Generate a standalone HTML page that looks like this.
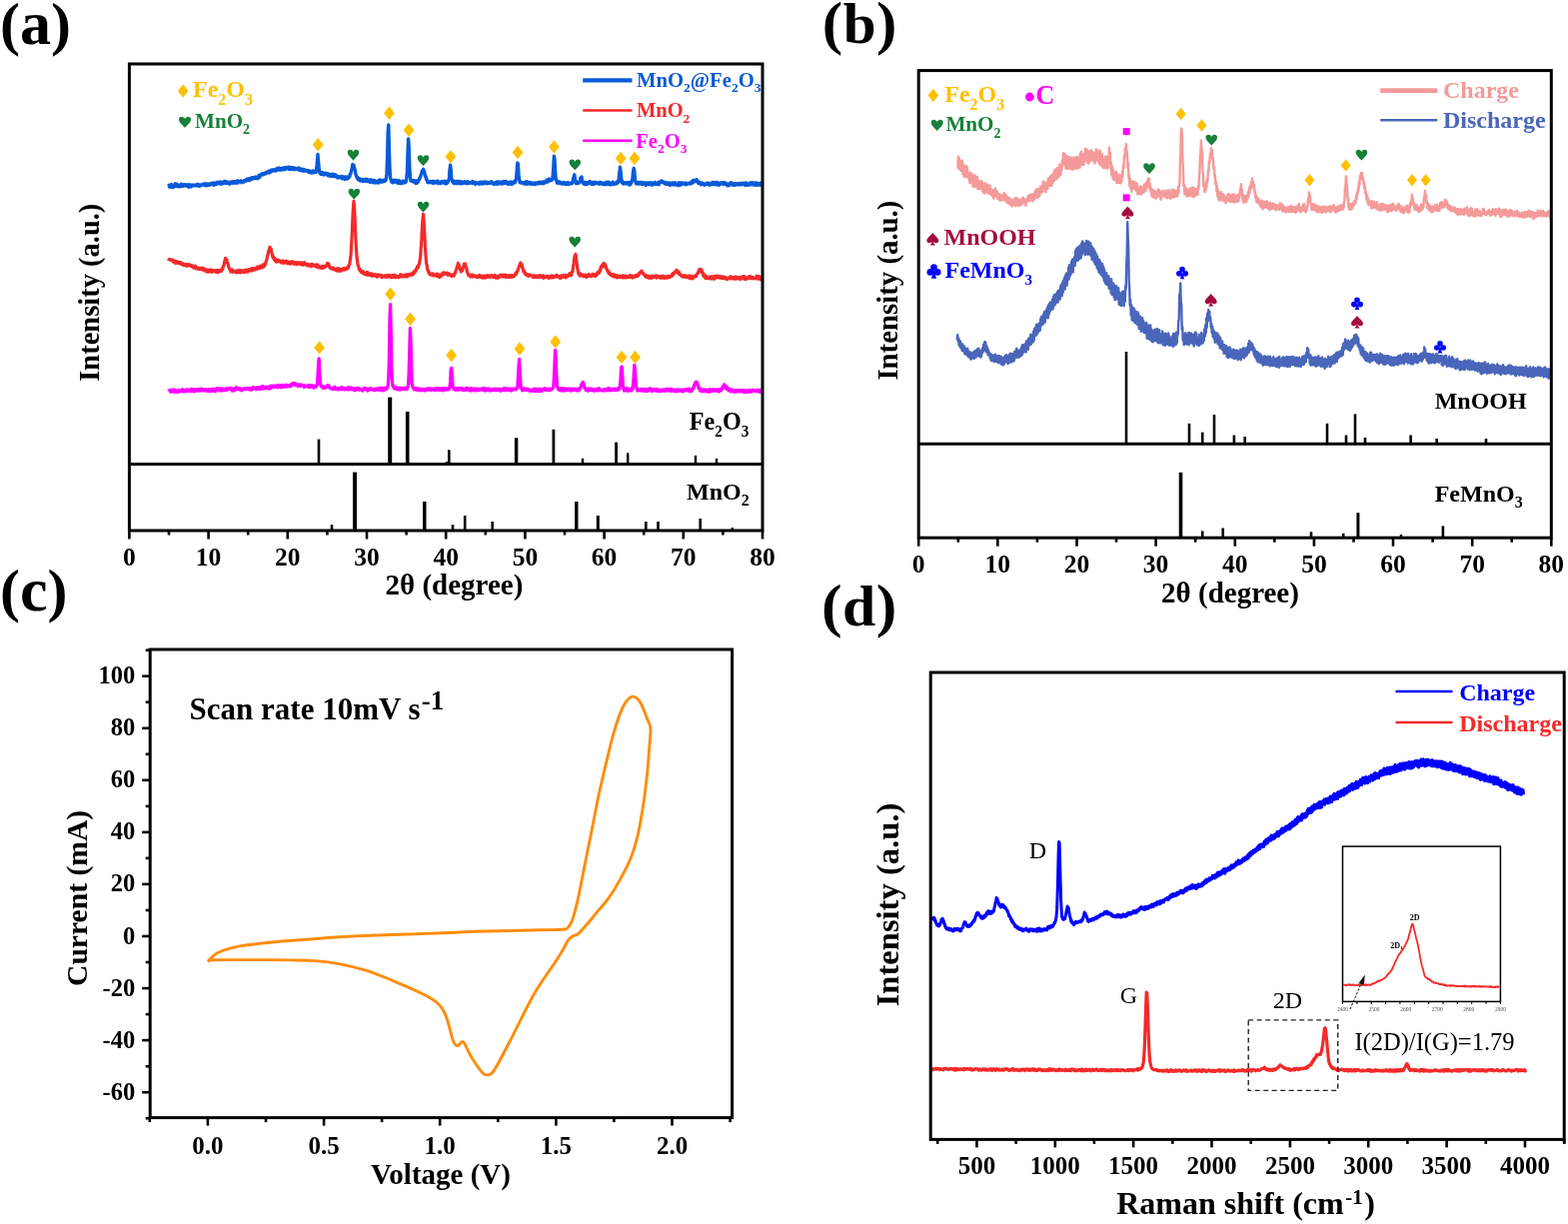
<!DOCTYPE html><html><head><meta charset="utf-8"><title>Figure</title><style>html,body{margin:0;padding:0;background:#fff;}body{width:1569px;height:1225px;overflow:hidden;}svg{display:block;}</style></head><body><svg width="1569" height="1225" viewBox="0 0 1569 1225" font-family='"Liberation Serif", "Times New Roman", serif'><text x="0" y="44" font-size="60" font-weight="bold" text-anchor="start" fill="#000">(<tspan font-size="62">a</tspan>)</text>
<polyline points="168.6,186.7 169.2,185.3 169.8,187.1 170.4,185.4 171,186.3 171.6,184.6 172.2,187.3 172.8,185.8 173.4,187.5 174,185.7 174.6,186.2 175.2,183.9 175.8,186.3 176.4,184.1 177,186.2 177.6,184.7 178.2,186.7 178.8,186.2 179.4,186.6 180,185.4 180.6,186.8 181.2,184.2 181.8,185.5 182.4,184.5 183,186.3 183.6,184.9 184.2,185.8 184.8,184.7 185.4,186 186,184.9 186.6,185.7 187.2,185 187.8,186.5 188.4,184.8 189,187.3 189.6,185.1 190.2,186.7 190.8,185 191.4,186.8 192,185.2 192.6,185.9 193.2,185.1 193.8,185.5 194.4,185.3 195,185.7 195.6,185.1 196.2,185.7 196.8,184.9 197.4,185.9 198,184.4 198.6,186 199.2,185.4 199.8,186.3 200.4,185.1 201,185.5 201.6,184.9 202.2,185 202.8,184.4 203.4,185 204,184.8 204.6,185.4 205.2,183.8 205.8,185.4 206.4,184.4 207,185.8 207.6,184.1 208.2,185.4 208.8,184.2 209.4,185.2 210,184.1 210.6,184.6 211.2,183.6 211.8,184.4 212.4,183.4 213,184.5 213.6,183.2 214.2,185.3 214.8,183.1 215.4,183.8 216,183.2 216.6,184.3 217.2,182.5 217.8,183.7 218.4,182.3 219,183.4 219.6,182.2 220.2,184 220.8,182.2 221.4,184 222,182.3 222.6,183.9 223.2,182.9 223.8,182.8 224.4,181.5 225,183.2 225.6,181.6 226.2,183.2 226.8,182.1 227.4,183.3 228,182.6 228.6,183.3 229.2,182.4 229.8,184.2 230.4,182.4 231,183.4 231.6,181.9 232.2,182.8 232.8,182.1 233.4,183.4 234,181.7 234.6,183.1 235.2,181.8 235.8,182.9 236.4,182.1 237,183 237.6,180.9 238.2,183 238.8,181.2 239.4,182 240,181.5 240.6,182 241.2,180.9 241.8,182.8 242.4,181.6 243,182.1 243.6,181.3 244.2,182 244.8,180.6 245.4,181 246,180 246.6,180.9 247.2,179.2 247.8,180.5 248.4,179.4 249,180.4 249.6,178.8 250.2,180.3 250.8,178.6 251.4,179.4 252,177.7 252.6,179 253.2,177.8 253.8,178.7 254.4,177.9 255,178.4 255.6,177.1 256.2,178.6 256.8,177.7 257.4,178.7 258,177.1 258.6,178.2 259.2,175.3 259.8,177.4 260.4,175.5 261,175.7 261.6,174.3 262.2,174.7 262.8,173.7 263.4,174.8 264,173.6 264.6,174.4 265.2,173.2 265.8,173.8 266.4,172.4 267,173.2 267.6,171.9 268.2,172.5 268.8,171.3 269.4,173 270,171.5 270.6,172.4 271.2,170.2 271.8,171.5 272.4,170.2 273,171 273.6,169.7 274.2,170.7 274.8,170.1 275.4,171 276,169.4 276.6,170.6 277.2,168.5 277.8,170.2 278.4,168.5 279,169.1 279.6,168.1 280.2,170.1 280.8,168.8 281.4,170.1 282,168.5 282.6,169.7 283.2,168.2 283.8,169.6 284.4,167.8 285,169.7 285.6,167.9 286.2,168.8 286.8,167.5 287.4,168.3 288,167.6 288.6,169.2 289.2,167.2 289.8,169.3 290.4,168.1 291,169.3 291.6,167.5 292.2,169.4 292.8,168.1 293.4,168.9 294,168 294.6,169.8 295.2,168.3 295.8,169 296.4,168.6 297,169 297.6,168.9 298.2,170.1 298.8,167.9 299.4,169.7 300,168.8 300.6,170.5 301.2,169 301.8,170.7 302.4,169.6 303,171.1 303.6,169.4 304.2,170.9 304.8,169.8 305.4,171.1 306,170.8 306.6,171 307.2,170.6 307.8,171.5 308.4,170.9 309,172.2 309.6,170.9 310.2,172.6 310.8,171.7 311.4,173 312,171.4 312.6,173 313.2,170.9 313.8,172.5 314.4,172.1 315,172.5 315.6,171.5 316.2,172.2 316.8,168.1 317.4,162.3 318,154.5 318.6,162.1 319.2,168 319.8,172.8 320.4,172.1 321,174.2 321.6,172.8 322.2,174.3 322.8,172.6 323.4,174.8 324,173.4 324.6,175 325.2,173.5 325.8,174.3 326.4,173.2 327,174.6 327.6,173.9 328.2,175.7 328.8,173.9 329.4,175.7 330,174.6 330.6,176.5 331.2,174.8 331.8,176.3 332.4,174.3 333,176.6 333.6,174.4 334.2,176.3 334.8,174.8 335.4,176.6 336,175 336.6,177 337.2,176.2 337.8,177.9 338.4,176.5 339,177.7 339.6,176.7 340.2,177.4 340.8,177.4 341.4,178.2 342,176.6 342.6,178.8 343.2,176.9 343.8,178.4 344.4,177.6 345,179.4 345.6,177 346.2,178.4 346.8,177.7 347.4,178.9 348,177 348.6,178.4 349.2,177.1 349.8,176.9 350.4,174.1 351,173.7 351.6,170.5 352.2,168.7 352.8,164.7 353.4,165.6 354,165.3 354.6,168.4 355.2,170.1 355.8,174.2 356.4,175.2 357,177.5 357.6,177.2 358.2,179.5 358.8,178.3 359.4,180.2 360,178.9 360.6,180.9 361.2,179.5 361.8,180.8 362.4,179.5 363,181.4 363.6,179.8 364.2,180.5 364.8,180 365.4,181.4 366,179.3 366.6,181.3 367.2,179.4 367.8,181.5 368.4,180.4 369,181.4 369.6,180.3 370.2,182.4 370.8,180 371.4,182.1 372,180.3 372.6,182.4 373.2,180.6 373.8,182.8 374.4,180.5 375,182.4 375.6,181 376.2,182.9 376.8,181.7 377.4,182.2 378,181.5 378.6,183.1 379.2,180.1 379.8,181.7 380.4,180.2 381,181.9 381.6,180.5 382.2,182.2 382.8,180.9 383.4,181.5 384,180.4 384.6,181.6 385.2,180.7 385.8,180.7 386.4,178.5 387,174.3 387.6,157 388.2,132.1 388.8,125 389.4,149.4 390,169.2 390.6,178.3 391.2,179.5 391.8,182 392.4,181.1 393,182.8 393.6,181 394.2,182.4 394.8,180.3 395.4,182.1 396,180.4 396.6,182.1 397.2,181.7 397.8,183.2 398.4,180.7 399,183.3 399.6,180.9 400.2,183.4 400.8,181.9 401.4,183.6 402,181.9 402.6,183.3 403.2,181.2 403.8,182.6 404.4,181.9 405,182.9 405.6,181.3 406.2,182.1 406.8,178.4 407.4,172.2 408,153.2 408.6,139 409.2,147.1 409.8,166.7 410.4,176.7 411,181.1 411.6,180.6 412.2,181.3 412.8,181.2 413.4,181.8 414,180.6 414.6,182.3 415.2,181.2 415.8,183.4 416.4,180.9 417,183.4 417.6,181.2 418.2,182.2 418.8,180.1 419.4,179.9 420,178 420.6,177.6 421.2,174.8 421.8,173.7 422.4,170.9 423,170.3 423.6,169.4 424.2,171.1 424.8,172.3 425.4,176.2 426,176.3 426.6,179.4 427.2,179.9 427.8,182.4 428.4,182 429,182.7 429.6,182 430.2,182.2 430.8,181.5 431.4,182.7 432,181.5 432.6,183.1 433.2,181.4 433.8,183.4 434.4,182.1 435,183 435.6,181.6 436.2,182.4 436.8,181.7 437.4,182.9 438,181.2 438.6,183.7 439.2,182.4 439.8,183.3 440.4,182.7 441,183.4 441.6,181.8 442.2,182.9 442.8,181.5 443.4,182.8 444,181.7 444.6,183.1 445.2,181.3 445.8,183.9 446.4,181.6 447,183.7 447.6,182 448.2,182.4 448.8,180.3 449.4,179.4 450,169.8 450.6,165.2 451.2,169.7 451.8,178.5 452.4,181.2 453,182.2 453.6,181.1 454.2,183.5 454.8,182.1 455.4,183 456,181.6 456.6,183.7 457.2,181.5 457.8,183.1 458.4,181.5 459,183.5 459.6,181.6 460.2,183.8 460.8,181.7 461.4,183.7 462,182.3 462.6,183.7 463.2,182 463.8,183.3 464.4,181.9 465,183.1 465.6,181.9 466.2,183.4 466.8,182.5 467.4,183.6 468,181.7 468.6,183.6 469.2,182.8 469.8,183.3 470.4,182.5 471,182.9 471.6,182.5 472.2,183.3 472.8,181.6 473.4,183.3 474,182.1 474.6,183.5 475.2,182.5 475.8,184.6 476.4,182.6 477,183.4 477.6,183.1 478.2,183.1 478.8,183 479.4,184.1 480,182.4 480.6,184 481.2,182.2 481.8,183.7 482.4,182.6 483,184 483.6,182.2 484.2,183.5 484.8,182 485.4,183.6 486,182.1 486.6,182.8 487.2,182.5 487.8,183.8 488.4,182.5 489,183.2 489.6,182.6 490.2,183.3 490.8,182.4 491.4,182.9 492,181.9 492.6,183.4 493.2,183.6 493.8,184.4 494.4,182.9 495,183.9 495.6,182.8 496.2,184.1 496.8,182.3 497.4,184.2 498,181.9 498.6,184 499.2,182 499.8,183.6 500.4,182.4 501,183.7 501.6,182.3 502.2,184 502.8,182 503.4,183.8 504,181.6 504.6,183.5 505.2,182.1 505.8,183.2 506.4,181.6 507,183.6 507.6,182.6 508.2,184.3 508.8,182.5 509.4,184.1 510,182.5 510.6,183.4 511.2,182 511.8,184.6 512.4,182.9 513,183.6 513.6,182.3 514.2,183.1 514.8,181.3 515.4,182.6 516,180.5 516.6,178.7 517.2,170.5 517.8,163 518.4,163.8 519,175.2 519.6,178.9 520.2,182.7 520.8,181.8 521.4,183 522,182.8 522.6,183.1 523.2,182.7 523.8,183.8 524.4,182.8 525,184.1 525.6,182.6 526.2,183.6 526.8,181.8 527.4,184.4 528,182.3 528.6,183.8 529.2,182.3 529.8,183.9 530.4,182.8 531,184.1 531.6,182.9 532.2,184.4 532.8,183 533.4,183.7 534,183.7 534.6,184.4 535.2,182.9 535.8,184.4 536.4,183.4 537,183.6 537.6,182.8 538.2,183.7 538.8,182.7 539.4,183.6 540,182.2 540.6,183.6 541.2,182.3 541.8,183.4 542.4,182.2 543,183.6 543.6,182 544.2,183.7 544.8,182.1 545.4,182.7 546,181.6 546.6,182.3 547.2,180 547.8,182 548.4,180.1 549,181.6 549.6,179.1 550.2,180.5 550.8,180.1 551.4,180.5 552,179.6 552.6,179.9 553.2,175.4 553.8,167.9 554.4,156.1 555,160.1 555.6,170.8 556.2,179.9 556.8,180.5 557.4,183 558,181.4 558.6,183.2 559.2,181.9 559.8,183.5 560.4,182.3 561,183.6 561.6,182.7 562.2,183.9 562.8,183.4 563.4,183.9 564,182.6 564.6,183.6 565.2,183.2 565.8,184.4 566.4,183.2 567,184.3 567.6,182.8 568.2,184.3 568.8,182.9 569.4,184.3 570,183.3 570.6,183.5 571.2,183.1 571.8,183.7 572.4,182.7 573,182.9 573.6,178.3 574.2,177.2 574.8,174.8 575.4,179.3 576,180.7 576.6,183.7 577.2,182.1 577.8,183.4 578.4,182.6 579,183.3 579.6,182.3 580.2,182.3 580.8,178.2 581.4,177.4 582,177.1 582.6,182 583.2,182.3 583.8,183.8 584.4,182.7 585,184.6 585.6,182.4 586.2,184.2 586.8,182.7 587.4,184.4 588,183 588.6,183.7 589.2,182.3 589.8,183.3 590.4,181.6 591,183.5 591.6,182.4 592.2,184.4 592.8,183 593.4,184.3 594,182.3 594.6,184.2 595.2,183.2 595.8,183.5 596.4,182.4 597,183.6 597.6,182.8 598.2,183.3 598.8,183 599.4,184.3 600,182.4 600.6,183.7 601.2,182.5 601.8,183.9 602.4,183.2 603,184.3 603.6,183.2 604.2,184.5 604.8,183.2 605.4,184.4 606,183.1 606.6,184.5 607.2,182.3 607.8,184 608.4,182.2 609,184.2 609.6,182.6 610.2,184.7 610.8,183.5 611.4,184.8 612,183.3 612.6,184.3 613.2,182.2 613.8,184.4 614.4,183.2 615,183.6 615.6,183.2 616.2,184.1 616.8,182.5 617.4,183.6 618,181.7 618.6,182.4 619.2,178.7 619.8,173.8 620.4,167.2 621,170.9 621.6,177.4 622.2,182.5 622.8,181.6 623.4,183.9 624,183 624.6,183.7 625.2,182.7 625.8,183.6 626.4,182.9 627,183.8 627.6,182.9 628.2,184 628.8,182.5 629.4,184.8 630,183.6 630.6,184.9 631.2,182.3 631.8,183 632.4,180.9 633,178.8 633.6,171.3 634.2,168.4 634.8,171.4 635.4,179.5 636,181.7 636.6,183.9 637.2,182.5 637.8,183.7 638.4,182.6 639,184.2 639.6,183 640.2,183.5 640.8,182.4 641.4,183.9 642,183 642.6,184.6 643.2,182.7 643.8,183.8 644.4,183.3 645,183.5 645.6,182.8 646.2,185.4 646.8,184.1 647.4,184.6 648,182.9 648.6,184.6 649.2,182.9 649.8,184.6 650.4,183 651,184.1 651.6,182.8 652.2,185.1 652.8,184 653.4,184.8 654,183.3 654.6,184.5 655.2,182.5 655.8,183.9 656.4,183.2 657,184.6 657.6,183.3 658.2,184.1 658.8,182.4 659.4,184.7 660,182.2 660.6,182.7 661.2,181.2 661.8,182.3 662.4,181.1 663,182.7 663.6,181.8 664.2,183 664.8,182.4 665.4,184 666,183.3 666.6,183.9 667.2,182.9 667.8,184.6 668.4,183.2 669,184.1 669.6,183.1 670.2,185.3 670.8,183.3 671.4,184.8 672,183.6 672.6,184.8 673.2,183.1 673.8,184.6 674.4,183.2 675,184.9 675.6,182.8 676.2,184.8 676.8,183.8 677.4,184.9 678,184.1 678.6,185.7 679.2,182.8 679.8,185.4 680.4,183.2 681,185.1 681.6,182.8 682.2,184.7 682.8,183.2 683.4,183.9 684,183.4 684.6,183.8 685.2,183.2 685.8,184.8 686.4,183 687,184.6 687.6,183.9 688.2,183.8 688.8,183.4 689.4,183.7 690,183.2 690.6,183.9 691.2,182.5 691.8,183.5 692.4,181.8 693,183 693.6,180.4 694.2,182.2 694.8,180.6 695.4,180.8 696,180.2 696.6,181.4 697.2,179.8 697.8,182.1 698.4,181.5 699,183.4 699.6,182 700.2,183.8 700.8,183.1 701.4,184.8 702,182.9 702.6,184.2 703.2,183.3 703.8,184.6 704.4,184.3 705,185.2 705.6,184.4 706.2,184.1 706.8,183.3 707.4,184.5 708,183.4 708.6,184.3 709.2,183.3 709.8,185.2 710.4,183.8 711,184.7 711.6,183.7 712.2,184.8 712.8,182.6 713.4,184.4 714,183.1 714.6,184.4 715.2,182.5 715.8,184.6 716.4,183.3 717,184.8 717.6,182.5 718.2,184.9 718.8,183.7 719.4,185.2 720,183.2 720.6,184.5 721.2,182.9 721.8,184 722.4,182.7 723,183.8 723.6,183.3 724.2,184.6 724.8,182.6 725.4,184.1 726,183.3 726.6,184.2 727.2,183.7 727.8,185.8 728.4,184.4 729,185.7 729.6,184.4 730.2,184.8 730.8,183.1 731.4,184.7 732,182.8 732.6,184.7 733.2,184.5 733.8,185.3 734.4,183.7 735,185.3 735.6,183.9 736.2,184.6 736.8,183.8 737.4,184.6 738,183.7 738.6,185 739.2,184 739.8,184.6 740.4,183.4 741,184.8 741.6,183.9 742.2,184.7 742.8,183.3 743.4,184.3 744,183.4 744.6,184.7 745.2,183.4 745.8,185.4 746.4,183 747,184.3 747.6,183.8 748.2,185.4 748.8,184.4 749.4,184.8 750,183.2 750.6,185 751.2,183 751.8,184.1 752.4,182.7 753,184.8 753.6,183 754.2,184.8 754.8,182.9 755.4,185.3 756,184 756.6,184.9 757.2,182.9 757.8,185.2 758.4,183.8 759,185.2 759.6,183.8 760.2,184.9 760.8,183.3 761.4,185.2 762,183.3 762.6,185.1" fill="none" stroke="#0A5AD8" stroke-width="3.4" stroke-linejoin="round"/>
<polyline points="168.6,261.1 169.2,259.6 169.8,260.1 170.4,259.4 171,260.3 171.6,260.2 172.2,260.6 172.8,260 173.4,262.1 174,261.2 174.6,262.4 175.2,261.1 175.8,263.6 176.4,261.5 177,263.2 177.6,262 178.2,263.1 178.8,262.2 179.4,263.5 180,262.8 180.6,263.8 181.2,262.7 181.8,264.7 182.4,263.8 183,264.9 183.6,264.3 184.2,265.5 184.8,264.8 185.4,265.3 186,264.6 186.6,266.1 187.2,264.4 187.8,266.1 188.4,265.7 189,265.6 189.6,264.8 190.2,266.1 190.8,265.4 191.4,266.5 192,265.9 192.6,267.1 193.2,265.9 193.8,268 194.4,266.9 195,267.4 195.6,266.3 196.2,268.9 196.8,267.7 197.4,268.3 198,268.4 198.6,269.4 199.2,268.1 199.8,269.3 200.4,268.6 201,269.2 201.6,268.2 202.2,269.7 202.8,268.3 203.4,270.3 204,268.7 204.6,269.8 205.2,269.5 205.8,271.5 206.4,270.2 207,270.4 207.6,269.9 208.2,272.3 208.8,270.6 209.4,271.8 210,270.2 210.6,271.2 211.2,269.9 211.8,272.3 212.4,270.7 213,271.7 213.6,270.6 214.2,271.3 214.8,270.5 215.4,272 216,271.1 216.6,272 217.2,270.4 217.8,272.8 218.4,270.5 219,272.3 219.6,271.4 220.2,271.3 220.8,270.1 221.4,271.3 222,269.9 222.6,269.6 223.2,266.8 223.8,266.6 224.4,262.9 225,261.1 225.6,258.4 226.2,259.3 226.8,259.9 227.4,263 228,263.5 228.6,266.6 229.2,268 229.8,269.8 230.4,269.6 231,272 231.6,270.3 232.2,271.9 232.8,270 233.4,272.3 234,271.5 234.6,271.9 235.2,271.5 235.8,272.6 236.4,271.5 237,272.8 237.6,270.7 238.2,272.6 238.8,270.9 239.4,272.2 240,270.5 240.6,272.9 241.2,270.6 241.8,272.2 242.4,270.9 243,272 243.6,270.9 244.2,272.5 244.8,270.3 245.4,272.3 246,270.6 246.6,271.7 247.2,269.9 247.8,272.2 248.4,270.4 249,271.2 249.6,269.3 250.2,270.5 250.8,269.6 251.4,271.1 252,268.6 252.6,270.8 253.2,269 253.8,270 254.4,268.4 255,270 255.6,268.6 256.2,268.7 256.8,267.7 257.4,269.3 258,267 258.6,268.1 259.2,267.4 259.8,268.3 260.4,266.1 261,267.8 261.6,266.5 262.2,267.8 262.8,265.1 263.4,266.9 264,264.6 264.6,266.4 265.2,263.8 265.8,264.2 266.4,260.7 267,259.7 267.6,255.9 268.2,254.7 268.8,250.8 269.4,250.3 270,247.3 270.6,249.2 271.2,248.9 271.8,252.9 272.4,254.3 273,257.7 273.6,256.7 274.2,259.6 274.8,258.6 275.4,261 276,259.5 276.6,262.1 277.2,260.4 277.8,261 278.4,260.3 279,261.8 279.6,260.8 280.2,261.5 280.8,261.2 281.4,262.9 282,261.7 282.6,261.9 283.2,261 283.8,263.4 284.4,261.7 285,262.5 285.6,261.4 286.2,262.2 286.8,261.1 287.4,263.5 288,261.9 288.6,263.5 289.2,262.2 289.8,264 290.4,262.3 291,264 291.6,261.9 292.2,263.7 292.8,261.9 293.4,263.6 294,262.2 294.6,264.3 295.2,262.6 295.8,263.5 296.4,262.6 297,264.7 297.6,263.1 298.2,263.6 298.8,262.8 299.4,264.2 300,263.2 300.6,264.2 301.2,263 301.8,264.8 302.4,262.9 303,265.2 303.6,264.3 304.2,264.7 304.8,262.7 305.4,264.5 306,264.2 306.6,265 307.2,264.4 307.8,265.9 308.4,264.4 309,266 309.6,265 310.2,265.7 310.8,264.7 311.4,266.7 312,264.4 312.6,265.8 313.2,264.8 313.8,266 314.4,265.8 315,265.9 315.6,265.1 316.2,267 316.8,265 317.4,266.6 318,265.1 318.6,268 319.2,266.9 319.8,267.4 320.4,267.1 321,268.4 321.6,266.8 322.2,267.8 322.8,266.3 323.4,268.3 324,266.3 324.6,267.6 325.2,266.5 325.8,266.9 326.4,265.7 327,265.5 327.6,263.4 328.2,264.3 328.8,263.9 329.4,266.9 330,266.7 330.6,268.4 331.2,268.3 331.8,269.1 332.4,268.2 333,269.1 333.6,267.9 334.2,269.9 334.8,269.8 335.4,270.2 336,269.2 336.6,270.9 337.2,269 337.8,271.2 338.4,268.7 339,270.4 339.6,269 340.2,271.3 340.8,269.9 341.4,271 342,269.4 342.6,270 343.2,269 343.8,269.8 344.4,268.4 345,270.1 345.6,269 346.2,269.5 346.8,268.1 347.4,269 348,267.4 348.6,267.9 349.2,265.2 349.8,264.5 350.4,260.1 351,255.7 351.6,245.8 352.2,236.2 352.8,220.2 353.4,208.3 354,201.4 354.6,207.7 355.2,221.4 355.8,236.6 356.4,248 357,256.6 357.6,261.5 358.2,265.7 358.8,266.6 359.4,270 360,269.1 360.6,271.4 361.2,270.7 361.8,272.7 362.4,272 363,273.1 363.6,271.7 364.2,274.1 364.8,273.5 365.4,274.5 366,273.5 366.6,275 367.2,272.5 367.8,275.2 368.4,272.8 369,275 369.6,273.7 370.2,275.3 370.8,274.6 371.4,275.8 372,273.9 372.6,276.2 373.2,274.4 373.8,276 374.4,275.1 375,275.7 375.6,274.7 376.2,276.5 376.8,275.8 377.4,277.2 378,275 378.6,275.9 379.2,275 379.8,275.9 380.4,275.8 381,276.5 381.6,275.3 382.2,277.5 382.8,276.3 383.4,276.7 384,276.4 384.6,277.1 385.2,275.7 385.8,276.3 386.4,275.7 387,277.5 387.6,276 388.2,276.8 388.8,275.4 389.4,276.6 390,275.6 390.6,277.4 391.2,276.2 391.8,277.5 392.4,275.5 393,277.4 393.6,275.6 394.2,277.1 394.8,275.2 395.4,277.6 396,275.8 396.6,277.5 397.2,276.4 397.8,277.1 398.4,276.6 399,277.7 399.6,276.2 400.2,277 400.8,274.7 401.4,276.8 402,275.2 402.6,276.5 403.2,275.9 403.8,276.9 404.4,275.8 405,276.7 405.6,274.9 406.2,276.6 406.8,275 407.4,276.9 408,274.6 408.6,275.8 409.2,275.1 409.8,275.6 410.4,274.2 411,274.8 411.6,274.2 412.2,275.2 412.8,273.5 413.4,274.6 414,272 414.6,272.9 415.2,271.2 415.8,272 416.4,269.3 417,269.4 417.6,266.7 418.2,268.2 418.8,265.2 419.4,264.7 420,261.2 420.6,258.4 421.2,248.7 421.8,241 422.4,227.9 423,219.3 423.6,214.4 424.2,222.8 424.8,233.8 425.4,246.9 426,254.6 426.6,263.6 427.2,265.2 427.8,270.3 428.4,270.4 429,273.2 429.6,272.7 430.2,274.7 430.8,273.9 431.4,275.2 432,274.7 432.6,275.6 433.2,273.8 433.8,275.6 434.4,275.2 435,275.9 435.6,275 436.2,275.7 436.8,274.2 437.4,276.6 438,274.4 438.6,275.6 439.2,275.5 439.8,277.4 440.4,275 441,276.5 441.6,275.1 442.2,275.8 442.8,273.4 443.4,275 444,272.8 444.6,274.1 445.2,273.2 445.8,273.6 446.4,273.3 447,274.3 447.6,273.2 448.2,275.2 448.8,273.7 449.4,275.1 450,274.3 450.6,275.5 451.2,275.7 451.8,276.5 452.4,274.9 453,275.6 453.6,274.9 454.2,276.2 454.8,273.9 455.4,273.5 456,271.1 456.6,269.9 457.2,267.1 457.8,266.4 458.4,263.3 459,265 459.6,266.3 460.2,269.4 460.8,268.9 461.4,271.9 462,269.4 462.6,270.9 463.2,268 463.8,267.3 464.4,264.1 465,264.3 465.6,263.9 466.2,267.4 466.8,268.2 467.4,272.2 468,273 468.6,275.3 469.2,274.9 469.8,276.1 470.4,275.7 471,277 471.6,275.1 472.2,276.3 472.8,275 473.4,277.2 474,275.8 474.6,276.3 475.2,275.9 475.8,276.7 476.4,276.6 477,277.5 477.6,276.4 478.2,277.3 478.8,275.8 479.4,276.7 480,275.4 480.6,277.4 481.2,276.2 481.8,277.8 482.4,276.2 483,278.1 483.6,277 484.2,277.9 484.8,276 485.4,278.1 486,276.8 486.6,277.5 487.2,275.7 487.8,277.2 488.4,275.9 489,277.2 489.6,275.8 490.2,277.4 490.8,275.9 491.4,276.7 492,275.6 492.6,276.8 493.2,276 493.8,277.5 494.4,275.9 495,277.2 495.6,275.5 496.2,278.2 496.8,276.7 497.4,278.1 498,277 498.6,278.1 499.2,276.1 499.8,276.2 500.4,275.5 501,276.8 501.6,275.2 502.2,276.4 502.8,276 503.4,277.1 504,275.1 504.6,276.1 505.2,275.9 505.8,277.5 506.4,275.2 507,276.8 507.6,275.6 508.2,277.4 508.8,276.1 509.4,277.6 510,275.6 510.6,276.7 511.2,276.3 511.8,277.3 512.4,275.5 513,277 513.6,275.9 514.2,276.6 514.8,275.4 515.4,275.6 516,273.2 516.6,274.2 517.2,272.2 517.8,271.4 518.4,269.5 519,268.4 519.6,266.4 520.2,264.7 520.8,262.9 521.4,264.7 522,264.2 522.6,267.2 523.2,268.7 523.8,271.7 524.4,271 525,273.5 525.6,273 526.2,275.1 526.8,274.7 527.4,275.6 528,274.7 528.6,276.3 529.2,275.5 529.8,275.9 530.4,275 531,275.8 531.6,275.7 532.2,276.1 532.8,275.8 533.4,277.6 534,275.9 534.6,277.3 535.2,276.2 535.8,277.4 536.4,275.9 537,277.6 537.6,276.3 538.2,277 538.8,276.2 539.4,277.6 540,275.7 540.6,277 541.2,275.9 541.8,277.1 542.4,276.5 543,277.8 543.6,275.9 544.2,278.3 544.8,276.7 545.4,277.4 546,277.3 546.6,276.9 547.2,276.1 547.8,277.2 548.4,276.8 549,278.4 549.6,276.9 550.2,277.8 550.8,276.7 551.4,277.8 552,276 552.6,277.8 553.2,276.1 553.8,277.8 554.4,276.8 555,277.1 555.6,276.2 556.2,276.9 556.8,275.3 557.4,276.9 558,275.9 558.6,276.8 559.2,276.6 559.8,278 560.4,277.4 561,278.3 561.6,275.8 562.2,276.7 562.8,276.6 563.4,277.2 564,275.4 564.6,277.2 565.2,276.8 565.8,277.8 566.4,275.4 567,277.4 567.6,276.6 568.2,276.2 568.8,275.3 569.4,276 570,273.7 570.6,275.3 571.2,274.6 571.8,275.5 572.4,272 573,271.8 573.6,266.4 574.2,263.2 574.8,257.3 575.4,255.8 576,254.5 576.6,260.1 577.2,263.3 577.8,268.8 578.4,271.1 579,274.5 579.6,273.9 580.2,276 580.8,273.7 581.4,275.8 582,274.7 582.6,276.1 583.2,275.2 583.8,276.5 584.4,275.1 585,276.7 585.6,275.4 586.2,277.1 586.8,275.2 587.4,277.3 588,275.7 588.6,276.3 589.2,274.5 589.8,276.1 590.4,275.9 591,276.5 591.6,275.6 592.2,276.1 592.8,274.4 593.4,276.1 594,274.4 594.6,276 595.2,274.9 595.8,276.4 596.4,274.7 597,275.3 597.6,273 598.2,273.9 598.8,272.5 599.4,273.1 600,270.6 600.6,271.3 601.2,267.1 601.8,267.9 602.4,265.5 603,266.4 603.6,263.9 604.2,264.8 604.8,263.6 605.4,267 606,265.5 606.6,268 607.2,269.3 607.8,271.2 608.4,271 609,273.3 609.6,272.5 610.2,274.5 610.8,274 611.4,275.3 612,275.3 612.6,276.3 613.2,274.3 613.8,276.2 614.4,275.1 615,277.1 615.6,275.5 616.2,277 616.8,275.7 617.4,277.9 618,276.1 618.6,277.7 619.2,276.8 619.8,277.2 620.4,276.2 621,277.4 621.6,276.7 622.2,277 622.8,275.9 623.4,278 624,275.9 624.6,277.1 625.2,276.8 625.8,277.9 626.4,276.2 627,277.7 627.6,276.6 628.2,277.3 628.8,276.6 629.4,277.5 630,275.7 630.6,276.7 631.2,275.8 631.8,277.7 632.4,276.2 633,278 633.6,276.1 634.2,276.4 634.8,276.3 635.4,277.2 636,275.8 636.6,276.4 637.2,275.1 637.8,276.4 638.4,275.9 639,275.7 639.6,273.3 640.2,273.4 640.8,272.3 641.4,272.9 642,271.1 642.6,273.1 643.2,272.8 643.8,274.2 644.4,274.3 645,275.6 645.6,275.3 646.2,277.2 646.8,275.7 647.4,277.2 648,276.2 648.6,278.1 649.2,276.3 649.8,278 650.4,277 651,278.3 651.6,276.9 652.2,278 652.8,276.1 653.4,277.8 654,276.5 654.6,277.1 655.2,276.3 655.8,277.1 656.4,275.9 657,278.1 657.6,276 658.2,277.2 658.8,276.8 659.4,277.7 660,276.6 660.6,278 661.2,276.4 661.8,278.1 662.4,276.5 663,278.2 663.6,276.2 664.2,278.1 664.8,277.2 665.4,278.4 666,277 666.6,277.7 667.2,276.7 667.8,278.1 668.4,276.5 669,277.7 669.6,276.8 670.2,277.5 670.8,276.3 671.4,276.3 672,275.3 672.6,276.2 673.2,273.7 673.8,274.8 674.4,273 675,273.4 675.6,271.8 676.2,272.5 676.8,270.4 677.4,272 678,271 678.6,273.5 679.2,271.9 679.8,274.5 680.4,274.2 681,275.4 681.6,275.2 682.2,276.6 682.8,275.8 683.4,277.2 684,276.5 684.6,276.7 685.2,275.7 685.8,277.4 686.4,276.3 687,277.3 687.6,276.3 688.2,277.3 688.8,277 689.4,278.2 690,275.9 690.6,278.4 691.2,277.1 691.8,278.4 692.4,276.5 693,279 693.6,276.8 694.2,277.6 694.8,276.3 695.4,276.9 696,275.6 696.6,276.4 697.2,274.6 697.8,274.3 698.4,272.5 699,272.6 699.6,269.9 700.2,271.3 700.8,269.3 701.4,270.6 702,270 702.6,272.9 703.2,272.7 703.8,276.1 704.4,274.5 705,277.1 705.6,275.5 706.2,278.6 706.8,276.9 707.4,278.3 708,277.1 708.6,278.5 709.2,277.6 709.8,278.6 710.4,277 711,278.3 711.6,276.8 712.2,279 712.8,276.8 713.4,278.7 714,277 714.6,279.3 715.2,276.4 715.8,277.7 716.4,276.4 717,278 717.6,276.2 718.2,277.4 718.8,276.5 719.4,278 720,276.9 720.6,277.8 721.2,276.7 721.8,278.6 722.4,276.9 723,278.5 723.6,276.9 724.2,278.3 724.8,277.3 725.4,278.9 726,277.7 726.6,279.1 727.2,278.1 727.8,279.7 728.4,278.2 729,278.9 729.6,278 730.2,278.3 730.8,276.8 731.4,279 732,277.1 732.6,278.4 733.2,277.6 733.8,278.8 734.4,277.8 735,279.1 735.6,277.2 736.2,279.2 736.8,277.1 737.4,278.9 738,277.7 738.6,278.3 739.2,278.5 739.8,279 740.4,277.5 741,279.5 741.6,277.8 742.2,278.3 742.8,276.9 743.4,278.2 744,276.6 744.6,279 745.2,276.8 745.8,279.3 746.4,277.8 747,279.3 747.6,278.1 748.2,278 748.8,277.5 749.4,278.2 750,276.4 750.6,278.7 751.2,276.8 751.8,278.4 752.4,277.2 753,278.7 753.6,277.6 754.2,278.9 754.8,278.3 755.4,278.6 756,278.4 756.6,278.9 757.2,276.2 757.8,278.9 758.4,277.1 759,278.2 759.6,276.5 760.2,279.5 760.8,278.4 761.4,279.8 762,277.7 762.6,279" fill="none" stroke="#F42A2A" stroke-width="3.2" stroke-linejoin="round"/>
<polyline points="168.6,391.7 169.2,390.8 169.8,390.9 170.4,390.2 171,392.2 171.6,390.6 172.2,391.8 172.8,390.5 173.4,392 174,390 174.6,391.1 175.2,390.3 175.8,392.6 176.4,391.1 177,391.5 177.6,391.4 178.2,392.4 178.8,390.4 179.4,391.7 180,390.8 180.6,391.4 181.2,390.8 181.8,390.9 182.4,389.6 183,391.6 183.6,390.3 184.2,392 184.8,390.5 185.4,391 186,390.2 186.6,391.8 187.2,389.9 187.8,391 188.4,390.6 189,390.8 189.6,390.1 190.2,391.8 190.8,390 191.4,390.4 192,389.3 192.6,391.2 193.2,390.7 193.8,391.8 194.4,389.9 195,391.6 195.6,390.3 196.2,390.7 196.8,389.7 197.4,390.7 198,389.4 198.6,391.1 199.2,389.5 199.8,391.1 200.4,390.2 201,390.7 201.6,389 202.2,390.3 202.8,390.4 203.4,391 204,389.8 204.6,390.8 205.2,389.6 205.8,391.1 206.4,389.9 207,390.8 207.6,390.1 208.2,391.6 208.8,389.7 209.4,391.3 210,390 210.6,391.4 211.2,390 211.8,391.5 212.4,389.3 213,390.8 213.6,389.4 214.2,391.1 214.8,390 215.4,391.8 216,389.4 216.6,390.4 217.2,388.6 217.8,389.9 218.4,389.8 219,390.2 219.6,388.7 220.2,391 220.8,389.6 221.4,390.3 222,388.9 222.6,391 223.2,389.3 223.8,389.9 224.4,389.6 225,390.4 225.6,389.3 226.2,390.4 226.8,388.8 227.4,390 228,389 228.6,389.8 229.2,388.9 229.8,389.3 230.4,388.3 231,389.4 231.6,388.4 232.2,391.2 232.8,389.9 233.4,390.7 234,389.2 234.6,390.9 235.2,388.8 235.8,389.4 236.4,387.8 237,389.3 237.6,388.3 238.2,389.6 238.8,388.7 239.4,389.9 240,388.8 240.6,389.7 241.2,389.5 241.8,390.8 242.4,389.2 243,390 243.6,389.3 244.2,389.7 244.8,388.8 245.4,389.3 246,388.8 246.6,389.5 247.2,388.6 247.8,389.1 248.4,388.7 249,389.7 249.6,389 250.2,389.4 250.8,388.6 251.4,390.3 252,388.9 252.6,389.5 253.2,387.5 253.8,388.3 254.4,388.1 255,388.8 255.6,388.1 256.2,389.7 256.8,387.9 257.4,389 258,388.3 258.6,389.3 259.2,387.8 259.8,388.4 260.4,387.7 261,389.3 261.6,387.2 262.2,388 262.8,386.5 263.4,388.8 264,387.2 264.6,388.3 265.2,387.5 265.8,388.9 266.4,387.1 267,387.9 267.6,387.6 268.2,388.9 268.8,387.4 269.4,389 270,386.8 270.6,388.7 271.2,386.3 271.8,387.5 272.4,386.2 273,387.4 273.6,386.2 274.2,387.7 274.8,387.1 275.4,387.1 276,386.1 276.6,387 277.2,386.4 277.8,387.8 278.4,385.5 279,387.4 279.6,385.9 280.2,387.4 280.8,385.8 281.4,387.7 282,385.6 282.6,387.2 283.2,385.5 283.8,387.2 284.4,386.1 285,386.3 285.6,385.4 286.2,387 286.8,385.2 287.4,386.9 288,385.7 288.6,386.2 289.2,386.1 289.8,386.4 290.4,385.2 291,386.7 291.6,384.7 292.2,384.8 292.8,383.4 293.4,384.2 294,383.6 294.6,385.1 295.2,383.6 295.8,385.4 296.4,384.4 297,385.7 297.6,384.8 298.2,386.5 298.8,384.9 299.4,386.4 300,385.1 300.6,386.2 301.2,384.9 301.8,385.8 302.4,385.4 303,386.2 303.6,385.7 304.2,387.4 304.8,385.7 305.4,386.9 306,386.3 306.6,386.4 307.2,386.4 307.8,386.7 308.4,385.4 309,387.6 309.6,386.4 310.2,386.5 310.8,385.7 311.4,387.3 312,385.8 312.6,386.8 313.2,386 313.8,388.1 314.4,386.7 315,387.3 315.6,386.1 316.2,387.1 316.8,386.2 317.4,384.6 318,376.3 318.6,364.1 319.2,358.8 319.8,373.3 320.4,382 321,386.3 321.6,386.1 322.2,387.3 322.8,386.8 323.4,388.4 324,386.7 324.6,387.3 325.2,387.5 325.8,388.3 326.4,387.6 327,387.1 327.6,385.8 328.2,386.2 328.8,385.8 329.4,387.6 330,387.4 330.6,388.9 331.2,388.7 331.8,388.9 332.4,388.4 333,389.4 333.6,388.4 334.2,389.3 334.8,387.2 335.4,389.5 336,388.5 336.6,389.1 337.2,388.5 337.8,389.8 338.4,388.6 339,389.9 339.6,388.3 340.2,389 340.8,388.5 341.4,389.7 342,387.7 342.6,388.8 343.2,388.3 343.8,389.5 344.4,388.6 345,389.9 345.6,388.7 346.2,389.6 346.8,388.8 347.4,389 348,388.1 348.6,390 349.2,387.8 349.8,389.3 350.4,388.6 351,389.8 351.6,388 352.2,389.6 352.8,388.5 353.4,389.8 354,389.4 354.6,390.6 355.2,388.9 355.8,390.5 356.4,389 357,389.9 357.6,388.5 358.2,389.9 358.8,388.5 359.4,390.2 360,389 360.6,389.7 361.2,389.6 361.8,390.3 362.4,389.8 363,391 363.6,389.1 364.2,389.9 364.8,388.3 365.4,389.2 366,388.7 366.6,389.1 367.2,389.6 367.8,391.1 368.4,389.4 369,390.4 369.6,388.9 370.2,389.7 370.8,388.7 371.4,389.6 372,389.3 372.6,390.1 373.2,389.4 373.8,390.3 374.4,389.4 375,390.5 375.6,389.8 376.2,390.2 376.8,388.9 377.4,389.8 378,389.2 378.6,390.2 379.2,388.4 379.8,390.1 380.4,389.1 381,389.7 381.6,388.1 382.2,390.7 382.8,389 383.4,390.7 384,388.8 384.6,390.2 385.2,388.3 385.8,389.4 386.4,388.5 387,389.4 387.6,387.3 388.2,386.3 388.8,378.7 389.4,358.7 390,320 390.6,304.6 391.2,331.9 391.8,367.9 392.4,381.5 393,386.3 393.6,386.3 394.2,388.4 394.8,388.3 395.4,389 396,388.1 396.6,388.9 397.2,387.7 397.8,389.8 398.4,388.6 399,389.5 399.6,388.3 400.2,390.1 400.8,388.5 401.4,389.3 402,388.2 402.6,389.4 403.2,388.8 403.8,389.3 404.4,389 405,389.2 405.6,388.1 406.2,389.7 406.8,388.5 407.4,389 408,387.4 408.6,385.9 409.2,372.6 409.8,350.5 410.4,328.3 411,342 411.6,365.9 412.2,382.9 412.8,386.6 413.4,388.4 414,388.4 414.6,389.9 415.2,388.7 415.8,389.8 416.4,388.5 417,390.2 417.6,388.9 418.2,390.2 418.8,389 419.4,390.6 420,389.3 420.6,390.7 421.2,389.9 421.8,390.6 422.4,389.4 423,390.4 423.6,389.4 424.2,390.6 424.8,389.5 425.4,391 426,389.9 426.6,390.2 427.2,389 427.8,389.8 428.4,388.9 429,389.9 429.6,389.1 430.2,389.7 430.8,389 431.4,390.6 432,389 432.6,389.9 433.2,389.5 433.8,389.8 434.4,390.1 435,390.8 435.6,388.7 436.2,390.5 436.8,388.9 437.4,389.3 438,388.8 438.6,390 439.2,388.7 439.8,390.2 440.4,389.2 441,390.6 441.6,388.7 442.2,390 442.8,388.8 443.4,390.8 444,388.5 444.6,390.5 445.2,389 445.8,390.1 446.4,388.8 447,389.8 447.6,388.9 448.2,390.1 448.8,388.4 449.4,389.3 450,387.2 450.6,382.5 451.2,369.5 451.8,368.3 452.4,377.7 453,386.7 453.6,388.1 454.2,389.5 454.8,388.7 455.4,390.2 456,389.1 456.6,389.7 457.2,388.8 457.8,390.4 458.4,389.3 459,389.9 459.6,388.5 460.2,389.9 460.8,389.1 461.4,389.3 462,388.5 462.6,390.2 463.2,389 463.8,390.6 464.4,389.6 465,390.2 465.6,389.2 466.2,390.2 466.8,388.3 467.4,389.4 468,388.6 468.6,390.2 469.2,389.4 469.8,390.6 470.4,388.8 471,391 471.6,388.7 472.2,390.7 472.8,389.6 473.4,390.4 474,389.3 474.6,390.7 475.2,389 475.8,390.3 476.4,389.7 477,390.9 477.6,389.2 478.2,389.9 478.8,389.2 479.4,390.6 480,389.6 480.6,390.1 481.2,389.4 481.8,389.7 482.4,388.8 483,390 483.6,388.5 484.2,390.9 484.8,389.7 485.4,390.3 486,388.8 486.6,391 487.2,389.3 487.8,390.1 488.4,389.4 489,389.9 489.6,388.9 490.2,391.1 490.8,389.9 491.4,390.7 492,389.9 492.6,390.5 493.2,389.4 493.8,390.3 494.4,389.3 495,390.6 495.6,389.3 496.2,390.5 496.8,389.6 497.4,390.5 498,389.6 498.6,390.4 499.2,389.1 499.8,390.6 500.4,389.6 501,391.3 501.6,390 502.2,390.3 502.8,390 503.4,390.5 504,388.6 504.6,390.3 505.2,388.8 505.8,390.7 506.4,388.8 507,390 507.6,389 508.2,390.4 508.8,389.6 509.4,390.6 510,389 510.6,390.6 511.2,389.3 511.8,391 512.4,389.5 513,389.6 513.6,389.2 514.2,389.8 514.8,388.9 515.4,389.4 516,389.1 516.6,389.7 517.2,388.5 517.8,387.6 518.4,377.9 519,366.9 519.6,359.3 520.2,371.2 520.8,382.5 521.4,388.6 522,388.9 522.6,390.8 523.2,389.1 523.8,390.5 524.4,388.8 525,390.1 525.6,389.3 526.2,390.2 526.8,389.3 527.4,390.3 528,389.2 528.6,390.1 529.2,389.8 529.8,390.9 530.4,390.4 531,391.3 531.6,390.5 532.2,390.8 532.8,390 533.4,391.4 534,389.5 534.6,390.9 535.2,389.2 535.8,391.5 536.4,389.3 537,391.3 537.6,389.9 538.2,391.5 538.8,389.3 539.4,391.2 540,389.3 540.6,391.3 541.2,389.5 541.8,391.4 542.4,389.6 543,390.5 543.6,389.7 544.2,390 544.8,388.7 545.4,390.2 546,389 546.6,390.3 547.2,389.4 547.8,390.4 548.4,389.2 549,390.2 549.6,389.2 550.2,390.5 550.8,389.1 551.4,389.8 552,389.5 552.6,389.3 553.2,388.3 553.8,387.2 554.4,378.3 555,364.8 555.6,350.4 556.2,359.1 556.8,375.2 557.4,385.8 558,387.7 558.6,389.5 559.2,388.5 559.8,390.4 560.4,389.3 561,390.2 561.6,388.5 562.2,391.1 562.8,389.2 563.4,390.4 564,388.8 564.6,391 565.2,389.4 565.8,390.7 566.4,388.9 567,390.5 567.6,389.9 568.2,390.3 568.8,389.2 569.4,390.1 570,389.1 570.6,390.9 571.2,390 571.8,391.1 572.4,389.1 573,390.4 573.6,389.5 574.2,390.5 574.8,389.2 575.4,390 576,389.3 576.6,390.4 577.2,390 577.8,390.9 578.4,389.3 579,390.9 579.6,389.8 580.2,389.7 580.8,387.8 581.4,386.7 582,384.4 582.6,383.6 583.2,382.4 583.8,384 584.4,385 585,388.6 585.6,388.2 586.2,390.4 586.8,389.6 587.4,390.4 588,389.6 588.6,391.2 589.2,389 589.8,390.6 590.4,389.2 591,390.4 591.6,389.1 592.2,390.7 592.8,389.6 593.4,390.5 594,390 594.6,391.2 595.2,389.6 595.8,390.2 596.4,389.6 597,390.9 597.6,389.6 598.2,390.9 598.8,388.7 599.4,390.5 600,389 600.6,390.6 601.2,390.1 601.8,390.6 602.4,390.8 603,390.6 603.6,390.7 604.2,391 604.8,389.5 605.4,390.5 606,389.4 606.6,390.7 607.2,389.8 607.8,390.4 608.4,388.6 609,390.6 609.6,388.5 610.2,390.9 610.8,389.3 611.4,390.6 612,389.7 612.6,390.3 613.2,389.6 613.8,390.3 614.4,389.2 615,390.4 615.6,389.2 616.2,390.4 616.8,389.7 617.4,390.2 618,389 618.6,390 619.2,388.8 619.8,389.4 620.4,385.9 621,379.9 621.6,368.2 622.2,366.9 622.8,375.9 623.4,386.3 624,388.6 624.6,391.1 625.2,389 625.8,390.8 626.4,388.6 627,389.8 627.6,389 628.2,391.2 628.8,389.5 629.4,390.9 630,389.3 630.6,390.7 631.2,389.6 631.8,390.9 632.4,388.6 633,389.4 633.6,384.3 634.2,376.6 634.8,365.5 635.4,370.1 636,379.1 636.6,387.3 637.2,389.3 637.8,391 638.4,389.4 639,390.8 639.6,390.3 640.2,390.7 640.8,389.8 641.4,390.9 642,389.4 642.6,389.9 643.2,389.3 643.8,391.4 644.4,389.8 645,391 645.6,389.9 646.2,391.2 646.8,389.7 647.4,391.5 648,390.2 648.6,391 649.2,389.2 649.8,390.7 650.4,388.9 651,390.6 651.6,389.3 652.2,391.3 652.8,389.7 653.4,391.4 654,390 654.6,390.6 655.2,389.4 655.8,390.8 656.4,389.4 657,391.1 657.6,389.5 658.2,391.2 658.8,390.9 659.4,391.7 660,390.1 660.6,391.4 661.2,390.9 661.8,391.4 662.4,390.5 663,391.1 663.6,389.9 664.2,390.9 664.8,389.9 665.4,391.3 666,389.8 666.6,390.6 667.2,389.2 667.8,390.9 668.4,390.1 669,390.9 669.6,389.6 670.2,390.8 670.8,389.3 671.4,391.2 672,389.4 672.6,391.3 673.2,389.8 673.8,391.2 674.4,390.5 675,390.9 675.6,390.5 676.2,391.7 676.8,390.1 677.4,391.2 678,390 678.6,391.5 679.2,390 679.8,390.6 680.4,390.4 681,391.1 681.6,390.1 682.2,391.3 682.8,390.4 683.4,392 684,390.3 684.6,390.8 685.2,389.9 685.8,390.7 686.4,389.7 687,390.5 687.6,389.6 688.2,390.7 688.8,389.8 689.4,391.4 690,389.1 690.6,391.1 691.2,390.4 691.8,391.7 692.4,389.8 693,390.3 693.6,387.8 694.2,387.8 694.8,385 695.4,384.7 696,382.4 696.6,383 697.2,382.3 697.8,385.2 698.4,385 699,388.3 699.6,388 700.2,390.2 700.8,389.6 701.4,391.5 702,390.5 702.6,391.4 703.2,389.9 703.8,391.6 704.4,390.2 705,391.5 705.6,389.9 706.2,391.4 706.8,390.3 707.4,392 708,390.8 708.6,391.8 709.2,390.2 709.8,392.1 710.4,389.6 711,391.7 711.6,390.1 712.2,391.1 712.8,389.8 713.4,391.2 714,389.7 714.6,391 715.2,390.1 715.8,391.1 716.4,389.9 717,391.1 717.6,389.9 718.2,391.5 718.8,390 719.4,392 720,390 720.6,391 721.2,389.4 721.8,390.5 722.4,388.2 723,388.7 723.6,386.5 724.2,386.7 724.8,384.8 725.4,387.2 726,386.5 726.6,389 727.2,387.1 727.8,389 728.4,388.2 729,390.8 729.6,389.7 730.2,391 730.8,389.7 731.4,391.9 732,390.2 732.6,391.1 733.2,390.2 733.8,391.7 734.4,390.7 735,392.4 735.6,391.2 736.2,391.2 736.8,390.3 737.4,392 738,390.8 738.6,391.6 739.2,390.7 739.8,391.9 740.4,391 741,391.8 741.6,390.5 742.2,391.5 742.8,390.5 743.4,392.2 744,390.6 744.6,392.2 745.2,391 745.8,392.5 746.4,390.8 747,392.1 747.6,391.2 748.2,392.4 748.8,391.1 749.4,392.1 750,390.3 750.6,392 751.2,391.1 751.8,392 752.4,390.4 753,391.5 753.6,390.2 754.2,391.1 754.8,390.8 755.4,391 756,390.9 756.6,391.6 757.2,390.7 757.8,391.6 758.4,390.3 759,391.7 759.6,391.2 760.2,392.3 760.8,390.7 761.4,392.1 762,390.2 762.6,391.3" fill="none" stroke="#FF00FF" stroke-width="3.3" stroke-linejoin="round"/>
<path d="M318.2 138.1L323.6 144.8L318.2 151.5L312.8 144.8Z" fill="#FFC000"/>
<path d="M389.5 106.6L394.9 113.3L389.5 120L384.1 113.3Z" fill="#FFC000"/>
<path d="M409 123.6L414.4 130.3L409 137L403.6 130.3Z" fill="#FFC000"/>
<path d="M450.9 150.1L456.3 156.8L450.9 163.5L445.5 156.8Z" fill="#FFC000"/>
<path d="M518 145.8L523.4 152.5L518 159.2L512.6 152.5Z" fill="#FFC000"/>
<path d="M554.5 140.3L559.9 147L554.5 153.7L549.1 147Z" fill="#FFC000"/>
<path d="M621.1 151.8L626.5 158.5L621.1 165.2L615.7 158.5Z" fill="#FFC000"/>
<path d="M634.9 151.8L640.3 158.5L634.9 165.2L629.5 158.5Z" fill="#FFC000"/>
<path d="M 353.5 160.8 C 351.6 157.9 347.8 156 347.8 152.6 C 347.8 148.8 352.5 149.2 353.5 152.1 C 354.5 149.2 359.2 148.8 359.2 152.6 C 359.2 156 355.4 157.9 353.5 160.8 Z" fill="#17803A"/>
<path d="M 423.5 166.1 C 421.6 163.2 417.8 161.3 417.8 157.9 C 417.8 154.1 422.5 154.6 423.5 157.4 C 424.5 154.6 429.2 154.1 429.2 157.9 C 429.2 161.3 425.4 163.2 423.5 166.1 Z" fill="#17803A"/>
<path d="M 575.4 170.3 C 573.5 167.5 569.6 165.6 569.6 162.2 C 569.6 158.4 574.4 158.8 575.4 161.7 C 576.4 158.8 581.1 158.4 581.1 162.2 C 581.1 165.6 577.3 167.5 575.4 170.3 Z" fill="#17803A"/>
<path d="M 354.3 199.8 C 352.4 196.9 348.6 195 348.6 191.6 C 348.6 187.8 353.3 188.2 354.3 191.1 C 355.3 188.2 360.1 187.8 360.1 191.6 C 360.1 195 356.2 196.9 354.3 199.8 Z" fill="#17803A"/>
<path d="M 423.5 212.6 C 421.6 209.7 417.8 207.8 417.8 204.4 C 417.8 200.6 422.5 201.1 423.5 203.9 C 424.5 201.1 429.2 200.6 429.2 204.4 C 429.2 207.8 425.4 209.7 423.5 212.6 Z" fill="#17803A"/>
<path d="M 575.2 247.8 C 573.3 244.9 569.5 243 569.5 239.6 C 569.5 235.8 574.2 236.2 575.2 239.1 C 576.2 236.2 581 235.8 581 239.6 C 581 243 577.1 244.9 575.2 247.8 Z" fill="#17803A"/>
<path d="M319.6 341.2L325 347.9L319.6 354.6L314.2 347.9Z" fill="#FFC000"/>
<path d="M390.6 287.6L396 294.3L390.6 301L385.2 294.3Z" fill="#FFC000"/>
<path d="M410.5 312.5L415.9 319.2L410.5 325.9L405.1 319.2Z" fill="#FFC000"/>
<path d="M451.6 348.9L457 355.6L451.6 362.3L446.2 355.6Z" fill="#FFC000"/>
<path d="M519.9 342.3L525.3 349L519.9 355.7L514.5 349Z" fill="#FFC000"/>
<path d="M555.7 335.3L561.1 342L555.7 348.7L550.3 342Z" fill="#FFC000"/>
<path d="M622 350.7L627.4 357.4L622 364.1L616.6 357.4Z" fill="#FFC000"/>
<path d="M635.6 350.7L641 357.4L635.6 364.1L630.2 357.4Z" fill="#FFC000"/>
<path d="M183.2 84.2L188.4 90.9L183.2 97.7L177.9 90.9Z" fill="#FFC000"/>
<text x="193" y="97.4" font-size="24" font-weight="bold" text-anchor="start" fill="#FFC000">Fe<tspan dy="7.5" font-size="16">2</tspan><tspan dy="-7.5">O</tspan><tspan dy="7.5" font-size="16">3</tspan></text>
<path d="M 185 128 C 183 125 179 123 179 119.5 C 179 115.5 184 116 185 119 C 186 116 191 115.5 191 119.5 C 191 123 187 125 185 128 Z" fill="#17803A"/>
<text x="195" y="127.7" font-size="22" font-weight="bold" text-anchor="start" fill="#17803A" transform="translate(195 127.7) scale(0.96 1) translate(-195 -127.7)">MnO<tspan dy="6.5" font-size="14.5">2</tspan></text>
<line x1="583.2" y1="80.4" x2="632.5" y2="80.4" stroke="#0A5AD8" stroke-width="4.2"/>
<text x="636.9" y="87.3" font-size="20.5" font-weight="bold" text-anchor="start" fill="#0A5AD8" transform="translate(636.9 87.3) scale(1.01 1) translate(-636.9 -87.3)">MnO<tspan dy="5.2" font-size="13.5">2</tspan><tspan dy="-5.2">@Fe</tspan><tspan dy="5.2" font-size="13.5">2</tspan><tspan dy="-5.2">O</tspan><tspan dy="5.2" font-size="13.5">3</tspan></text>
<line x1="583.2" y1="110.5" x2="632.5" y2="110.5" stroke="#F42A2A" stroke-width="2.6"/>
<text x="636.9" y="117.3" font-size="20.5" font-weight="bold" text-anchor="start" fill="#F42A2A">MnO<tspan dy="5.2" font-size="13.5">2</tspan></text>
<line x1="583.2" y1="140.8" x2="632.5" y2="140.8" stroke="#FF00FF" stroke-width="2.6"/>
<text x="636.3" y="147.9" font-size="20.5" font-weight="bold" text-anchor="start" fill="#FF00FF">Fe<tspan dy="5.2" font-size="13.5">2</tspan><tspan dy="-5.2">O</tspan><tspan dy="5.2" font-size="13.5">3</tspan></text>
<line x1="319" y1="439.6" x2="319" y2="464" stroke="#000" stroke-width="2.6"/>
<line x1="390.2" y1="397.6" x2="390.2" y2="464" stroke="#000" stroke-width="4"/>
<line x1="407.7" y1="412" x2="407.7" y2="464" stroke="#000" stroke-width="3.6"/>
<line x1="449.3" y1="450.3" x2="449.3" y2="464" stroke="#000" stroke-width="2.6"/>
<line x1="516.6" y1="438.3" x2="516.6" y2="464" stroke="#000" stroke-width="3.4"/>
<line x1="553.9" y1="429.8" x2="553.9" y2="464" stroke="#000" stroke-width="2.8"/>
<line x1="583" y1="458.8" x2="583" y2="464" stroke="#000" stroke-width="2.4"/>
<line x1="616.6" y1="442.6" x2="616.6" y2="464" stroke="#000" stroke-width="2.8"/>
<line x1="628.2" y1="453.3" x2="628.2" y2="464" stroke="#000" stroke-width="2.4"/>
<line x1="696" y1="455.8" x2="696" y2="464" stroke="#000" stroke-width="2.4"/>
<line x1="717" y1="458.8" x2="717" y2="464" stroke="#000" stroke-width="2.4"/>
<line x1="447" y1="462" x2="447" y2="464" stroke="#000" stroke-width="2"/>
<line x1="332" y1="525.2" x2="332" y2="531" stroke="#000" stroke-width="2.6"/>
<line x1="355" y1="472.6" x2="355" y2="531" stroke="#000" stroke-width="4"/>
<line x1="424.8" y1="502" x2="424.8" y2="531" stroke="#000" stroke-width="3.4"/>
<line x1="453" y1="525.2" x2="453" y2="531" stroke="#000" stroke-width="2.6"/>
<line x1="465.2" y1="516" x2="465.2" y2="531" stroke="#000" stroke-width="2.6"/>
<line x1="492.7" y1="522" x2="492.7" y2="531" stroke="#000" stroke-width="2.6"/>
<line x1="576.8" y1="502" x2="576.8" y2="531" stroke="#000" stroke-width="3.4"/>
<line x1="598.3" y1="516" x2="598.3" y2="531" stroke="#000" stroke-width="3"/>
<line x1="646.3" y1="522" x2="646.3" y2="531" stroke="#000" stroke-width="2.6"/>
<line x1="658.5" y1="522" x2="658.5" y2="531" stroke="#000" stroke-width="2.6"/>
<line x1="700.7" y1="519" x2="700.7" y2="531" stroke="#000" stroke-width="2.6"/>
<line x1="732.8" y1="528" x2="732.8" y2="531" stroke="#000" stroke-width="2.4"/>
<text x="689.8" y="430.3" font-size="26" font-weight="bold" text-anchor="start" fill="#000" transform="translate(689.8 430.3) scale(0.93 1) translate(-689.8 -430.3)">Fe<tspan dy="6.5" font-size="16.5">2</tspan><tspan dy="-6.5">O</tspan><tspan dy="6.5" font-size="16.5">3</tspan></text>
<text x="687" y="500" font-size="24" font-weight="bold" text-anchor="start" fill="#000">MnO<tspan dy="6" font-size="16">2</tspan></text>
<line x1="129.4" y1="464.4" x2="763" y2="464.4" stroke="#000" stroke-width="3"/>
<rect x="129.4" y="64" width="633.6" height="467" fill="none" stroke="#000" stroke-width="3"/>
<line x1="129.4" y1="531" x2="129.4" y2="539.5" stroke="#000" stroke-width="2.6"/>
<text x="129.4" y="565.8" font-size="25.5" font-weight="bold" text-anchor="middle" fill="#000">0</text>
<line x1="169" y1="531" x2="169" y2="535.5" stroke="#000" stroke-width="2.6"/>
<line x1="208.6" y1="531" x2="208.6" y2="539.5" stroke="#000" stroke-width="2.6"/>
<text x="208.6" y="565.8" font-size="25.5" font-weight="bold" text-anchor="middle" fill="#000">10</text>
<line x1="248.2" y1="531" x2="248.2" y2="535.5" stroke="#000" stroke-width="2.6"/>
<line x1="287.8" y1="531" x2="287.8" y2="539.5" stroke="#000" stroke-width="2.6"/>
<text x="287.8" y="565.8" font-size="25.5" font-weight="bold" text-anchor="middle" fill="#000">20</text>
<line x1="327.4" y1="531" x2="327.4" y2="535.5" stroke="#000" stroke-width="2.6"/>
<line x1="367" y1="531" x2="367" y2="539.5" stroke="#000" stroke-width="2.6"/>
<text x="367" y="565.8" font-size="25.5" font-weight="bold" text-anchor="middle" fill="#000">30</text>
<line x1="406.6" y1="531" x2="406.6" y2="535.5" stroke="#000" stroke-width="2.6"/>
<line x1="446.2" y1="531" x2="446.2" y2="539.5" stroke="#000" stroke-width="2.6"/>
<text x="446.2" y="565.8" font-size="25.5" font-weight="bold" text-anchor="middle" fill="#000">40</text>
<line x1="485.8" y1="531" x2="485.8" y2="535.5" stroke="#000" stroke-width="2.6"/>
<line x1="525.4" y1="531" x2="525.4" y2="539.5" stroke="#000" stroke-width="2.6"/>
<text x="525.4" y="565.8" font-size="25.5" font-weight="bold" text-anchor="middle" fill="#000">50</text>
<line x1="565" y1="531" x2="565" y2="535.5" stroke="#000" stroke-width="2.6"/>
<line x1="604.6" y1="531" x2="604.6" y2="539.5" stroke="#000" stroke-width="2.6"/>
<text x="604.6" y="565.8" font-size="25.5" font-weight="bold" text-anchor="middle" fill="#000">60</text>
<line x1="644.2" y1="531" x2="644.2" y2="535.5" stroke="#000" stroke-width="2.6"/>
<line x1="683.8" y1="531" x2="683.8" y2="539.5" stroke="#000" stroke-width="2.6"/>
<text x="683.8" y="565.8" font-size="25.5" font-weight="bold" text-anchor="middle" fill="#000">70</text>
<line x1="723.4" y1="531" x2="723.4" y2="535.5" stroke="#000" stroke-width="2.6"/>
<line x1="763" y1="531" x2="763" y2="539.5" stroke="#000" stroke-width="2.6"/>
<text x="763" y="565.8" font-size="25.5" font-weight="bold" text-anchor="middle" fill="#000">80</text>
<text x="454.4" y="595" font-size="29" font-weight="bold" text-anchor="middle" fill="#000">2θ (degree)</text>
<text x="98.8" y="292.7" font-size="28.5" font-weight="bold" text-anchor="middle" fill="#000" transform="rotate(-90 98.8 292.7)">Intensity (a.u.)</text>
<text x="822.8" y="43" font-size="60" font-weight="bold" text-anchor="start" fill="#000" transform="translate(822.8 43) scale(1.02 1) translate(-822.8 -43)">(<tspan font-size="58" dx="0.5">b</tspan><tspan dx="0.5">)</tspan></text>
<polyline points="958.4,167.5 958.9,156.8 959.4,169.1 959.9,158.4 960.4,168.4 960.9,160.7 961.4,170.7 961.9,162 962.4,170.9 962.9,160.8 963.4,174.1 963.9,164.7 964.4,176.4 964.9,166.5 965.4,177.4 965.9,167.3 966.4,175.3 966.9,166 967.4,176.9 967.9,167.4 968.4,177.2 968.9,173 969.4,179.2 969.9,173.2 970.4,183.2 970.9,172.7 971.4,182.7 971.9,173.8 972.4,181.7 972.9,175.5 973.4,186.7 973.9,174.8 974.4,186.5 974.9,176.7 975.4,187.2 975.9,175.9 976.4,186 976.9,177.1 977.4,186.6 977.9,177.2 978.4,189 978.9,180.4 979.4,189.4 979.9,182.2 980.4,188.8 980.9,181.7 981.4,188.3 981.9,181 982.4,189.3 982.9,182.4 983.4,191.8 983.9,184.2 984.4,193.1 984.9,184.2 985.4,193.5 985.9,183.3 986.4,191.2 986.9,184.3 987.4,192.5 987.9,185.9 988.4,192 988.9,184.9 989.4,193.7 989.9,186.6 990.4,192.2 990.9,185.9 991.4,194.8 991.9,189.4 992.4,195 992.9,190.1 993.4,197.2 993.9,190.1 994.4,198.6 994.9,190.7 995.4,196.5 995.9,188.4 996.4,195.6 996.9,190.8 997.4,197.5 997.9,191.9 998.4,199.1 998.9,194.3 999.4,199.4 999.9,194.1 1000.4,200.5 1000.9,195.3 1001.4,200.6 1001.9,196.2 1002.4,200.3 1002.9,195 1003.4,199.5 1003.9,195.3 1004.4,200.3 1004.9,192.9 1005.4,200 1005.9,194.6 1006.4,200.5 1006.9,195.7 1007.4,202.7 1007.9,196.9 1008.4,201.8 1008.9,198.3 1009.4,203.6 1009.9,197.9 1010.4,204.4 1010.9,199.6 1011.4,204.9 1011.9,199.8 1012.4,206.6 1012.9,200.9 1013.4,204.9 1013.9,199.9 1014.4,204.7 1014.9,199.8 1015.4,205.8 1015.9,198.3 1016.4,203.6 1016.9,198.1 1017.4,205.7 1017.9,198.1 1018.4,205.1 1018.9,199.9 1019.4,206 1019.9,200.4 1020.4,205.5 1020.9,200.1 1021.4,205.3 1021.9,199.3 1022.4,203.5 1022.9,199.4 1023.4,203.5 1023.9,197.7 1024.4,202.6 1024.9,199.2 1025.4,203.6 1025.9,200.5 1026.4,206.1 1026.9,199.8 1027.4,202.7 1027.9,198.1 1028.4,201.5 1028.9,196.1 1029.4,200.7 1029.9,195.5 1030.4,201.2 1030.9,195 1031.4,199.8 1031.9,194.8 1032.4,198.9 1032.9,194.8 1033.4,201.4 1033.9,194 1034.4,198.7 1034.9,193.6 1035.4,199.2 1035.9,191.2 1036.4,197.9 1036.9,189.7 1037.4,196.9 1037.9,189.3 1038.4,197.9 1038.9,191.7 1039.4,196.9 1039.9,189 1040.4,195.6 1040.9,186.8 1041.4,192.9 1041.9,187.3 1042.4,192.1 1042.9,186.2 1043.4,192 1043.9,181.5 1044.4,188.9 1044.9,182.5 1045.4,188.4 1045.9,183.4 1046.4,192.2 1046.9,183.5 1047.4,189.5 1047.9,181.7 1048.4,188.7 1048.9,178.5 1049.4,184.3 1049.9,179.5 1050.4,185.7 1050.9,176.8 1051.4,185.9 1051.9,175.4 1052.4,186 1052.9,175.5 1053.4,183.3 1053.9,173.7 1054.4,181.3 1054.9,170.7 1055.4,180.7 1055.9,169.6 1056.4,177.7 1056.9,169.6 1057.4,179.2 1057.9,168.2 1058.4,176.6 1058.9,169.2 1059.4,177.1 1059.9,165.2 1060.4,175.3 1060.9,166.3 1061.4,175 1061.9,164.4 1062.4,170.1 1062.9,160.1 1063.4,165.6 1063.9,153.3 1064.4,164 1064.9,153.8 1065.4,164.7 1065.9,154.8 1066.4,168.7 1066.9,159.1 1067.4,168.9 1067.9,156.3 1068.4,168 1068.9,160.1 1069.4,168.9 1069.9,157.3 1070.4,167.4 1070.9,160.6 1071.4,168.6 1071.9,157.8 1072.4,169.8 1072.9,158.3 1073.4,169.8 1073.9,159.1 1074.4,169.3 1074.9,157.7 1075.4,166.6 1075.9,158 1076.4,167.8 1076.9,157.5 1077.4,169.1 1077.9,156.9 1078.4,168.5 1078.9,157.8 1079.4,166.8 1079.9,159.1 1080.4,167.7 1080.9,153.4 1081.4,163.7 1081.9,151.7 1082.4,165.3 1082.9,153.6 1083.4,164.1 1083.9,155.6 1084.4,165.1 1084.9,154.2 1085.4,161.8 1085.9,149.2 1086.4,159.1 1086.9,148.9 1087.4,160.3 1087.9,150.4 1088.4,163.2 1088.9,151.5 1089.4,163.6 1089.9,151.9 1090.4,161.7 1090.9,152.2 1091.4,159.6 1091.9,150.2 1092.4,160.1 1092.9,151.6 1093.4,160.8 1093.9,152.5 1094.4,159.8 1094.9,154.1 1095.4,163.6 1095.9,152.8 1096.4,161.1 1096.9,149.2 1097.4,159.4 1097.9,151.4 1098.4,160.2 1098.9,151.2 1099.4,162.3 1099.9,154.5 1100.4,164.6 1100.9,150.6 1101.4,164.4 1101.9,155.1 1102.4,166.3 1102.9,154.2 1103.4,167.4 1103.9,158.6 1104.4,168.1 1104.9,159.2 1105.4,167.3 1105.9,156.6 1106.4,168 1106.9,157.3 1107.4,168.7 1107.9,156.7 1108.4,168.4 1108.9,156.6 1109.4,163.1 1109.9,147.5 1110.4,159.2 1110.9,152.7 1111.4,168.4 1111.9,163 1112.4,175.1 1112.9,166.5 1113.4,177.9 1113.9,169.5 1114.4,179.8 1114.9,173 1115.4,180 1115.9,172.4 1116.4,179.7 1116.9,171.6 1117.4,183.2 1117.9,173.9 1118.4,182.4 1118.9,175 1119.4,182.9 1119.9,175.4 1120.4,182.9 1120.9,175.5 1121.4,183.5 1121.9,176.3 1122.4,181.7 1122.9,171.8 1123.4,176.6 1123.9,165.5 1124.4,168.4 1124.9,155.9 1125.4,158.1 1125.9,148.2 1126.4,150.5 1126.9,144.1 1127.4,153.9 1127.9,152.2 1128.4,168 1128.9,163.5 1129.4,178.2 1129.9,175.7 1130.4,186.5 1130.9,178.7 1131.4,188.4 1131.9,183 1132.4,192 1132.9,181.7 1133.4,188.2 1133.9,181.6 1134.4,188.6 1134.9,182.2 1135.4,189 1135.9,182.5 1136.4,190.5 1136.9,183.3 1137.4,190.7 1137.9,184.1 1138.4,194.6 1138.9,187.8 1139.4,193.3 1139.9,188.4 1140.4,194.1 1140.9,186.6 1141.4,194.6 1141.9,186.6 1142.4,193.8 1142.9,188.4 1143.4,191.7 1143.9,187.5 1144.4,192.9 1144.9,184.8 1145.4,190.9 1145.9,184.5 1146.4,191.1 1146.9,182.9 1147.4,187.8 1147.9,181.2 1148.4,183.9 1148.9,178.7 1149.4,186.6 1149.9,178.7 1150.4,189 1150.9,184.3 1151.4,191.4 1151.9,188.4 1152.4,195.7 1152.9,189.5 1153.4,197.3 1153.9,190.8 1154.4,197.1 1154.9,190.9 1155.4,197.6 1155.9,193 1156.4,198.6 1156.9,191.8 1157.4,198.4 1157.9,192.5 1158.4,195.9 1158.9,189.4 1159.4,195.8 1159.9,190.1 1160.4,196.6 1160.9,192.4 1161.4,199.8 1161.9,192.1 1162.4,198.3 1162.9,191.3 1163.4,196 1163.9,190.9 1164.4,195.9 1164.9,191.4 1165.4,196.6 1165.9,193 1166.4,196.8 1166.9,191 1167.4,198.5 1167.9,192.1 1168.4,196.9 1168.9,190.5 1169.4,197.5 1169.9,190.4 1170.4,197.3 1170.9,192.5 1171.4,198.9 1171.9,192.7 1172.4,197.4 1172.9,189.7 1173.4,197.3 1173.9,191.6 1174.4,197.3 1174.9,190.2 1175.4,196.8 1175.9,190.7 1176.4,196.8 1176.9,191 1177.4,196.3 1177.9,191.3 1178.4,196.2 1178.9,187.2 1179.4,193.2 1179.9,184.6 1180.4,182.6 1180.9,163 1181.4,152.1 1181.9,128.8 1182.4,129.2 1182.9,136 1183.4,159.4 1183.9,169 1184.4,186.2 1184.9,184.4 1185.4,194.4 1185.9,187.3 1186.4,194.5 1186.9,188.6 1187.4,196.5 1187.9,189.1 1188.4,195 1188.9,190.1 1189.4,196.4 1189.9,189.6 1190.4,195.9 1190.9,188.4 1191.4,195.4 1191.9,189 1192.4,194.3 1192.9,187.7 1193.4,197 1193.9,190.8 1194.4,195.7 1194.9,188.2 1195.4,196.7 1195.9,188.9 1196.4,195.3 1196.9,189.2 1197.4,194.9 1197.9,189.1 1198.4,194.7 1198.9,186.5 1199.4,189.6 1199.9,177.1 1200.4,172.7 1200.9,156.3 1201.4,152.9 1201.9,140.7 1202.4,148.7 1202.9,151.5 1203.4,169.9 1203.9,173.6 1204.4,186.6 1204.9,184.1 1205.4,192.3 1205.9,185.4 1206.4,190.6 1206.9,182.2 1207.4,187.6 1207.9,179.2 1208.4,181.2 1208.9,170.5 1209.4,172 1209.9,161.1 1210.4,163.3 1210.9,154.2 1211.4,157.1 1211.9,148.5 1212.4,155.2 1212.9,150 1213.4,159.4 1213.9,158.6 1214.4,168.8 1214.9,167.5 1215.4,177.6 1215.9,174.9 1216.4,184.8 1216.9,182 1217.4,191.1 1217.9,186.6 1218.4,196.7 1218.9,190.3 1219.4,199.4 1219.9,193.6 1220.4,200.8 1220.9,192.8 1221.4,199.2 1221.9,192.3 1222.4,199 1222.9,194.8 1223.4,201.1 1223.9,194.2 1224.4,199.9 1224.9,195.4 1225.4,200.2 1225.9,197.4 1226.4,203.2 1226.9,197.9 1227.4,201.5 1227.9,195.7 1228.4,199.3 1228.9,194.3 1229.4,200.9 1229.9,194.4 1230.4,201.5 1230.9,195.4 1231.4,202.1 1231.9,195.9 1232.4,201.4 1232.9,194.5 1233.4,202.1 1233.9,195.6 1234.4,201 1234.9,194.4 1235.4,202.6 1235.9,196.5 1236.4,202.1 1236.9,197.2 1237.4,201.4 1237.9,195.3 1238.4,201.9 1238.9,196 1239.4,201.4 1239.9,193.6 1240.4,197.5 1240.9,189.4 1241.4,190.2 1241.9,184.1 1242.4,192.1 1242.9,189.9 1243.4,199.9 1243.9,194.6 1244.4,202.6 1244.9,197.7 1245.4,203 1245.9,196.1 1246.4,201.6 1246.9,195.9 1247.4,201.7 1247.9,195.7 1248.4,198.3 1248.9,192.2 1249.4,197 1249.9,188.6 1250.4,193.1 1250.9,185.9 1251.4,189.5 1251.9,182.8 1252.4,186.9 1252.9,178.5 1253.4,185.6 1253.9,181.3 1254.4,188.4 1254.9,184.7 1255.4,192.4 1255.9,191.2 1256.4,198.2 1256.9,195.5 1257.4,202.1 1257.9,198.5 1258.4,202.7 1258.9,198.3 1259.4,203.7 1259.9,200.6 1260.4,204.9 1260.9,201 1261.4,206.7 1261.9,200.6 1262.4,207 1262.9,201.9 1263.4,209.3 1263.9,201.5 1264.4,208 1264.9,204.9 1265.4,207.9 1265.9,201.8 1266.4,206.9 1266.9,202 1267.4,205.8 1267.9,201.8 1268.4,208.5 1268.9,204.1 1269.4,208.9 1269.9,203.4 1270.4,209.9 1270.9,202.7 1271.4,208.4 1271.9,203.8 1272.4,208.9 1272.9,204.6 1273.4,207.6 1273.9,203.5 1274.4,208.9 1274.9,204.2 1275.4,208.1 1275.9,204.7 1276.4,210.2 1276.9,205.1 1277.4,209.6 1277.9,206 1278.4,209.2 1278.9,205.5 1279.4,208.6 1279.9,206.3 1280.4,210.1 1280.9,203.4 1281.4,208.7 1281.9,205.1 1282.4,208.9 1282.9,204.5 1283.4,211.6 1283.9,206.9 1284.4,211.4 1284.9,206.8 1285.4,210.9 1285.9,207.7 1286.4,212.5 1286.9,208.2 1287.4,211.3 1287.9,208.1 1288.4,211.1 1288.9,206.8 1289.4,212.1 1289.9,207.3 1290.4,211.8 1290.9,206.9 1291.4,209.4 1291.9,205.6 1292.4,211.8 1292.9,206.6 1293.4,212.1 1293.9,207.4 1294.4,211.5 1294.9,207.5 1295.4,211.5 1295.9,206.9 1296.4,213 1296.9,208 1297.4,211.9 1297.9,206.9 1298.4,210 1298.9,205.3 1299.4,209.5 1299.9,204 1300.4,211 1300.9,208.6 1301.4,212.4 1301.9,208 1302.4,211.4 1302.9,208 1303.4,211.1 1303.9,204.6 1304.4,210 1304.9,204 1305.4,209.4 1305.9,207.1 1306.4,212.5 1306.9,208.1 1307.4,211.1 1307.9,205.9 1308.4,206.3 1308.9,199.1 1309.4,202.1 1309.9,192.5 1310.4,195 1310.9,195.9 1311.4,203.1 1311.9,203.5 1312.4,210 1312.9,206.7 1313.4,209.1 1313.9,204.4 1314.4,210 1314.9,204.2 1315.4,210 1315.9,205.4 1316.4,210.4 1316.9,207.7 1317.4,211.8 1317.9,205.6 1318.4,211.3 1318.9,206.5 1319.4,212.4 1319.9,207.6 1320.4,210.8 1320.9,207.2 1321.4,211.9 1321.9,207.5 1322.4,213 1322.9,208.5 1323.4,212.1 1323.9,206.6 1324.4,211.9 1324.9,208.2 1325.4,211.4 1325.9,207 1326.4,212.3 1326.9,207.9 1327.4,210.5 1327.9,207.5 1328.4,211.4 1328.9,207.6 1329.4,210.1 1329.9,206.8 1330.4,211.5 1330.9,206.6 1331.4,212.3 1331.9,206.4 1332.4,210.6 1332.9,208.2 1333.4,209.7 1333.9,205.6 1334.4,210.4 1334.9,205.4 1335.4,210.3 1335.9,207.7 1336.4,212.6 1336.9,207.7 1337.4,212.1 1337.9,207.2 1338.4,211.5 1338.9,206.8 1339.4,210.2 1339.9,207.3 1340.4,210.7 1340.9,205.4 1341.4,209.6 1341.9,206 1342.4,209.6 1342.9,205 1343.4,209.8 1343.9,206.5 1344.4,208.7 1344.9,202.1 1345.4,200.9 1345.9,187.5 1346.4,185.2 1346.9,176.5 1347.4,183.5 1347.9,184.5 1348.4,198.8 1348.9,198.1 1349.4,207.8 1349.9,205.5 1350.4,210 1350.9,204.3 1351.4,207.9 1351.9,205.4 1352.4,209.3 1352.9,203.6 1353.4,207.5 1353.9,203.8 1354.4,205.9 1354.9,201.4 1355.4,204.5 1355.9,201.2 1356.4,203.4 1356.9,196.4 1357.4,199.5 1357.9,192.5 1358.4,194.7 1358.9,188.3 1359.4,190.4 1359.9,181.9 1360.4,185.7 1360.9,176 1361.4,179.3 1361.9,173.3 1362.4,177.3 1362.9,173 1363.4,179.9 1363.9,177.8 1364.4,184.4 1364.9,182.1 1365.4,189 1365.9,187 1366.4,194.2 1366.9,192 1367.4,199.4 1367.9,195.3 1368.4,202.5 1368.9,198.2 1369.4,204.8 1369.9,201.2 1370.4,205.2 1370.9,201.9 1371.4,205.5 1371.9,202.2 1372.4,208.6 1372.9,201.2 1373.4,207.8 1373.9,203.8 1374.4,207.5 1374.9,201.7 1375.4,207.8 1375.9,203.3 1376.4,207.6 1376.9,203.5 1377.4,207.9 1377.9,202.2 1378.4,209.6 1378.9,205.1 1379.4,209.8 1379.9,205.4 1380.4,209.7 1380.9,205.1 1381.4,210.8 1381.9,204 1382.4,210.3 1382.9,206.8 1383.4,210.2 1383.9,204 1384.4,209.5 1384.9,204.9 1385.4,209.3 1385.9,205.2 1386.4,209.4 1386.9,206.3 1387.4,210.6 1387.9,205.7 1388.4,212.2 1388.9,205.6 1389.4,211.7 1389.9,205.9 1390.4,210.7 1390.9,205.4 1391.4,210.7 1391.9,205 1392.4,211.2 1392.9,206.1 1393.4,209.2 1393.9,203.6 1394.4,209.9 1394.9,205.5 1395.4,209.4 1395.9,207 1396.4,209.9 1396.9,206.7 1397.4,210.8 1397.9,207.2 1398.4,208.2 1398.9,204.5 1399.4,208.8 1399.9,204.2 1400.4,207.9 1400.9,208 1401.4,211.7 1401.9,206.3 1402.4,210.6 1402.9,207.1 1403.4,212.6 1403.9,209.4 1404.4,213.3 1404.9,208.6 1405.4,212.4 1405.9,206.9 1406.4,210 1406.9,206.9 1407.4,209.8 1407.9,205.6 1408.4,212.2 1408.9,208.3 1409.4,212.7 1409.9,206.2 1410.4,212.5 1410.9,203.8 1411.4,207.3 1411.9,201.8 1412.4,201.8 1412.9,194.8 1413.4,200.6 1413.9,199.3 1414.4,205.3 1414.9,203.2 1415.4,209.3 1415.9,204.5 1416.4,209.8 1416.9,205.8 1417.4,209.7 1417.9,205.3 1418.4,210.7 1418.9,208.7 1419.4,212 1419.9,207.5 1420.4,212.1 1420.9,206.6 1421.4,210.6 1421.9,204.8 1422.4,209.9 1422.9,205 1423.4,209.6 1423.9,205 1424.4,206.9 1424.9,197.5 1425.4,198.2 1425.9,191 1426.4,197.8 1426.9,194.8 1427.4,203 1427.9,201.7 1428.4,208.5 1428.9,203.5 1429.4,209.3 1429.9,204.5 1430.4,210.6 1430.9,206.5 1431.4,211.4 1431.9,207.9 1432.4,212.3 1432.9,206.5 1433.4,210.7 1433.9,206.9 1434.4,211.7 1434.9,206.8 1435.4,210.6 1435.9,205.5 1436.4,209.9 1436.9,205.9 1437.4,209 1437.9,204.8 1438.4,211.4 1438.9,206.4 1439.4,210.3 1439.9,206.2 1440.4,210.9 1440.9,203.4 1441.4,208.1 1441.9,202.7 1442.4,207.3 1442.9,202.3 1443.4,207.9 1443.9,203.5 1444.4,207.2 1444.9,203.8 1445.4,207.1 1445.9,199.9 1446.4,204.7 1446.9,200.4 1447.4,204.8 1447.9,201.8 1448.4,208.1 1448.9,204.6 1449.4,209.2 1449.9,205.8 1450.4,208.5 1450.9,206 1451.4,211.1 1451.9,206.5 1452.4,211.1 1452.9,207.7 1453.4,210.7 1453.9,207.8 1454.4,211.2 1454.9,207.6 1455.4,211.8 1455.9,208 1456.4,212.6 1456.9,208.9 1457.4,213.3 1457.9,209.8 1458.4,214.8 1458.9,209 1459.4,214.6 1459.9,210 1460.4,213.5 1460.9,209.4 1461.4,214.5 1461.9,209.4 1462.4,214.4 1462.9,210.2 1463.4,213.6 1463.9,209.8 1464.4,214.6 1464.9,211 1465.4,214.5 1465.9,208.6 1466.4,212.9 1466.9,209.1 1467.4,213.1 1467.9,207.2 1468.4,214.5 1468.9,211.8 1469.4,216.1 1469.9,211 1470.4,215.8 1470.9,208.8 1471.4,212.9 1471.9,208.5 1472.4,215.1 1472.9,208.6 1473.4,215.9 1473.9,212 1474.4,215.7 1474.9,212.3 1475.4,216.9 1475.9,210 1476.4,215.2 1476.9,211 1477.4,215.8 1477.9,209.2 1478.4,214.9 1478.9,210.1 1479.4,214.8 1479.9,212 1480.4,216 1480.9,211.5 1481.4,214.4 1481.9,212.4 1482.4,216.1 1482.9,212.1 1483.4,212.8 1483.9,208.9 1484.4,213.8 1484.9,209.4 1485.4,213.7 1485.9,212.6 1486.4,215.3 1486.9,212.2 1487.4,215.1 1487.9,212 1488.4,213.7 1488.9,210.9 1489.4,213.8 1489.9,210.1 1490.4,212.7 1490.9,212.1 1491.4,215.8 1491.9,212.3 1492.4,214.9 1492.9,210.5 1493.4,214.6 1493.9,209.1 1494.4,213.9 1494.9,209.7 1495.4,214.2 1495.9,211.2 1496.4,215.9 1496.9,209.1 1497.4,213.9 1497.9,209.9 1498.4,213.3 1498.9,210.4 1499.4,214 1499.9,208.6 1500.4,213.2 1500.9,211.8 1501.4,217.1 1501.9,210.5 1502.4,216.6 1502.9,212.6 1503.4,214.7 1503.9,210.3 1504.4,215.1 1504.9,209.6 1505.4,214.3 1505.9,211.4 1506.4,215 1506.9,209.7 1507.4,215.9 1507.9,210.9 1508.4,216.2 1508.9,211.5 1509.4,216.9 1509.9,211.7 1510.4,216.3 1510.9,210.2 1511.4,214.7 1511.9,211.6 1512.4,215.2 1512.9,210.7 1513.4,215.8 1513.9,213.5 1514.4,216.3 1514.9,212.4 1515.4,216.2 1515.9,211.4 1516.4,215.5 1516.9,212.1 1517.4,215.6 1517.9,211 1518.4,216.2 1518.9,213.3 1519.4,216.3 1519.9,212.6 1520.4,217.1 1520.9,213.7 1521.4,216.3 1521.9,213.4 1522.4,217.2 1522.9,212.5 1523.4,216.7 1523.9,213.4 1524.4,216.5 1524.9,212.6 1525.4,217.8 1525.9,212.3 1526.4,216.5 1526.9,212.5 1527.4,216.6 1527.9,212.3 1528.4,216.7 1528.9,211.8 1529.4,214.4 1529.9,210.7 1530.4,216.2 1530.9,212.8 1531.4,217 1531.9,211.8 1532.4,215.5 1532.9,211.6 1533.4,217.7 1533.9,212.1 1534.4,219.1 1534.9,213.4 1535.4,218.4 1535.9,213.1 1536.4,216.3 1536.9,213 1537.4,217 1537.9,213.9 1538.4,215.1 1538.9,210.4 1539.4,215.8 1539.9,212.4 1540.4,216.1 1540.9,211.4 1541.4,214.4 1541.9,211.1 1542.4,216 1542.9,211.5 1543.4,216.5 1543.9,211 1544.4,215.1 1544.9,211.9 1545.4,216 1545.9,213.6 1546.4,216 1546.9,213.2 1547.4,216.6 1547.9,212.7 1548.4,216.1 1548.9,211.4 1549.4,215.3 1549.9,211.6 1550.4,216.3 1550.9,212.4 1551.4,218.5 1551.9,213.5" fill="none" stroke="#F59A9A" stroke-width="2.4" stroke-linejoin="round"/>
<polyline points="957.7,340 958.2,335.2 958.7,341.7 959.2,338.5 959.7,345.6 960.2,340.4 960.7,347.2 961.2,342 961.7,348.4 962.2,344.7 962.7,350.9 963.2,344.5 963.7,351 964.2,346.5 964.7,352.6 965.2,346.6 965.7,354.6 966.2,349.2 966.7,354.4 967.2,349.5 967.7,355.2 968.2,348.8 968.7,356.9 969.2,351.5 969.7,356.4 970.2,352.2 970.7,358.6 971.2,352.7 971.7,359.7 972.2,353.4 972.7,358.4 973.2,354.3 973.7,358.3 974.2,352.1 974.7,358.8 975.2,351.7 975.7,357.2 976.2,350.7 976.7,357.6 977.2,352.1 977.7,356 978.2,349.2 978.7,356 979.2,348.7 979.7,354.9 980.2,350.5 980.7,357.4 981.2,350.9 981.7,357.3 982.2,351 982.7,354 983.2,348.4 983.7,351.9 984.2,344.7 984.7,350.5 985.2,342.3 985.7,348.6 986.2,342.4 986.7,352.2 987.2,345.9 987.7,352.6 988.2,348.4 988.7,355.3 989.2,350.6 989.7,355.3 990.2,353.5 990.7,358.4 991.2,354.3 991.7,360.8 992.2,355 992.7,360.9 993.2,355.9 993.7,359.7 994.2,355.8 994.7,362.1 995.2,355.1 995.7,360.7 996.2,354.8 996.7,362 997.2,357 997.7,361.7 998.2,356.5 998.7,363 999.2,355.9 999.7,362.5 1000.2,356.3 1000.7,363.2 1001.2,357 1001.7,364.4 1002.2,357.1 1002.7,363.1 1003.2,358.1 1003.7,365.5 1004.2,358.2 1004.7,364.6 1005.2,356.8 1005.7,362.4 1006.2,355.6 1006.7,360.8 1007.2,355.2 1007.7,363 1008.2,356.6 1008.7,364 1009.2,356.2 1009.7,362.3 1010.2,354.5 1010.7,362.6 1011.2,353.6 1011.7,362.2 1012.2,354.1 1012.7,362.2 1013.2,354.5 1013.7,359.7 1014.2,354 1014.7,361.3 1015.2,351.9 1015.7,358.5 1016.2,351.7 1016.7,356.9 1017.2,348.6 1017.7,357.7 1018.2,351.1 1018.7,356.5 1019.2,350.6 1019.7,357.7 1020.2,352 1020.7,356.3 1021.2,349.7 1021.7,356.3 1022.2,347.3 1022.7,355.2 1023.2,345.2 1023.7,353.1 1024.2,346 1024.7,352.1 1025.2,344.7 1025.7,352.1 1026.2,343.7 1026.7,352.4 1027.2,341.1 1027.7,350 1028.2,342 1028.7,349.9 1029.2,338.6 1029.7,346 1030.2,338.4 1030.7,344.8 1031.2,334.7 1031.7,344.8 1032.2,336.3 1032.7,342.8 1033.2,334.8 1033.7,342.5 1034.2,331.5 1034.7,340.8 1035.2,328.8 1035.7,336.3 1036.2,327.5 1036.7,335.8 1037.2,324.7 1037.7,334.4 1038.2,326.3 1038.7,332.7 1039.2,324.1 1039.7,331.4 1040.2,323.3 1040.7,330.9 1041.2,319.1 1041.7,326.1 1042.2,316.8 1042.7,324.8 1043.2,317.1 1043.7,324.6 1044.2,314.5 1044.7,321.7 1045.2,311.9 1045.7,322.6 1046.2,311.6 1046.7,318.2 1047.2,309.7 1047.7,317.9 1048.2,307.2 1048.7,318.4 1049.2,305.3 1049.7,314.6 1050.2,303.4 1050.7,311.9 1051.2,302.4 1051.7,309.2 1052.2,302.7 1052.7,309.7 1053.2,299.4 1053.7,309.3 1054.2,296.6 1054.7,306 1055.2,294.9 1055.7,305 1056.2,297.7 1056.7,303.4 1057.2,293.8 1057.7,301.1 1058.2,292 1058.7,302.4 1059.2,290.8 1059.7,298.8 1060.2,290.4 1060.7,299.5 1061.2,286.1 1061.7,296 1062.2,284.5 1062.7,296.1 1063.2,282.6 1063.7,292.7 1064.2,280.4 1064.7,288.1 1065.2,277.6 1065.7,289.6 1066.2,275.2 1066.7,284.5 1067.2,273.5 1067.7,285.5 1068.2,273.4 1068.7,279.6 1069.2,267.4 1069.7,279.6 1070.2,265.1 1070.7,276.4 1071.2,265.8 1071.7,274.4 1072.2,261.5 1072.7,270 1073.2,259.5 1073.7,272.4 1074.2,259.6 1074.7,265.8 1075.2,257.1 1075.7,265.9 1076.2,250.7 1076.7,261.4 1077.2,248.9 1077.7,259.8 1078.2,247.7 1078.7,260.6 1079.2,247.7 1079.7,257.5 1080.2,246.2 1080.7,259 1081.2,245.9 1081.7,258 1082.2,243.8 1082.7,254.6 1083.2,241.4 1083.7,252.5 1084.2,243.4 1084.7,252.1 1085.2,243.4 1085.7,255.2 1086.2,243.4 1086.7,254.5 1087.2,240.9 1087.7,253.8 1088.2,243.2 1088.7,254.7 1089.2,241.6 1089.7,254.3 1090.2,244.5 1090.7,254.7 1091.2,243.1 1091.7,256.4 1092.2,246.3 1092.7,259.9 1093.2,247.7 1093.7,257.9 1094.2,248.7 1094.7,261.9 1095.2,250.8 1095.7,264.1 1096.2,252.6 1096.7,265.1 1097.2,254.6 1097.7,268.1 1098.2,256.7 1098.7,269.8 1099.2,260.2 1099.7,272.8 1100.2,259.9 1100.7,270.9 1101.2,262.2 1101.7,275 1102.2,264.3 1102.7,275.8 1103.2,264.1 1103.7,277.4 1104.2,267 1104.7,280.6 1105.2,269.8 1105.7,283.3 1106.2,273.9 1106.7,284.1 1107.2,273.3 1107.7,285.1 1108.2,277.7 1108.7,285.5 1109.2,276.2 1109.7,288.8 1110.2,278.7 1110.7,288.9 1111.2,279.5 1111.7,293.4 1112.2,279.5 1112.7,294.9 1113.2,284.9 1113.7,294.6 1114.2,283.5 1114.7,297.7 1115.2,285.5 1115.7,300.1 1116.2,287 1116.7,297.8 1117.2,286.3 1117.7,299.4 1118.2,288.8 1118.7,299.3 1119.2,288.3 1119.7,304.7 1120.2,292.8 1120.7,303.8 1121.2,294.6 1121.7,306.1 1122.2,293.2 1122.7,303.6 1123.2,292 1123.7,305.5 1124.2,291.4 1124.7,306.3 1125.2,294.8 1125.7,302 1126.2,286.1 1126.7,288.8 1127.2,263.7 1127.7,254.3 1128.2,222.2 1128.7,238.1 1129.2,248.8 1129.7,281.5 1130.2,289.2 1130.7,305.8 1131.2,300.3 1131.7,315.6 1132.2,305.5 1132.7,320.1 1133.2,307.6 1133.7,321.1 1134.2,308.2 1134.7,320.4 1135.2,309.4 1135.7,323.1 1136.2,311.8 1136.7,322.6 1137.2,314.2 1137.7,324.6 1138.2,312.1 1138.7,325.4 1139.2,313.7 1139.7,329 1140.2,317.1 1140.7,326.6 1141.2,316.6 1141.7,331.7 1142.2,320.1 1142.7,329.9 1143.2,318.3 1143.7,331.4 1144.2,321.2 1144.7,333 1145.2,323.8 1145.7,332.3 1146.2,323.5 1146.7,333.6 1147.2,323 1147.7,338.7 1148.2,325.8 1148.7,338.6 1149.2,325.6 1149.7,339.2 1150.2,325.8 1150.7,339.7 1151.2,325.5 1151.7,340.6 1152.2,329.5 1152.7,341.9 1153.2,330.8 1153.7,342.4 1154.2,331.5 1154.7,340.3 1155.2,330.1 1155.7,340.8 1156.2,329.5 1156.7,341.4 1157.2,331.1 1157.7,341.5 1158.2,329.3 1158.7,343.1 1159.2,331.1 1159.7,343.4 1160.2,330.3 1160.7,342.7 1161.2,334.7 1161.7,343.2 1162.2,334.4 1162.7,343 1163.2,331.4 1163.7,345.1 1164.2,334.3 1164.7,343 1165.2,334.4 1165.7,345.9 1166.2,333.7 1166.7,345 1167.2,335.3 1167.7,344.4 1168.2,334.1 1168.7,344.5 1169.2,333.5 1169.7,345.5 1170.2,336.3 1170.7,345.6 1171.2,337.8 1171.7,345.4 1172.2,337.7 1172.7,342.7 1173.2,336.3 1173.7,347 1174.2,333.9 1174.7,346 1175.2,334 1175.7,344.1 1176.2,335.1 1176.7,345 1177.2,332.6 1177.7,343.2 1178.2,332.4 1178.7,334.8 1179.2,321.1 1179.7,320.2 1180.2,294.8 1180.7,294.8 1181.2,283.5 1181.7,301.7 1182.2,305.3 1182.7,330.1 1183.2,327 1183.7,340.7 1184.2,334.1 1184.7,345.2 1185.2,335 1185.7,343.1 1186.2,333.1 1186.7,344.3 1187.2,334.8 1187.7,344.5 1188.2,336.5 1188.7,342.6 1189.2,333.3 1189.7,345.2 1190.2,332.9 1190.7,343.8 1191.2,334.8 1191.7,342 1192.2,333.8 1192.7,343.3 1193.2,336.3 1193.7,344.2 1194.2,335 1194.7,346.4 1195.2,334.1 1195.7,342.1 1196.2,332.4 1196.7,343.2 1197.2,333.7 1197.7,345.3 1198.2,337.7 1198.7,343.8 1199.2,338.4 1199.7,346 1200.2,335 1200.7,345 1201.2,335.5 1201.7,344.1 1202.2,333 1202.7,343.3 1203.2,335.2 1203.7,343.5 1204.2,334.9 1204.7,341 1205.2,329.7 1205.7,336.7 1206.2,325.3 1206.7,333.3 1207.2,318.1 1207.7,327.9 1208.2,313.6 1208.7,321.3 1209.2,309.9 1209.7,317.1 1210.2,311.6 1210.7,321 1211.2,317.4 1211.7,327.4 1212.2,323.8 1212.7,333.2 1213.2,326.6 1213.7,337.3 1214.2,330.2 1214.7,338.5 1215.2,331.9 1215.7,342.7 1216.2,335.1 1216.7,342.2 1217.2,333.4 1217.7,340.7 1218.2,333.4 1218.7,344.5 1219.2,335.3 1219.7,344.9 1220.2,336.8 1220.7,348.3 1221.2,338.2 1221.7,347.8 1222.2,341.2 1222.7,349.6 1223.2,341.8 1223.7,350.7 1224.2,345 1224.7,353.9 1225.2,345.1 1225.7,352.7 1226.2,346.1 1226.7,353.8 1227.2,346.1 1227.7,357.3 1228.2,348 1228.7,357.8 1229.2,350.4 1229.7,357.7 1230.2,347.4 1230.7,355.7 1231.2,348.5 1231.7,357.3 1232.2,350.6 1232.7,357.6 1233.2,350.8 1233.7,358.3 1234.2,349.7 1234.7,358.8 1235.2,350.5 1235.7,359 1236.2,351.4 1236.7,358 1237.2,350.6 1237.7,358.5 1238.2,350.6 1238.7,360.2 1239.2,351.5 1239.7,357.6 1240.2,351.6 1240.7,358.8 1241.2,349.8 1241.7,360.2 1242.2,351.2 1242.7,357.2 1243.2,349.4 1243.7,356 1244.2,348.2 1244.7,358.4 1245.2,348.9 1245.7,357.1 1246.2,350.7 1246.7,356.3 1247.2,348.2 1247.7,355.5 1248.2,347.5 1248.7,353 1249.2,343.7 1249.7,352.7 1250.2,341.1 1250.7,350.6 1251.2,343.4 1251.7,350 1252.2,343.1 1252.7,349.2 1253.2,344.5 1253.7,350.8 1254.2,347 1254.7,354.6 1255.2,348.8 1255.7,356.9 1256.2,351 1256.7,358.3 1257.2,352 1257.7,360.6 1258.2,352.2 1258.7,362.3 1259.2,353.2 1259.7,360.8 1260.2,355.3 1260.7,362.8 1261.2,354.5 1261.7,362 1262.2,355.7 1262.7,364 1263.2,358.7 1263.7,365.6 1264.2,357.2 1264.7,365.2 1265.2,356.5 1265.7,364 1266.2,356.6 1266.7,364.9 1267.2,357.3 1267.7,364.6 1268.2,358.1 1268.7,365.3 1269.2,356.7 1269.7,364.7 1270.2,358.8 1270.7,366.4 1271.2,357 1271.7,366 1272.2,358.9 1272.7,364.4 1273.2,359.1 1273.7,366.1 1274.2,357.3 1274.7,365 1275.2,359 1275.7,365.9 1276.2,360.9 1276.7,366.8 1277.2,358.7 1277.7,366.7 1278.2,358.3 1278.7,366.5 1279.2,359.8 1279.7,367.9 1280.2,357 1280.7,366.1 1281.2,359.5 1281.7,366.2 1282.2,359.9 1282.7,365.1 1283.2,358 1283.7,365.5 1284.2,357.5 1284.7,366.4 1285.2,358.6 1285.7,366.1 1286.2,358.3 1286.7,364.5 1287.2,357.3 1287.7,366.9 1288.2,357.4 1288.7,366.7 1289.2,357.5 1289.7,365.6 1290.2,357.5 1290.7,366.9 1291.2,358.3 1291.7,364.1 1292.2,356.9 1292.7,364.9 1293.2,358.5 1293.7,364.9 1294.2,357 1294.7,364.3 1295.2,358.5 1295.7,366 1296.2,358.2 1296.7,365.7 1297.2,357.6 1297.7,366.4 1298.2,358.3 1298.7,365.4 1299.2,358.7 1299.7,366.6 1300.2,357.8 1300.7,366 1301.2,359.5 1301.7,367 1302.2,359.7 1302.7,364.6 1303.2,357.2 1303.7,365 1304.2,356.4 1304.7,364.9 1305.2,358 1305.7,362.7 1306.2,355.7 1306.7,362.4 1307.2,353.1 1307.7,358.3 1308.2,348.2 1308.7,356.1 1309.2,349.5 1309.7,357.7 1310.2,355.6 1310.7,364.1 1311.2,355.1 1311.7,365.7 1312.2,356.6 1312.7,364.3 1313.2,358.7 1313.7,365.3 1314.2,358.3 1314.7,363.8 1315.2,358 1315.7,365.6 1316.2,357.4 1316.7,366.8 1317.2,360.3 1317.7,364.3 1318.2,357.7 1318.7,365.7 1319.2,356.3 1319.7,365.3 1320.2,358.5 1320.7,364.5 1321.2,358.5 1321.7,366.8 1322.2,360.2 1322.7,365 1323.2,357.4 1323.7,366.7 1324.2,359.8 1324.7,365 1325.2,360.6 1325.7,368.9 1326.2,359 1326.7,366.3 1327.2,360.9 1327.7,366.9 1328.2,359.9 1328.7,364.2 1329.2,356.8 1329.7,364.2 1330.2,359.9 1330.7,367.1 1331.2,358 1331.7,366.5 1332.2,357.2 1332.7,363.9 1333.2,356.7 1333.7,363.8 1334.2,356.1 1334.7,363.5 1335.2,354.9 1335.7,363.3 1336.2,356.2 1336.7,360.9 1337.2,352.9 1337.7,362 1338.2,352.8 1338.7,358.9 1339.2,353 1339.7,357.9 1340.2,352 1340.7,357 1341.2,351.7 1341.7,355.9 1342.2,351 1342.7,356.3 1343.2,347.5 1343.7,355.2 1344.2,343.9 1344.7,350.3 1345.2,342.8 1345.7,347 1346.2,339.4 1346.7,348.5 1347.2,341.1 1347.7,348.8 1348.2,343.3 1348.7,349.7 1349.2,341 1349.7,348.7 1350.2,342.5 1350.7,351 1351.2,342.3 1351.7,349.7 1352.2,340.5 1352.7,347.8 1353.2,340.2 1353.7,346.3 1354.2,338.9 1354.7,344 1355.2,335.6 1355.7,344.1 1356.2,334.9 1356.7,343 1357.2,335 1357.7,342.4 1358.2,336.8 1358.7,345.9 1359.2,338.5 1359.7,347.8 1360.2,344.6 1360.7,350.5 1361.2,345.5 1361.7,354.2 1362.2,347.8 1362.7,355.6 1363.2,347.4 1363.7,355 1364.2,348.8 1364.7,358 1365.2,352.1 1365.7,359.5 1366.2,352 1366.7,361 1367.2,353.5 1367.7,359.3 1368.2,353.8 1368.7,361.6 1369.2,355.1 1369.7,361 1370.2,355.1 1370.7,362.7 1371.2,352.8 1371.7,360 1372.2,353 1372.7,361.3 1373.2,356.1 1373.7,359.8 1374.2,354.9 1374.7,360.4 1375.2,355.3 1375.7,360.1 1376.2,355.5 1376.7,361.2 1377.2,354.6 1377.7,362.7 1378.2,354.4 1378.7,362.7 1379.2,357 1379.7,364.2 1380.2,355.8 1380.7,360.9 1381.2,353.7 1381.7,362.9 1382.2,354.8 1382.7,362.1 1383.2,355.1 1383.7,363.8 1384.2,356.8 1384.7,364.8 1385.2,356.3 1385.7,364.8 1386.2,356.9 1386.7,364.5 1387.2,356.2 1387.7,363.6 1388.2,356.1 1388.7,362.5 1389.2,356.1 1389.7,363.6 1390.2,357.3 1390.7,364.9 1391.2,358.9 1391.7,365.3 1392.2,357.2 1392.7,365.7 1393.2,359.1 1393.7,364 1394.2,358 1394.7,365.7 1395.2,357.7 1395.7,365.2 1396.2,359 1396.7,364.4 1397.2,357.6 1397.7,363 1398.2,358.2 1398.7,365.1 1399.2,356.3 1399.7,364.3 1400.2,357.2 1400.7,363.2 1401.2,355.5 1401.7,363.8 1402.2,356.6 1402.7,362.7 1403.2,356.6 1403.7,362.5 1404.2,355 1404.7,364.4 1405.2,356.2 1405.7,362.2 1406.2,353.6 1406.7,362 1407.2,354.1 1407.7,361 1408.2,354.7 1408.7,363.5 1409.2,353.9 1409.7,362.7 1410.2,356.3 1410.7,362.8 1411.2,356.2 1411.7,364.4 1412.2,354.1 1412.7,364.1 1413.2,357 1413.7,364.5 1414.2,356.7 1414.7,363.4 1415.2,353.9 1415.7,360.7 1416.2,354.1 1416.7,362.3 1417.2,354.4 1417.7,363.1 1418.2,357.8 1418.7,363.2 1419.2,356.1 1419.7,361.5 1420.2,356.2 1420.7,360.5 1421.2,354.4 1421.7,360.9 1422.2,353.7 1422.7,361.7 1423.2,354 1423.7,360 1424.2,352.6 1424.7,358.1 1425.2,347.5 1425.7,354 1426.2,349.5 1426.7,357.6 1427.2,353.4 1427.7,360.6 1428.2,354.1 1428.7,362 1429.2,354.1 1429.7,363.6 1430.2,354.2 1430.7,363.1 1431.2,354.7 1431.7,363.3 1432.2,356.8 1432.7,362.1 1433.2,354.4 1433.7,362.4 1434.2,354.5 1434.7,363 1435.2,356 1435.7,363.4 1436.2,356.3 1436.7,362.5 1437.2,354.2 1437.7,361.7 1438.2,354.8 1438.7,360.4 1439.2,355.9 1439.7,363 1440.2,356.3 1440.7,361.5 1441.2,356.2 1441.7,361 1442.2,356.2 1442.7,365 1443.2,356.4 1443.7,366 1444.2,357.5 1444.7,365.1 1445.2,356.9 1445.7,363.7 1446.2,355.8 1446.7,363.2 1447.2,356.3 1447.7,366.8 1448.2,359.1 1448.7,365.9 1449.2,360 1449.7,366.3 1450.2,356.8 1450.7,366.4 1451.2,358.9 1451.7,366 1452.2,359.7 1452.7,367.4 1453.2,357.3 1453.7,365.4 1454.2,358.7 1454.7,366.8 1455.2,360.4 1455.7,368.1 1456.2,360.9 1456.7,369 1457.2,359.7 1457.7,366.6 1458.2,359.2 1458.7,368.1 1459.2,361.2 1459.7,368 1460.2,363.4 1460.7,370.3 1461.2,361.9 1461.7,370.1 1462.2,364.1 1462.7,369.5 1463.2,362.2 1463.7,369.1 1464.2,362.6 1464.7,369.8 1465.2,361 1465.7,369.9 1466.2,360.6 1466.7,367.7 1467.2,361.6 1467.7,366.9 1468.2,361.7 1468.7,369.5 1469.2,360.4 1469.7,368.2 1470.2,360.9 1470.7,370.2 1471.2,360.8 1471.7,368.9 1472.2,361.8 1472.7,369.8 1473.2,363.7 1473.7,369.6 1474.2,361.5 1474.7,369.3 1475.2,363.1 1475.7,370.5 1476.2,363.5 1476.7,370.4 1477.2,363.7 1477.7,370.6 1478.2,364.8 1478.7,371.7 1479.2,363.2 1479.7,371.4 1480.2,363.5 1480.7,370.9 1481.2,365.8 1481.7,373.9 1482.2,363.7 1482.7,374.2 1483.2,363.7 1483.7,372.3 1484.2,364.5 1484.7,373.2 1485.2,363 1485.7,371.2 1486.2,362.5 1486.7,372.1 1487.2,365.2 1487.7,373.9 1488.2,364.8 1488.7,372.5 1489.2,364.1 1489.7,373.3 1490.2,366 1490.7,373.4 1491.2,365.7 1491.7,372.3 1492.2,366.6 1492.7,372.7 1493.2,364.8 1493.7,371.9 1494.2,364.9 1494.7,371.5 1495.2,365.4 1495.7,374.2 1496.2,366.3 1496.7,373.4 1497.2,366.5 1497.7,371.8 1498.2,364.5 1498.7,373.2 1499.2,365.4 1499.7,372.8 1500.2,366.7 1500.7,373.8 1501.2,366.4 1501.7,375.1 1502.2,366.7 1502.7,374 1503.2,366.7 1503.7,373.1 1504.2,365.2 1504.7,373.4 1505.2,367.8 1505.7,374.1 1506.2,367.5 1506.7,374.4 1507.2,368.3 1507.7,373.2 1508.2,367.4 1508.7,373.2 1509.2,366 1509.7,373.4 1510.2,365.4 1510.7,372 1511.2,366 1511.7,374.5 1512.2,366 1512.7,374.4 1513.2,368.4 1513.7,373.9 1514.2,367.3 1514.7,374 1515.2,369.4 1515.7,375.4 1516.2,367.6 1516.7,376.4 1517.2,367.1 1517.7,373.9 1518.2,368.6 1518.7,373.7 1519.2,368.2 1519.7,375.5 1520.2,367.8 1520.7,375.3 1521.2,367.6 1521.7,373.5 1522.2,367.6 1522.7,375 1523.2,368.7 1523.7,375.2 1524.2,367.7 1524.7,376.3 1525.2,368.1 1525.7,374.1 1526.2,368.9 1526.7,374.7 1527.2,366.3 1527.7,376.1 1528.2,368.9 1528.7,377 1529.2,369.3 1529.7,376.9 1530.2,368.3 1530.7,375.9 1531.2,367.3 1531.7,376.1 1532.2,369 1532.7,377.4 1533.2,369.2 1533.7,375.6 1534.2,367.4 1534.7,377 1535.2,369.3 1535.7,376.2 1536.2,368.4 1536.7,375.5 1537.2,369.3 1537.7,375.7 1538.2,368.5 1538.7,375.6 1539.2,367.4 1539.7,373.9 1540.2,368 1540.7,376 1541.2,367.6 1541.7,376.3 1542.2,368.9 1542.7,374.9 1543.2,369.9 1543.7,375.4 1544.2,368.5 1544.7,377.4 1545.2,369.6 1545.7,376.7 1546.2,367.4 1546.7,375.5 1547.2,369.1 1547.7,377 1548.2,370.8 1548.7,377.8 1549.2,369.3 1549.7,378.7 1550.2,369.8 1550.7,376.8 1551.2,369.5" fill="none" stroke="#4A66BA" stroke-width="2.4" stroke-linejoin="round"/>
<rect x="1123.7" y="128.1" width="7" height="7" fill="#FF00FF"/>
<path d="M 1150 174.1 C 1148.1 171.2 1144.2 169.3 1144.2 165.9 C 1144.2 162.1 1149 162.6 1150 165.4 C 1151 162.6 1155.8 162.1 1155.8 165.9 C 1155.8 169.3 1151.9 171.2 1150 174.1 Z" fill="#17803A"/>
<path d="M1181.7 107.7L1186.7 113.9L1181.7 120.2L1176.7 113.9Z" fill="#FFC000"/>
<path d="M1202.5 119.2L1207.5 125.5L1202.5 131.8L1197.5 125.5Z" fill="#FFC000"/>
<path d="M 1212.3 145.6 C 1210.4 142.7 1206.5 140.8 1206.5 137.4 C 1206.5 133.6 1211.3 134.1 1212.3 136.9 C 1213.3 134.1 1218 133.6 1218 137.4 C 1218 140.8 1214.2 142.7 1212.3 145.6 Z" fill="#17803A"/>
<path d="M1310.4 174.1L1315.4 180.3L1310.4 186.6L1305.4 180.3Z" fill="#FFC000"/>
<path d="M1346.7 159.2L1351.7 165.4L1346.7 171.7L1341.7 165.4Z" fill="#FFC000"/>
<path d="M 1362.4 160.6 C 1360.5 157.7 1356.7 155.8 1356.7 152.4 C 1356.7 148.6 1361.4 149.1 1362.4 151.9 C 1363.4 149.1 1368.2 148.6 1368.2 152.4 C 1368.2 155.8 1364.3 157.7 1362.4 160.6 Z" fill="#17803A"/>
<path d="M1413 174.1L1418 180.3L1413 186.6L1408 180.3Z" fill="#FFC000"/>
<path d="M1426.6 174.1L1431.6 180.3L1426.6 186.6L1421.6 180.3Z" fill="#FFC000"/>
<rect x="1123.7" y="194.4" width="7" height="7" fill="#FF00FF"/>
<path d="M 1128.4 206.6 C 1126.4 209.6 1122.4 211.6 1122.4 214.6 C 1122.4 217.1 1126.4 217.6 1128.4 215.1 L 1125.9 219.1 L 1130.9 219.1 L 1128.4 215.1 C 1130.4 217.6 1134.4 217.1 1134.4 214.6 C 1134.4 211.6 1130.4 209.6 1128.4 206.6 Z" fill="#A50D3D"/>
<g fill="#0000FF"><circle cx="1183" cy="269.6" r="2.8"/><circle cx="1179.8" cy="273.8" r="2.8"/><circle cx="1186.2" cy="273.8" r="2.8"/><path d="M1183 271.8L1180.8 279.3L1185.2 279.3Z"/></g>
<path d="M 1211.7 294 C 1209.7 297 1205.7 299 1205.7 302 C 1205.7 304.5 1209.7 305 1211.7 302.5 L 1209.2 306.5 L 1214.2 306.5 L 1211.7 302.5 C 1213.7 305 1217.7 304.5 1217.7 302 C 1217.7 299 1213.7 297 1211.7 294 Z" fill="#A50D3D"/>
<g fill="#0000FF"><circle cx="1358" cy="300.4" r="2.8"/><circle cx="1354.8" cy="304.6" r="2.8"/><circle cx="1361.2" cy="304.6" r="2.8"/><path d="M1358 302.6L1355.8 310.1L1360.2 310.1Z"/></g>
<path d="M 1358 316 C 1356 319 1352 321 1352 324 C 1352 326.5 1356 327 1358 324.5 L 1355.5 328.5 L 1360.5 328.5 L 1358 324.5 C 1360 327 1364 326.5 1364 324 C 1364 321 1360 319 1358 316 Z" fill="#A50D3D"/>
<g fill="#0000FF"><circle cx="1441" cy="343.8" r="2.8"/><circle cx="1437.8" cy="348" r="2.8"/><circle cx="1444.2" cy="348" r="2.8"/><path d="M1441 346L1438.8 353.5L1443.2 353.5Z"/></g>
<path d="M933.8 88.8L939 95.6L933.8 102.3L928.5 95.6Z" fill="#FFC000"/>
<text x="945.3" y="102" font-size="24" font-weight="bold" text-anchor="start" fill="#FFC000">Fe<tspan dy="7.5" font-size="16">2</tspan><tspan dy="-7.5">O</tspan><tspan dy="7.5" font-size="16">3</tspan></text>
<circle cx="1030.4" cy="97" r="4.4" fill="#FF00FF"/>
<text x="1036.3" y="104.3" font-size="26.5" font-weight="bold" text-anchor="start" fill="#FF00FF">C</text>
<path d="M 937.7 131 C 935.7 128 931.7 126 931.7 122.5 C 931.7 118.5 936.7 119 937.7 122 C 938.7 119 943.7 118.5 943.7 122.5 C 943.7 126 939.7 128 937.7 131 Z" fill="#17803A"/>
<text x="946.4" y="131.3" font-size="22" font-weight="bold" text-anchor="start" fill="#17803A" transform="translate(946.4 131.3) scale(0.96 1) translate(-946.4 -131.3)">MnO<tspan dy="6.5" font-size="14.5">2</tspan></text>
<path d="M 933.3 233 C 931.3 236 927.3 238 927.3 241 C 927.3 243.5 931.3 244 933.3 241.5 L 930.8 245.5 L 935.8 245.5 L 933.3 241.5 C 935.3 244 939.3 243.5 939.3 241 C 939.3 238 935.3 236 933.3 233 Z" fill="#A50D3D"/>
<text x="944.5" y="245.3" font-size="24" font-weight="bold" text-anchor="start" fill="#A50D3D">MnOOH</text>
<g fill="#0000FF"><circle cx="934.5" cy="267.5" r="3.3"/><circle cx="930.8" cy="272.4" r="3.3"/><circle cx="938.2" cy="272.4" r="3.3"/><path d="M934.5 270L931.9 278.8L937.1 278.8Z"/></g>
<text x="945.5" y="278" font-size="24" font-weight="bold" text-anchor="start" fill="#0000FF">FeMnO<tspan dy="7" font-size="15">3</tspan></text>
<line x1="1381.2" y1="90.6" x2="1438.3" y2="90.6" stroke="#F59A9A" stroke-width="4.6"/>
<text x="1444" y="97.7" font-size="24" font-weight="bold" text-anchor="start" fill="#F59A9A">Charge</text>
<line x1="1381.2" y1="120.2" x2="1438.3" y2="120.2" stroke="#4A66BA" stroke-width="2.6"/>
<text x="1444" y="128.3" font-size="24" font-weight="bold" text-anchor="start" fill="#4A66BA">Discharge</text>
<line x1="1127" y1="352" x2="1127" y2="444.3" stroke="#000" stroke-width="2.6"/>
<line x1="1190" y1="423.8" x2="1190" y2="444.3" stroke="#000" stroke-width="2.6"/>
<line x1="1203.2" y1="432.6" x2="1203.2" y2="444.3" stroke="#000" stroke-width="2.6"/>
<line x1="1215" y1="415" x2="1215" y2="444.3" stroke="#000" stroke-width="2.6"/>
<line x1="1234.9" y1="435.5" x2="1234.9" y2="444.3" stroke="#000" stroke-width="2.6"/>
<line x1="1245.7" y1="437" x2="1245.7" y2="444.3" stroke="#000" stroke-width="2.6"/>
<line x1="1328" y1="423.8" x2="1328" y2="444.3" stroke="#000" stroke-width="2.6"/>
<line x1="1347" y1="435.5" x2="1347" y2="444.3" stroke="#000" stroke-width="2.6"/>
<line x1="1356" y1="414.4" x2="1356" y2="444.3" stroke="#000" stroke-width="2.6"/>
<line x1="1366" y1="437.9" x2="1366" y2="444.3" stroke="#000" stroke-width="2.6"/>
<line x1="1411.6" y1="435.5" x2="1411.6" y2="444.3" stroke="#000" stroke-width="2.6"/>
<line x1="1437.7" y1="439" x2="1437.7" y2="444.3" stroke="#000" stroke-width="2.6"/>
<line x1="1487" y1="439" x2="1487" y2="444.3" stroke="#000" stroke-width="2.6"/>
<line x1="1181.5" y1="472.8" x2="1181.5" y2="538.2" stroke="#000" stroke-width="3.6"/>
<line x1="1203.2" y1="531.4" x2="1203.2" y2="538.2" stroke="#000" stroke-width="2.6"/>
<line x1="1223.7" y1="528.5" x2="1223.7" y2="538.2" stroke="#000" stroke-width="2.6"/>
<line x1="1312" y1="532.3" x2="1312" y2="538.2" stroke="#000" stroke-width="2.6"/>
<line x1="1344.2" y1="533.8" x2="1344.2" y2="538.2" stroke="#000" stroke-width="2.6"/>
<line x1="1358.9" y1="513.2" x2="1358.9" y2="538.2" stroke="#000" stroke-width="3"/>
<line x1="1402" y1="535" x2="1402" y2="538.2" stroke="#000" stroke-width="2.4"/>
<line x1="1443.9" y1="526.4" x2="1443.9" y2="538.2" stroke="#000" stroke-width="2.6"/>
<text x="1435.7" y="408.6" font-size="24" font-weight="bold" text-anchor="start" fill="#000">MnOOH</text>
<text x="1435.7" y="501.5" font-size="24" font-weight="bold" text-anchor="start" fill="#000">FeMnO<tspan dy="6" font-size="16">3</tspan></text>
<line x1="919.2" y1="444.3" x2="1552.3" y2="444.3" stroke="#000" stroke-width="3"/>
<rect x="919.2" y="70.6" width="633.1" height="467.6" fill="none" stroke="#000" stroke-width="3"/>
<line x1="919.2" y1="538.2" x2="919.2" y2="546.7" stroke="#000" stroke-width="2.6"/>
<text x="919.2" y="572.6" font-size="25.5" font-weight="bold" text-anchor="middle" fill="#000">0</text>
<line x1="958.8" y1="538.2" x2="958.8" y2="542.7" stroke="#000" stroke-width="2.6"/>
<line x1="998.3" y1="538.2" x2="998.3" y2="546.7" stroke="#000" stroke-width="2.6"/>
<text x="998.3" y="572.6" font-size="25.5" font-weight="bold" text-anchor="middle" fill="#000">10</text>
<line x1="1037.9" y1="538.2" x2="1037.9" y2="542.7" stroke="#000" stroke-width="2.6"/>
<line x1="1077.5" y1="538.2" x2="1077.5" y2="546.7" stroke="#000" stroke-width="2.6"/>
<text x="1077.5" y="572.6" font-size="25.5" font-weight="bold" text-anchor="middle" fill="#000">20</text>
<line x1="1117" y1="538.2" x2="1117" y2="542.7" stroke="#000" stroke-width="2.6"/>
<line x1="1156.6" y1="538.2" x2="1156.6" y2="546.7" stroke="#000" stroke-width="2.6"/>
<text x="1156.6" y="572.6" font-size="25.5" font-weight="bold" text-anchor="middle" fill="#000">30</text>
<line x1="1196.2" y1="538.2" x2="1196.2" y2="542.7" stroke="#000" stroke-width="2.6"/>
<line x1="1235.8" y1="538.2" x2="1235.8" y2="546.7" stroke="#000" stroke-width="2.6"/>
<text x="1235.8" y="572.6" font-size="25.5" font-weight="bold" text-anchor="middle" fill="#000">40</text>
<line x1="1275.3" y1="538.2" x2="1275.3" y2="542.7" stroke="#000" stroke-width="2.6"/>
<line x1="1314.9" y1="538.2" x2="1314.9" y2="546.7" stroke="#000" stroke-width="2.6"/>
<text x="1314.9" y="572.6" font-size="25.5" font-weight="bold" text-anchor="middle" fill="#000">50</text>
<line x1="1354.5" y1="538.2" x2="1354.5" y2="542.7" stroke="#000" stroke-width="2.6"/>
<line x1="1394" y1="538.2" x2="1394" y2="546.7" stroke="#000" stroke-width="2.6"/>
<text x="1394" y="572.6" font-size="25.5" font-weight="bold" text-anchor="middle" fill="#000">60</text>
<line x1="1433.6" y1="538.2" x2="1433.6" y2="542.7" stroke="#000" stroke-width="2.6"/>
<line x1="1473.2" y1="538.2" x2="1473.2" y2="546.7" stroke="#000" stroke-width="2.6"/>
<text x="1473.2" y="572.6" font-size="25.5" font-weight="bold" text-anchor="middle" fill="#000">70</text>
<line x1="1512.7" y1="538.2" x2="1512.7" y2="542.7" stroke="#000" stroke-width="2.6"/>
<line x1="1552.3" y1="538.2" x2="1552.3" y2="546.7" stroke="#000" stroke-width="2.6"/>
<text x="1552.3" y="572.6" font-size="25.5" font-weight="bold" text-anchor="middle" fill="#000">80</text>
<text x="1231" y="603.4" font-size="29" font-weight="bold" text-anchor="middle" fill="#000">2θ (degree)</text>
<text x="898.2" y="290.6" font-size="28.8" font-weight="bold" text-anchor="middle" fill="#000" transform="rotate(-90 898.2 290.6)">Intensity (a.u.)</text>
<text x="0" y="611" font-size="60" font-weight="bold" text-anchor="start" fill="#000">(<tspan font-size="62">c</tspan>)</text>
<path d="M207.9 962.3C208.8 962 207.7 961.1 213 960.8C218.3 960.5 231.5 960.6 240 960.6C248.5 960.6 255.7 960.6 264 960.6C272.3 960.6 281.5 960.7 290 960.9C298.5 961.1 306.6 961 315 961.6C323.4 962.2 331.9 963.2 340.4 964.8C348.9 966.4 357.5 968.5 366 971.2C374.5 973.9 381.6 976.8 391.4 980.8C401.1 984.8 416.5 991.4 424.5 995.5C432.5 999.6 435.5 1001.6 439.2 1005.3C442.9 1009 444.2 1011.9 446.5 1017.6C448.8 1023.3 451.1 1034.9 452.7 1039.6C454.3 1044.3 455 1044.7 456 1045.8C457 1046.9 457.6 1046.7 458.5 1046.3C459.4 1045.9 460.6 1043.8 461.5 1043.3C462.4 1042.8 462.6 1041.3 464.2 1043.5C465.8 1045.7 468.7 1052.7 471 1056.7C473.3 1060.7 475.9 1064.5 478 1067.5C480.1 1070.5 481.9 1073.1 483.5 1074.5C485.1 1075.9 485.7 1076.3 487.5 1075.8C489.3 1075.3 490.5 1077 494.3 1071.4C498.1 1065.8 503.5 1054.8 510.2 1042C516.9 1029.2 527 1007.8 534.7 994.3C542.5 980.8 552 968.4 556.7 961.2C561.4 954 561 954.5 563 951C565 947.5 567.2 942.8 569 940.4C570.8 938 572.4 937.5 574 936.5C575.6 935.5 576.1 936.7 578.8 934.3C581.5 931.9 587 925.5 590 922C593 918.5 594 916.9 597.1 913.1C600.2 909.3 604.8 904.7 608.6 899.4C612.4 894.1 616.2 888 620 881.1C623.8 874.2 628.4 865.9 631.4 858.3C634.4 850.7 636.2 844.5 638.3 835.4C640.4 826.2 642.5 813.3 644 803.4C645.5 793.5 646.4 785.1 647.4 776C648.4 766.9 649.1 756.4 649.7 748.6C650.3 740.8 651.3 734.1 650.9 729.1C650.5 724.1 649.1 723.3 647.4 718.9C645.7 714.5 642.9 706.5 640.6 702.9C638.3 699.3 636 697.3 633.7 697.1C631.4 696.9 629.2 698.7 626.9 701.7C624.6 704.8 622.3 709.5 620 715.4C617.7 721.3 615.4 728.9 613.1 737.1C610.8 745.3 608.6 755.1 606.3 764.6C604 774.1 601.7 783.6 599.4 794.3C597.1 805 594.9 817.2 592.6 828.6C590.3 840 588 851.5 585.7 862.9C583.4 874.3 580.8 888.4 578.9 897.1C577 905.8 575.6 910.8 574.5 915C573.4 919.2 573.1 920 572 922.3C570.9 924.5 569.5 927.2 568 928.5C566.5 929.8 567.7 929.8 563 930.2C558.3 930.6 550.5 930.5 540 930.8C529.5 931.1 511.1 931.5 500 931.8C488.9 932 480.8 932.1 473.5 932.3C466.2 932.5 464.9 932.8 456 933.2C447.1 933.6 430.8 934.2 420 934.6C409.2 935 404.7 935 391.4 935.5C378.1 936 357.4 936.7 340.4 937.7C323.4 938.7 302 940.5 289.4 941.5C276.8 942.5 273.2 942.8 264.7 943.8C256.2 944.8 246.3 945.6 238.5 947.2C230.7 948.8 223.1 951 218 953.5C212.9 956 209.6 960.8 207.9 962.3" fill="none" stroke="#FF8C0A" stroke-width="2.9" stroke-linejoin="round"/>
<rect x="150.2" y="650" width="582.4" height="468.6" fill="none" stroke="#000" stroke-width="3"/>
<line x1="145.7" y1="1119.2" x2="150.2" y2="1119.2" stroke="#000" stroke-width="2.6"/>
<line x1="142.2" y1="1093.2" x2="150.2" y2="1093.2" stroke="#000" stroke-width="2.6"/>
<text x="135.2" y="1100.8" font-size="25" font-weight="bold" text-anchor="end" fill="#000" transform="translate(135.2 1100.8) scale(0.98 1) translate(-135.2 -1100.8)">-60</text>
<line x1="145.7" y1="1067.2" x2="150.2" y2="1067.2" stroke="#000" stroke-width="2.6"/>
<line x1="142.2" y1="1041.1" x2="150.2" y2="1041.1" stroke="#000" stroke-width="2.6"/>
<text x="135.2" y="1048.7" font-size="25" font-weight="bold" text-anchor="end" fill="#000" transform="translate(135.2 1048.7) scale(0.98 1) translate(-135.2 -1048.7)">-40</text>
<line x1="145.7" y1="1015.1" x2="150.2" y2="1015.1" stroke="#000" stroke-width="2.6"/>
<line x1="142.2" y1="989.1" x2="150.2" y2="989.1" stroke="#000" stroke-width="2.6"/>
<text x="135.2" y="996.7" font-size="25" font-weight="bold" text-anchor="end" fill="#000" transform="translate(135.2 996.7) scale(0.98 1) translate(-135.2 -996.7)">-20</text>
<line x1="145.7" y1="963" x2="150.2" y2="963" stroke="#000" stroke-width="2.6"/>
<line x1="142.2" y1="937" x2="150.2" y2="937" stroke="#000" stroke-width="2.6"/>
<text x="135.2" y="944.6" font-size="25" font-weight="bold" text-anchor="end" fill="#000" transform="translate(135.2 944.6) scale(0.98 1) translate(-135.2 -944.6)">0</text>
<line x1="145.7" y1="911" x2="150.2" y2="911" stroke="#000" stroke-width="2.6"/>
<line x1="142.2" y1="884.9" x2="150.2" y2="884.9" stroke="#000" stroke-width="2.6"/>
<text x="135.2" y="892.5" font-size="25" font-weight="bold" text-anchor="end" fill="#000" transform="translate(135.2 892.5) scale(0.98 1) translate(-135.2 -892.5)">20</text>
<line x1="145.7" y1="858.9" x2="150.2" y2="858.9" stroke="#000" stroke-width="2.6"/>
<line x1="142.2" y1="832.9" x2="150.2" y2="832.9" stroke="#000" stroke-width="2.6"/>
<text x="135.2" y="840.5" font-size="25" font-weight="bold" text-anchor="end" fill="#000" transform="translate(135.2 840.5) scale(0.98 1) translate(-135.2 -840.5)">40</text>
<line x1="145.7" y1="806.9" x2="150.2" y2="806.9" stroke="#000" stroke-width="2.6"/>
<line x1="142.2" y1="780.8" x2="150.2" y2="780.8" stroke="#000" stroke-width="2.6"/>
<text x="135.2" y="788.4" font-size="25" font-weight="bold" text-anchor="end" fill="#000" transform="translate(135.2 788.4) scale(0.98 1) translate(-135.2 -788.4)">60</text>
<line x1="145.7" y1="754.8" x2="150.2" y2="754.8" stroke="#000" stroke-width="2.6"/>
<line x1="142.2" y1="728.8" x2="150.2" y2="728.8" stroke="#000" stroke-width="2.6"/>
<text x="135.2" y="736.4" font-size="25" font-weight="bold" text-anchor="end" fill="#000" transform="translate(135.2 736.4) scale(0.98 1) translate(-135.2 -736.4)">80</text>
<line x1="145.7" y1="702.7" x2="150.2" y2="702.7" stroke="#000" stroke-width="2.6"/>
<line x1="142.2" y1="676.7" x2="150.2" y2="676.7" stroke="#000" stroke-width="2.6"/>
<text x="135.2" y="684.3" font-size="25" font-weight="bold" text-anchor="end" fill="#000" transform="translate(135.2 684.3) scale(0.98 1) translate(-135.2 -684.3)">100</text>
<line x1="145.7" y1="650.7" x2="150.2" y2="650.7" stroke="#000" stroke-width="2.6"/>
<line x1="149.8" y1="1118.6" x2="149.8" y2="1123.1" stroke="#000" stroke-width="2.6"/>
<line x1="207.9" y1="1118.6" x2="207.9" y2="1126.6" stroke="#000" stroke-width="2.6"/>
<text x="207.9" y="1154.6" font-size="25" font-weight="bold" text-anchor="middle" fill="#000">0.0</text>
<line x1="266" y1="1118.6" x2="266" y2="1123.1" stroke="#000" stroke-width="2.6"/>
<line x1="324.1" y1="1118.6" x2="324.1" y2="1126.6" stroke="#000" stroke-width="2.6"/>
<text x="324.1" y="1154.6" font-size="25" font-weight="bold" text-anchor="middle" fill="#000">0.5</text>
<line x1="382.1" y1="1118.6" x2="382.1" y2="1123.1" stroke="#000" stroke-width="2.6"/>
<line x1="440.2" y1="1118.6" x2="440.2" y2="1126.6" stroke="#000" stroke-width="2.6"/>
<text x="440.2" y="1154.6" font-size="25" font-weight="bold" text-anchor="middle" fill="#000">1.0</text>
<line x1="498.3" y1="1118.6" x2="498.3" y2="1123.1" stroke="#000" stroke-width="2.6"/>
<line x1="556.4" y1="1118.6" x2="556.4" y2="1126.6" stroke="#000" stroke-width="2.6"/>
<text x="556.4" y="1154.6" font-size="25" font-weight="bold" text-anchor="middle" fill="#000">1.5</text>
<line x1="614.4" y1="1118.6" x2="614.4" y2="1123.1" stroke="#000" stroke-width="2.6"/>
<line x1="672.5" y1="1118.6" x2="672.5" y2="1126.6" stroke="#000" stroke-width="2.6"/>
<text x="672.5" y="1154.6" font-size="25" font-weight="bold" text-anchor="middle" fill="#000">2.0</text>
<line x1="730.6" y1="1118.6" x2="730.6" y2="1123.1" stroke="#000" stroke-width="2.6"/>
<text x="441" y="1184.5" font-size="29" font-weight="bold" text-anchor="middle" fill="#000">Voltage (V)</text>
<text x="87.5" y="898.9" font-size="29.6" font-weight="bold" text-anchor="middle" fill="#000" transform="rotate(-90 87.5 898.9)">Current (mA)</text>
<text x="189.6" y="719.8" font-size="31" font-weight="bold" text-anchor="start" fill="#000">Scan rate 10mV s<tspan dx="1" dy="-9.8" font-size="27">-1</tspan></text>
<text x="821.9" y="625.6" font-size="60" font-weight="bold" text-anchor="start" fill="#000" transform="translate(821.9 625.6) scale(1.03 1) translate(-821.9 -625.6)">(<tspan font-size="58" dx="0.5">d</tspan><tspan dx="0.5">)</tspan></text>
<polyline points="932.6,921.1 933.1,918.9 933.6,919.9 934.1,918.5 934.6,920 935.1,918.7 935.6,921.7 936.1,921.2 936.6,924.1 937.1,924.3 937.6,925.8 938.1,925.2 938.6,926.7 939.1,925.7 939.6,926.9 940.1,924.5 940.6,925.6 941.1,923.6 941.6,923.3 942.1,919.9 942.6,921 943.1,919.2 943.6,920.9 944.1,921.1 944.6,924.3 945.1,924.1 945.6,927.3 946.1,927.1 946.6,929.1 947.1,928.5 947.6,930 948.1,929.1 948.6,930.1 949.1,930 949.6,930.7 950.1,929.1 950.6,930.8 951.1,929.6 951.6,930.9 952.1,929.8 952.6,931.4 953.1,930.7 953.6,932 954.1,930.5 954.6,931 955.1,929.4 955.6,931.1 956.1,929.7 956.6,930.5 957.1,929.5 957.6,930.7 958.1,929.2 958.6,930.8 959.1,929.6 959.6,930.2 960.1,930.4 960.6,931.9 961.1,929.9 961.6,931.7 962.1,929.6 962.6,929.2 963.1,928.6 963.6,928.1 964.1,925.5 964.6,924.4 965.1,922.7 965.6,923.2 966.1,922.9 966.6,925.2 967.1,925.3 967.6,927.2 968.1,926.8 968.6,927.5 969.1,926.2 969.6,927.5 970.1,925.8 970.6,926.8 971.1,925.7 971.6,926.1 972.1,924.4 972.6,924.6 973.1,923 973.6,923.1 974.1,921.2 974.6,922.3 975.1,920 975.6,920.6 976.1,917.1 976.6,917.2 977.1,914.3 977.6,914.7 978.1,913.2 978.6,913.5 979.1,913.6 979.6,916 980.1,915.5 980.6,916.8 981.1,916.9 981.6,918.5 982.1,917 982.6,919.2 983.1,918 983.6,919.2 984.1,916.9 984.6,918.5 985.1,916.2 985.6,917.7 986.1,915.6 986.6,916.6 987.1,913.8 987.6,915.2 988.1,912.6 988.6,914.4 989.1,911.7 989.6,913.2 990.1,912.5 990.6,914.4 991.1,912.2 991.6,914.4 992.1,912.4 992.6,913.7 993.1,912 993.6,913.2 994.1,911.2 994.6,911.4 995.1,907.6 995.6,906.9 996.1,903 996.6,901.8 997.1,898.4 997.6,899.6 998.1,899.5 998.6,903 999.1,902.7 999.6,905.5 1000.1,906.1 1000.6,906.8 1001.1,905.7 1001.6,908.1 1002.1,905.3 1002.6,906.9 1003.1,905.7 1003.6,907.5 1004.1,905.8 1004.6,908.1 1005.1,907.5 1005.6,908.9 1006.1,907.8 1006.6,909.6 1007.1,909.8 1007.6,911.5 1008.1,911.4 1008.6,913.5 1009.1,913.9 1009.6,916.7 1010.1,916 1010.6,918 1011.1,918.2 1011.6,920.3 1012.1,919.8 1012.6,922.4 1013.1,921.4 1013.6,923.6 1014.1,923.4 1014.6,924.8 1015.1,924.7 1015.6,927.2 1016.1,926.2 1016.6,927.8 1017.1,927.6 1017.6,928.5 1018.1,927.3 1018.6,929.5 1019.1,928.5 1019.6,929.3 1020.1,929 1020.6,930.5 1021.1,929.2 1021.6,930.8 1022.1,929.3 1022.6,931.1 1023.1,930.1 1023.6,931.7 1024.1,930.3 1024.6,931.3 1025.1,930.1 1025.6,930.7 1026.1,929.7 1026.6,930.4 1027.1,929.1 1027.6,930.8 1028.1,930.8 1028.6,932 1029.1,931 1029.6,932.3 1030.1,930.4 1030.6,931.1 1031.1,929.7 1031.6,931 1032.1,930 1032.6,930.8 1033.1,930 1033.6,931.8 1034.1,930.4 1034.6,931.6 1035.1,930.2 1035.6,931.5 1036.1,930.6 1036.6,931.7 1037.1,931.3 1037.6,932.3 1038.1,929.3 1038.6,930.9 1039.1,929.6 1039.6,931.1 1040.1,928.9 1040.6,932 1041.1,930.2 1041.6,931.3 1042.1,930.1 1042.6,931.7 1043.1,930.3 1043.6,931.3 1044.1,930.1 1044.6,931 1045.1,929.6 1045.6,930.7 1046.1,930 1046.6,930.6 1047.1,929.7 1047.6,930.9 1048.1,927.9 1048.6,929.4 1049.1,927.3 1049.6,928.6 1050.1,927 1050.6,928.9 1051.1,927.5 1051.6,928.2 1052.1,926.5 1052.6,927.5 1053.1,926 1053.6,927.3 1054.1,925.4 1054.6,925.3 1055.1,923.4 1055.6,923.8 1056.1,921.6 1056.6,920.4 1057.1,916.2 1057.6,910.9 1058.1,896.1 1058.6,878.1 1059.1,855.4 1059.6,842.6 1060.1,843.2 1060.6,861.5 1061.1,881.8 1061.6,900.3 1062.1,910 1062.6,917.5 1063.1,918.5 1063.6,920.2 1064.1,919.4 1064.6,920.2 1065.1,918.9 1065.6,919.8 1066.1,917 1066.6,915.2 1067.1,911.6 1067.6,910.6 1068.1,907.1 1068.6,908.4 1069.1,908.3 1069.6,912 1070.1,914.5 1070.6,917.8 1071.1,918.5 1071.6,921.7 1072.1,920.9 1072.6,923.6 1073.1,922.9 1073.6,924.5 1074.1,924.3 1074.6,925.7 1075.1,924.1 1075.6,924.1 1076.1,922.6 1076.6,923.9 1077.1,922.9 1077.6,923.4 1078.1,922.7 1078.6,923.4 1079.1,922.5 1079.6,922.9 1080.1,922.1 1080.6,922.7 1081.1,921.9 1081.6,922.6 1082.1,920.7 1082.6,921.8 1083.1,920 1083.6,920.1 1084.1,917.3 1084.6,916.7 1085.1,913.1 1085.6,914.7 1086.1,914 1086.6,916.7 1087.1,916.6 1087.6,919 1088.1,919 1088.6,922 1089.1,920.5 1089.6,922.4 1090.1,921.4 1090.6,921.3 1091.1,920.3 1091.6,921.5 1092.1,920 1092.6,920.8 1093.1,919.6 1093.6,920.8 1094.1,919.3 1094.6,920.6 1095.1,919.2 1095.6,919.6 1096.1,918 1096.6,919.2 1097.1,918.4 1097.6,919.2 1098.1,917.2 1098.6,917.3 1099.1,916.8 1099.6,917.9 1100.1,916 1100.6,917.1 1101.1,915.3 1101.6,916.2 1102.1,915.3 1102.6,915.8 1103.1,914.8 1103.6,915.8 1104.1,914.4 1104.6,915 1105.1,912.8 1105.6,914.5 1106.1,912.7 1106.6,914.1 1107.1,912.5 1107.6,914.1 1108.1,912 1108.6,914.9 1109.1,913.5 1109.6,914.6 1110.1,913.7 1110.6,915.1 1111.1,914.1 1111.6,915.7 1112.1,914.4 1112.6,916.8 1113.1,915.8 1113.6,917.3 1114.1,916.2 1114.6,917.3 1115.1,916.6 1115.6,917.1 1116.1,916.7 1116.6,918 1117.1,916.5 1117.6,917.5 1118.1,915.6 1118.6,917.1 1119.1,915.7 1119.6,917.7 1120.1,915.9 1120.6,917.6 1121.1,916.1 1121.6,918.1 1122.1,915.9 1122.6,917.7 1123.1,915.8 1123.6,917.4 1124.1,915 1124.6,916.8 1125.1,915.5 1125.6,917.1 1126.1,915.6 1126.6,917.2 1127.1,915.1 1127.6,916.6 1128.1,914 1128.6,915.8 1129.1,913.4 1129.6,915.1 1130.1,913.6 1130.6,915 1131.1,913.4 1131.6,915.2 1132.1,913.3 1132.6,913.7 1133.1,912.8 1133.6,914 1134.1,911.8 1134.6,913.9 1135.1,912.1 1135.6,913 1136.1,911.8 1136.6,913.6 1137.1,911.3 1137.6,913 1138.1,911.2 1138.6,911.9 1139.1,910 1139.6,911.4 1140.1,909.6 1140.6,910.2 1141.1,908.4 1141.6,909.8 1142.1,907.6 1142.6,909.2 1143.1,909.3 1143.6,909.6 1144.1,908 1144.6,910.3 1145.1,908.4 1145.6,910.6 1146.1,907.4 1146.6,909.4 1147.1,907.7 1147.6,909.6 1148.1,907.5 1148.6,908.5 1149.1,907.1 1149.6,909.1 1150.1,906.8 1150.6,908 1151.1,906.7 1151.6,907.1 1152.1,905.5 1152.6,907.7 1153.1,905.1 1153.6,906.9 1154.1,905 1154.6,907.3 1155.1,904.5 1155.6,905.7 1156.1,904.4 1156.6,905.5 1157.1,903.4 1157.6,905.9 1158.1,902.7 1158.6,903.7 1159.1,902.7 1159.6,903.3 1160.1,902 1160.6,904.9 1161.1,902.1 1161.6,904 1162.1,901.5 1162.6,903.3 1163.1,901.9 1163.6,902.4 1164.1,900.7 1164.6,902.9 1165.1,900.6 1165.6,900.7 1166.1,899.6 1166.6,899.9 1167.1,899 1167.6,899.9 1168.1,898.6 1168.6,900.6 1169.1,898.2 1169.6,900.2 1170.1,897.6 1170.6,898.7 1171.1,896 1171.6,897.7 1172.1,896.5 1172.6,897.8 1173.1,894.8 1173.6,897.3 1174.1,895.2 1174.6,896.1 1175.1,894.6 1175.6,896.7 1176.1,894.5 1176.6,896.4 1177.1,893.7 1177.6,896.1 1178.1,893.3 1178.6,895.2 1179.1,893 1179.6,894.8 1180.1,893.2 1180.6,893.4 1181.1,891.6 1181.6,893.5 1182.1,891.3 1182.6,892.9 1183.1,891.9 1183.6,893.9 1184.1,891.3 1184.6,893 1185.1,890.4 1185.6,892.2 1186.1,889.4 1186.6,891.5 1187.1,889.1 1187.6,891.3 1188.1,888.4 1188.6,890 1189.1,888.1 1189.6,889.8 1190.1,887.7 1190.6,888.9 1191.1,886.8 1191.6,889.6 1192.1,886.9 1192.6,888.7 1193.1,885.6 1193.6,888.9 1194.1,886.2 1194.6,887.9 1195.1,886.4 1195.6,888.3 1196.1,886.1 1196.6,889.4 1197.1,887 1197.6,889.2 1198.1,885.7 1198.6,888 1199.1,885.1 1199.6,887 1200.1,885.1 1200.6,887.4 1201.1,885.7 1201.6,887 1202.1,884.9 1202.6,886.9 1203.1,883.8 1203.6,885.9 1204.1,883.2 1204.6,885.1 1205.1,881.9 1205.6,883.2 1206.1,881 1206.6,883.8 1207.1,880.2 1207.6,883.1 1208.1,880.3 1208.6,882.1 1209.1,879.9 1209.6,881.4 1210.1,878.7 1210.6,881.1 1211.1,879.4 1211.6,880.2 1212.1,878.5 1212.6,879.9 1213.1,876.6 1213.6,878.9 1214.1,876.3 1214.6,878.2 1215.1,876 1215.6,879 1216.1,876.3 1216.6,878.3 1217.1,875 1217.6,877.6 1218.1,873.4 1218.6,876.1 1219.1,874.2 1219.6,876.4 1220.1,872.8 1220.6,875.9 1221.1,873.2 1221.6,875.2 1222.1,872.5 1222.6,874.6 1223.1,871 1223.6,873.7 1224.1,870.2 1224.6,872.7 1225.1,869.6 1225.6,874.2 1226.1,870.3 1226.6,872.6 1227.1,869.6 1227.6,872.1 1228.1,868.9 1228.6,871.3 1229.1,868.5 1229.6,870.6 1230.1,868.1 1230.6,870.7 1231.1,867.4 1231.6,869.8 1232.1,865.9 1232.6,869.1 1233.1,866.3 1233.6,868.1 1234.1,865.8 1234.6,868.3 1235.1,865.1 1235.6,866.6 1236.1,864.6 1236.6,866.3 1237.1,862.8 1237.6,865.2 1238.1,862.9 1238.6,865.1 1239.1,861.1 1239.6,864.1 1240.1,861.5 1240.6,864.5 1241.1,861.5 1241.6,863.3 1242.1,861.4 1242.6,863.4 1243.1,860.1 1243.6,862 1244.1,858.9 1244.6,861.4 1245.1,859.3 1245.6,861.4 1246.1,858 1246.6,860.6 1247.1,857.4 1247.6,859.7 1248.1,856.7 1248.6,859.3 1249.1,855 1249.6,858.4 1250.1,854.2 1250.6,856.1 1251.1,852.9 1251.6,856.3 1252.1,852.6 1252.6,854.5 1253.1,851.9 1253.6,854.6 1254.1,851 1254.6,853.1 1255.1,850.7 1255.6,853.1 1256.1,850.1 1256.6,852.2 1257.1,849.5 1257.6,851.4 1258.1,848.1 1258.6,850.7 1259.1,846.8 1259.6,850.1 1260.1,845.8 1260.6,849.5 1261.1,845.3 1261.6,848 1262.1,844.9 1262.6,847.7 1263.1,845.6 1263.6,847.7 1264.1,844.2 1264.6,847.4 1265.1,842.3 1265.6,845.5 1266.1,841.2 1266.6,844.7 1267.1,839.9 1267.6,844.1 1268.1,840.6 1268.6,843.7 1269.1,839.1 1269.6,841.5 1270.1,839.5 1270.6,840.9 1271.1,837.4 1271.6,841.2 1272.1,836 1272.6,840 1273.1,837.7 1273.6,840 1274.1,835.9 1274.6,839.6 1275.1,835.5 1275.6,838.8 1276.1,835.1 1276.6,837.6 1277.1,834.1 1277.6,837 1278.1,832.6 1278.6,836.6 1279.1,832.5 1279.6,836.7 1280.1,832.6 1280.6,834.6 1281.1,831.6 1281.6,834.4 1282.1,829.8 1282.6,833.7 1283.1,829.1 1283.6,831.9 1284.1,829.4 1284.6,832.7 1285.1,828.9 1285.6,830.6 1286.1,827.8 1286.6,831.3 1287.1,826.9 1287.6,830 1288.1,826.8 1288.6,830.1 1289.1,826.4 1289.6,829.4 1290.1,825.2 1290.6,829.9 1291.1,824.4 1291.6,828.5 1292.1,824.3 1292.6,827.5 1293.1,822.7 1293.6,825.9 1294.1,823.4 1294.6,826.4 1295.1,821.9 1295.6,825.5 1296.1,820.3 1296.6,823.8 1297.1,820.2 1297.6,824.5 1298.1,818.3 1298.6,822.7 1299.1,817.6 1299.6,821.5 1300.1,818.3 1300.6,821.3 1301.1,818.3 1301.6,820.5 1302.1,816.1 1302.6,821 1303.1,814.8 1303.6,818.3 1304.1,814.9 1304.6,818.3 1305.1,814.6 1305.6,818.2 1306.1,814 1306.6,817.9 1307.1,813.6 1307.6,816.7 1308.1,811.3 1308.6,815.1 1309.1,809.3 1309.6,813.7 1310.1,809.5 1310.6,813 1311.1,809.1 1311.6,813.6 1312.1,808 1312.6,812.8 1313.1,807.1 1313.6,811.6 1314.1,807.3 1314.6,810.3 1315.1,805.2 1315.6,809.7 1316.1,805.2 1316.6,809.3 1317.1,805.3 1317.6,808.6 1318.1,804.6 1318.6,808.6 1319.1,803.9 1319.6,808.4 1320.1,802.7 1320.6,808.6 1321.1,802.6 1321.6,807.6 1322.1,803.5 1322.6,807.9 1323.1,802.3 1323.6,805 1324.1,801.2 1324.6,804.2 1325.1,800.1 1325.6,805.3 1326.1,800.1 1326.6,803.7 1327.1,799.4 1327.6,803 1328.1,800.4 1328.6,803.9 1329.1,799 1329.6,803.7 1330.1,798.7 1330.6,803.2 1331.1,796.9 1331.6,802.1 1332.1,797.8 1332.6,802.6 1333.1,796.9 1333.6,800.7 1334.1,795.5 1334.6,799.1 1335.1,794.3 1335.6,800 1336.1,795.1 1336.6,799.6 1337.1,795.2 1337.6,799.1 1338.1,793.6 1338.6,799.4 1339.1,792.8 1339.6,797.6 1340.1,793.3 1340.6,795.9 1341.1,792.2 1341.6,797.1 1342.1,791.2 1342.6,795.9 1343.1,790.9 1343.6,795.6 1344.1,791.3 1344.6,796 1345.1,789.4 1345.6,794.4 1346.1,789.3 1346.6,794.2 1347.1,790 1347.6,793.8 1348.1,788.3 1348.6,792.4 1349.1,787.8 1349.6,792.1 1350.1,786.5 1350.6,791.7 1351.1,786.8 1351.6,789.8 1352.1,785.1 1352.6,790.1 1353.1,784.5 1353.6,790.4 1354.1,785 1354.6,789.4 1355.1,784.4 1355.6,789.2 1356.1,784 1356.6,789.1 1357.1,782.3 1357.6,786.8 1358.1,782.9 1358.6,788.6 1359.1,782.6 1359.6,786.9 1360.1,782.2 1360.6,785.8 1361.1,780.4 1361.6,785.4 1362.1,780.6 1362.6,785.7 1363.1,779.1 1363.6,783.7 1364.1,778.2 1364.6,783.3 1365.1,778.3 1365.6,784 1366.1,778.5 1366.6,783.5 1367.1,777.5 1367.6,783.6 1368.1,778.4 1368.6,783.7 1369.1,778.2 1369.6,782.3 1370.1,777.3 1370.6,782.3 1371.1,776.9 1371.6,780.4 1372.1,775.7 1372.6,779.8 1373.1,776.4 1373.6,781.2 1374.1,775.7 1374.6,779.3 1375.1,774.3 1375.6,779.8 1376.1,773.4 1376.6,779 1377.1,774.6 1377.6,778.4 1378.1,774.2 1378.6,777.6 1379.1,773.9 1379.6,778.7 1380.1,773.5 1380.6,776.5 1381.1,771.7 1381.6,775.2 1382.1,771.5 1382.6,776.1 1383.1,770.9 1383.6,775.6 1384.1,771.5 1384.6,775.4 1385.1,768.9 1385.6,774.8 1386.1,769.4 1386.6,774.3 1387.1,769.8 1387.6,774.8 1388.1,768.6 1388.6,774.3 1389.1,768.2 1389.6,774.1 1390.1,769.1 1390.6,774.4 1391.1,768 1391.6,774.3 1392.1,768.3 1392.6,773.6 1393.1,767.8 1393.6,772.9 1394.1,768.8 1394.6,773.1 1395.1,767.1 1395.6,771.4 1396.1,765.5 1396.6,772.2 1397.1,766.1 1397.6,772.3 1398.1,766.3 1398.6,770.9 1399.1,765.7 1399.6,771.4 1400.1,765.2 1400.6,770 1401.1,764.3 1401.6,771.1 1402.1,764.9 1402.6,769.9 1403.1,764.8 1403.6,769.7 1404.1,763.7 1404.6,769.9 1405.1,764.4 1405.6,770.2 1406.1,763.7 1406.6,769.2 1407.1,764.2 1407.6,768.7 1408.1,763.4 1408.6,768.2 1409.1,763 1409.6,768 1410.1,762.4 1410.6,769.2 1411.1,763.6 1411.6,767.9 1412.1,762.7 1412.6,768.9 1413.1,763.1 1413.6,768.3 1414.1,762.6 1414.6,767.6 1415.1,762.7 1415.6,765.8 1416.1,761.6 1416.6,765.6 1417.1,762.1 1417.6,766.3 1418.1,761.2 1418.6,767.1 1419.1,761.9 1419.6,768.1 1420.1,761.4 1420.6,766.6 1421.1,761 1421.6,766 1422.1,760.1 1422.6,766.3 1423.1,760.4 1423.6,765.5 1424.1,759.8 1424.6,765.2 1425.1,761.6 1425.6,766.9 1426.1,761 1426.6,765.2 1427.1,760.3 1427.6,766.5 1428.1,760.5 1428.6,764.8 1429.1,760.2 1429.6,765.5 1430.1,761 1430.6,765.7 1431.1,761.3 1431.6,765.7 1432.1,761.3 1432.6,766.8 1433.1,760.5 1433.6,765.8 1434.1,761.9 1434.6,766.8 1435.1,762.2 1435.6,766 1436.1,761.8 1436.6,766.5 1437.1,763 1437.6,767.6 1438.1,761.7 1438.6,767.7 1439.1,763.1 1439.6,767.6 1440.1,761.9 1440.6,767 1441.1,762.3 1441.6,766.8 1442.1,761.9 1442.6,768.8 1443.1,762.3 1443.6,768.5 1444.1,763.6 1444.6,769.3 1445.1,763.1 1445.6,768.7 1446.1,763.3 1446.6,769.7 1447.1,764.8 1447.6,770.2 1448.1,764.6 1448.6,769 1449.1,765.6 1449.6,770.4 1450.1,764.9 1450.6,768.6 1451.1,763.3 1451.6,770.1 1452.1,764.1 1452.6,769.9 1453.1,764.8 1453.6,770.6 1454.1,765.4 1454.6,771.6 1455.1,766.7 1455.6,770.1 1456.1,765.5 1456.6,771.8 1457.1,766 1457.6,770.8 1458.1,767.1 1458.6,771.5 1459.1,767.3 1459.6,772.6 1460.1,766.5 1460.6,772.9 1461.1,767.4 1461.6,773.1 1462.1,767 1462.6,772.5 1463.1,768.6 1463.6,774.7 1464.1,769.3 1464.6,774.2 1465.1,768.6 1465.6,774.2 1466.1,769.2 1466.6,775.1 1467.1,769 1467.6,773.7 1468.1,769.6 1468.6,774.7 1469.1,769.5 1469.6,775.3 1470.1,769.6 1470.6,776.8 1471.1,770.5 1471.6,776.8 1472.1,770.7 1472.6,776.7 1473.1,772.2 1473.6,776.6 1474.1,772.4 1474.6,777.2 1475.1,772 1475.6,777.5 1476.1,772.7 1476.6,777.3 1477.1,773 1477.6,778.5 1478.1,773.2 1478.6,776.8 1479.1,773.6 1479.6,778.9 1480.1,773.7 1480.6,778.2 1481.1,774.7 1481.6,780.5 1482.1,774.2 1482.6,779.4 1483.1,775.7 1483.6,779.4 1484.1,775.5 1484.6,780.7 1485.1,776.2 1485.6,781.6 1486.1,775.4 1486.6,781.1 1487.1,776.4 1487.6,781 1488.1,777.5 1488.6,781.9 1489.1,777.8 1489.6,781.9 1490.1,777.4 1490.6,781.6 1491.1,776.8 1491.6,782.7 1492.1,777.9 1492.6,782.1 1493.1,779 1493.6,782.5 1494.1,777.6 1494.6,784.7 1495.1,777.9 1495.6,783 1496.1,778.1 1496.6,784.6 1497.1,778 1497.6,784.7 1498.1,780.2 1498.6,783.6 1499.1,778.8 1499.6,785.2 1500.1,780.8 1500.6,785.5 1501.1,781.5 1501.6,786.9 1502.1,781 1502.6,787.3 1503.1,783.3 1503.6,786.6 1504.1,783.4 1504.6,787.2 1505.1,782.9 1505.6,786.7 1506.1,782.6 1506.6,788.5 1507.1,783.1 1507.6,788.6 1508.1,785.3 1508.6,790.4 1509.1,784.5 1509.6,790.4 1510.1,786.1 1510.6,790.1 1511.1,785.4 1511.6,789.9 1512.1,785.9 1512.6,790.5 1513.1,787.1 1513.6,791.3 1514.1,785.5 1514.6,791.5 1515.1,787.2 1515.6,793 1516.1,788.1 1516.6,791.8 1517.1,788 1517.6,794.1 1518.1,788.3 1518.6,794.4 1519.1,788.1 1519.6,793.3 1520.1,789 1520.6,794.5 1521.1,789.6 1521.6,795.2 1522.1,791.1 1522.6,795 1523.1,790.1 1523.6,794.1 1524.1,790.8 1524.6,795.1" fill="none" stroke="#0000FF" stroke-width="3" stroke-linejoin="round"/>
<polyline points="931.8,1069.7 932.4,1070.9 933,1069.7 933.6,1070.5 934.2,1070.7 934.8,1069.8 935.4,1069.9 936,1069.8 936.6,1069.3 937.2,1070 937.8,1069.6 938.4,1069.6 939,1069.5 939.6,1069.5 940.2,1070.6 940.8,1069.9 941.4,1069.6 942,1070.2 942.6,1070.3 943.2,1070.3 943.8,1070.8 944.4,1069.5 945,1069.9 945.6,1069.7 946.2,1069.2 946.8,1069.5 947.4,1069.9 948,1069.9 948.6,1070.3 949.2,1070 949.8,1070.3 950.4,1069.6 951,1069.5 951.6,1069.8 952.2,1069.4 952.8,1069.9 953.4,1070.1 954,1070.6 954.6,1070.8 955.2,1069.4 955.8,1071 956.4,1070.6 957,1071.1 957.6,1069.5 958.2,1070 958.8,1070.2 959.4,1070.6 960,1069.9 960.6,1070.1 961.2,1069.8 961.8,1070.1 962.4,1070.2 963,1070.3 963.6,1070.6 964.2,1069.8 964.8,1070.5 965.4,1069.5 966,1070.4 966.6,1070.2 967.2,1069.6 967.8,1069.8 968.4,1069.5 969,1070 969.6,1070.1 970.2,1070.3 970.8,1069.5 971.4,1070.7 972,1070 972.6,1069.9 973.2,1071 973.8,1070.5 974.4,1070.6 975,1070.4 975.6,1069.8 976.2,1069.7 976.8,1069.8 977.4,1070 978,1069.7 978.6,1070.3 979.2,1071.2 979.8,1070.8 980.4,1070 981,1070 981.6,1070.9 982.2,1071.2 982.8,1070.6 983.4,1069.9 984,1070.3 984.6,1069.8 985.2,1070.3 985.8,1071.1 986.4,1069.9 987,1070.3 987.6,1070.6 988.2,1071.2 988.8,1070.6 989.4,1070.3 990,1070.7 990.6,1070.1 991.2,1069.7 991.8,1071 992.4,1070.4 993,1071.2 993.6,1069.9 994.2,1069.6 994.8,1070.5 995.4,1070.8 996,1071.3 996.6,1070.7 997.2,1069.7 997.8,1070.6 998.4,1070.3 999,1069.9 999.6,1071.1 1000.2,1070.9 1000.8,1071.1 1001.4,1070.7 1002,1070.9 1002.6,1070.8 1003.2,1070.1 1003.8,1070.6 1004.4,1071.2 1005,1070.3 1005.6,1069.9 1006.2,1069.7 1006.8,1069.8 1007.4,1070.4 1008,1069.7 1008.6,1070.9 1009.2,1070.9 1009.8,1071.3 1010.4,1071 1011,1070.4 1011.6,1071 1012.2,1071 1012.8,1069.8 1013.4,1069.7 1014,1070 1014.6,1071.4 1015.2,1070.4 1015.8,1071.1 1016.4,1070.3 1017,1070.8 1017.6,1070.4 1018.2,1071.2 1018.8,1070.6 1019.4,1071.4 1020,1071.2 1020.6,1071.5 1021.2,1070.3 1021.8,1070.2 1022.4,1070.9 1023,1071 1023.6,1070.5 1024.2,1070 1024.8,1070.2 1025.4,1071.5 1026,1070.3 1026.6,1070.3 1027.2,1070.7 1027.8,1069.9 1028.4,1070 1029,1071.2 1029.6,1070.6 1030.2,1070.1 1030.8,1071.4 1031.4,1070.2 1032,1071 1032.6,1071 1033.2,1069.9 1033.8,1069.9 1034.4,1071.2 1035,1070 1035.6,1070.1 1036.2,1071.3 1036.8,1070.8 1037.4,1071.4 1038,1071.4 1038.6,1071.1 1039.2,1069.9 1039.8,1070.7 1040.4,1070.3 1041,1070.1 1041.6,1070.6 1042.2,1071.2 1042.8,1071.5 1043.4,1070.7 1044,1070.7 1044.6,1071.4 1045.2,1070.9 1045.8,1071.3 1046.4,1070.7 1047,1071.6 1047.6,1071.1 1048.2,1070.6 1048.8,1070.1 1049.4,1071.5 1050,1069.9 1050.6,1069.9 1051.2,1069.9 1051.8,1071.4 1052.4,1071.1 1053,1070 1053.6,1070 1054.2,1070.2 1054.8,1071.1 1055.4,1070.5 1056,1071.3 1056.6,1071.6 1057.2,1071 1057.8,1070.7 1058.4,1071.4 1059,1070.4 1059.6,1071.2 1060.2,1070 1060.8,1070.4 1061.4,1071.1 1062,1071.2 1062.6,1070.7 1063.2,1070.7 1063.8,1071.2 1064.4,1071.2 1065,1071.2 1065.6,1071.5 1066.2,1070.1 1066.8,1070.4 1067.4,1071.3 1068,1071.5 1068.6,1071.5 1069.2,1070.7 1069.8,1071.4 1070.4,1071 1071,1070.1 1071.6,1071.5 1072.2,1070.7 1072.8,1070 1073.4,1070.3 1074,1070.4 1074.6,1070.1 1075.2,1071.7 1075.8,1070.7 1076.4,1071 1077,1071 1077.6,1071.7 1078.2,1071 1078.8,1070.6 1079.4,1070.8 1080,1070.5 1080.6,1071.3 1081.2,1071.6 1081.8,1070.3 1082.4,1070 1083,1071.6 1083.6,1071.2 1084.2,1071.7 1084.8,1070.6 1085.4,1070.4 1086,1071.6 1086.6,1070.1 1087.2,1071.4 1087.8,1071.4 1088.4,1071.5 1089,1070.8 1089.6,1070.4 1090.2,1070.1 1090.8,1070.9 1091.4,1071.8 1092,1070.6 1092.6,1071 1093.2,1070.3 1093.8,1071.3 1094.4,1071.5 1095,1070.6 1095.6,1071 1096.2,1070.5 1096.8,1070.6 1097.4,1070.1 1098,1070.8 1098.6,1071.6 1099.2,1071.4 1099.8,1071.3 1100.4,1070.8 1101,1071 1101.6,1071.2 1102.2,1070.3 1102.8,1071.6 1103.4,1070.6 1104,1070.8 1104.6,1070.2 1105.2,1070.9 1105.8,1071.5 1106.4,1070.9 1107,1071.1 1107.6,1071.2 1108.2,1071.8 1108.8,1071.7 1109.4,1071 1110,1070.8 1110.6,1071.7 1111.2,1071.1 1111.8,1071.7 1112.4,1070.5 1113,1070.7 1113.6,1071.4 1114.2,1071.3 1114.8,1070.8 1115.4,1070.9 1116,1070.8 1116.6,1071.6 1117.2,1070.3 1117.8,1070.6 1118.4,1071.4 1119,1070.6 1119.6,1071.3 1120.2,1071 1120.8,1071.7 1121.4,1071.7 1122,1070.8 1122.6,1070.6 1123.2,1070.4 1123.8,1071 1124.4,1071 1125,1071.6 1125.6,1071.6 1126.2,1071.6 1126.8,1071.5 1127.4,1071.3 1128,1071 1128.6,1070.6 1129.2,1071.5 1129.8,1071.6 1130.4,1070.5 1131,1070.6 1131.6,1071.1 1132.2,1070.6 1132.8,1071 1133.4,1071.7 1134,1070.7 1134.6,1071.2 1135.2,1071 1135.8,1070.6 1136.4,1070.5 1137,1070.6 1137.6,1069.8 1138.2,1069.9 1138.8,1071 1139.4,1069.7 1140,1069.7 1140.6,1069.8 1141.2,1070.1 1141.8,1069.6 1142.4,1068.5 1143,1068.2 1143.6,1065.7 1144.2,1063.5 1144.8,1055.8 1145.4,1044.8 1146,1027.9 1146.6,1008.5 1147.2,993.1 1147.8,994.4 1148.4,1008.4 1149,1028.6 1149.6,1044.6 1150.2,1056.6 1150.8,1062.9 1151.4,1065.4 1152,1067.9 1152.6,1069.1 1153.2,1069.9 1153.8,1070.1 1154.4,1070.6 1155,1070.5 1155.6,1070.9 1156.2,1070.5 1156.8,1070.8 1157.4,1070.7 1158,1071.3 1158.6,1071 1159.2,1071.3 1159.8,1071.9 1160.4,1071.5 1161,1071.4 1161.6,1071.3 1162.2,1071.8 1162.8,1071.9 1163.4,1072.2 1164,1071.2 1164.6,1071.4 1165.2,1071.7 1165.8,1072 1166.4,1071.6 1167,1071 1167.6,1072 1168.2,1070.9 1168.8,1071.6 1169.4,1072.5 1170,1072.3 1170.6,1072.3 1171.2,1071.1 1171.8,1070.7 1172.4,1070.9 1173,1072.1 1173.6,1072.4 1174.2,1072.5 1174.8,1071.5 1175.4,1072.1 1176,1072.2 1176.6,1070.8 1177.2,1071.7 1177.8,1072.1 1178.4,1071.4 1179,1071.6 1179.6,1070.8 1180.2,1071.1 1180.8,1071 1181.4,1071.6 1182,1072.4 1182.6,1071.8 1183.2,1071.7 1183.8,1071.3 1184.4,1070.9 1185,1071.6 1185.6,1071.6 1186.2,1071.3 1186.8,1070.8 1187.4,1072.4 1188,1071.9 1188.6,1071.8 1189.2,1071.8 1189.8,1071.8 1190.4,1071.8 1191,1071.9 1191.6,1071.2 1192.2,1071 1192.8,1071.8 1193.4,1072.2 1194,1071.5 1194.6,1071.7 1195.2,1070.8 1195.8,1071.6 1196.4,1071.3 1197,1072.2 1197.6,1070.9 1198.2,1071.1 1198.8,1072.1 1199.4,1070.8 1200,1071.3 1200.6,1071.7 1201.2,1071.6 1201.8,1071.7 1202.4,1072.5 1203,1070.7 1203.6,1072 1204.2,1071.3 1204.8,1071.2 1205.4,1070.8 1206,1071.1 1206.6,1072.3 1207.2,1072.3 1207.8,1072.4 1208.4,1071.6 1209,1071 1209.6,1070.8 1210.2,1071.2 1210.8,1071.6 1211.4,1071.6 1212,1072.3 1212.6,1071.6 1213.2,1072.1 1213.8,1071.1 1214.4,1072.4 1215,1072.4 1215.6,1071.3 1216.2,1072.3 1216.8,1071.8 1217.4,1071.4 1218,1071.3 1218.6,1071.5 1219.2,1070.8 1219.8,1072.1 1220.4,1071.2 1221,1072.1 1221.6,1070.9 1222.2,1071.5 1222.8,1070.9 1223.4,1071.5 1224,1071.9 1224.6,1071.6 1225.2,1070.9 1225.8,1072.3 1226.4,1072.3 1227,1072.3 1227.6,1071.5 1228.2,1071.6 1228.8,1070.9 1229.4,1071 1230,1071.8 1230.6,1071.9 1231.2,1071.4 1231.8,1071.8 1232.4,1071.8 1233,1071.5 1233.6,1071.3 1234.2,1072.3 1234.8,1070.9 1235.4,1071.2 1236,1072.2 1236.6,1071.7 1237.2,1071.6 1237.8,1071.5 1238.4,1071.1 1239,1071.8 1239.6,1071.6 1240.2,1071.2 1240.8,1071.5 1241.4,1071.6 1242,1071.7 1242.6,1070.8 1243.2,1070.6 1243.8,1070.7 1244.4,1071.3 1245,1071.5 1245.6,1072 1246.2,1071.4 1246.8,1072.1 1247.4,1071.3 1248,1070.7 1248.6,1070.6 1249.2,1071.4 1249.8,1071.1 1250.4,1070.7 1251,1071.1 1251.6,1071.9 1252.2,1072.2 1252.8,1070.5 1253.4,1070.5 1254,1070.5 1254.6,1071 1255.2,1071 1255.8,1070.9 1256.4,1071.7 1257,1070.8 1257.6,1070.9 1258.2,1070.9 1258.8,1071 1259.4,1070.6 1260,1071.3 1260.6,1071 1261.2,1070.9 1261.8,1070.3 1262.4,1069.6 1263,1069.4 1263.6,1069.4 1264.2,1069.3 1264.8,1068.8 1265.4,1068.2 1266,1069 1266.6,1070.1 1267.2,1070.7 1267.8,1070 1268.4,1070.1 1269,1070.1 1269.6,1071.1 1270.2,1070.2 1270.8,1071.1 1271.4,1070.8 1272,1071.3 1272.6,1070.5 1273.2,1070.8 1273.8,1071.4 1274.4,1070 1275,1070.3 1275.6,1070.4 1276.2,1070.7 1276.8,1069.7 1277.4,1069.2 1278,1069.4 1278.6,1068.4 1279.2,1067.8 1279.8,1067.5 1280.4,1066.4 1281,1065.8 1281.6,1066.6 1282.2,1067 1282.8,1067 1283.4,1067.5 1284,1068.3 1284.6,1068.2 1285.2,1068.4 1285.8,1069.4 1286.4,1069.2 1287,1069.6 1287.6,1069.9 1288.2,1069.7 1288.8,1070.2 1289.4,1070.5 1290,1069.6 1290.6,1071 1291.2,1070.5 1291.8,1071.2 1292.4,1070.9 1293,1070.3 1293.6,1070.6 1294.2,1070.4 1294.8,1069.5 1295.4,1071 1296,1069.8 1296.6,1069.8 1297.2,1069.3 1297.8,1070 1298.4,1069.6 1299,1070.6 1299.6,1070.1 1300.2,1070.3 1300.8,1069.4 1301.4,1069.7 1302,1069.6 1302.6,1069.1 1303.2,1069.5 1303.8,1069.5 1304.4,1069.6 1305,1068.9 1305.6,1068.8 1306.2,1068.9 1306.8,1069.3 1307.4,1068 1308,1068.7 1308.6,1068.4 1309.2,1066.8 1309.8,1066.9 1310.4,1065.9 1311,1066 1311.6,1066 1312.2,1065.4 1312.8,1063 1313.4,1062.1 1314,1062.5 1314.6,1060.1 1315.2,1060.5 1315.8,1058.7 1316.4,1058.2 1317,1057.8 1317.6,1055.7 1318.2,1056 1318.8,1055.4 1319.4,1055.7 1320,1055.2 1320.6,1055.3 1321.2,1055.4 1321.8,1053.7 1322.4,1052.1 1323,1048.7 1323.6,1045.8 1324.2,1039.8 1324.8,1034.9 1325.4,1029.2 1326,1028.8 1326.6,1030.8 1327.2,1037.6 1327.8,1043.7 1328.4,1050.4 1329,1056.4 1329.6,1061.6 1330.2,1064.5 1330.8,1065.1 1331.4,1066.5 1332,1067.9 1332.6,1067.7 1333.2,1069.2 1333.8,1069.6 1334.4,1068.8 1335,1068.8 1335.6,1069.5 1336.2,1069.8 1336.8,1069.8 1337.4,1070.4 1338,1071.3 1338.6,1070 1339.2,1071.4 1339.8,1071.2 1340.4,1070.8 1341,1070.5 1341.6,1070.3 1342.2,1070.3 1342.8,1070.1 1343.4,1070.8 1344,1070.9 1344.6,1070.7 1345.2,1071.7 1345.8,1071.7 1346.4,1070.4 1347,1071.3 1347.6,1070.6 1348.2,1070.3 1348.8,1072 1349.4,1070.9 1350,1070.9 1350.6,1070.7 1351.2,1071.9 1351.8,1070.5 1352.4,1071.4 1353,1071.9 1353.6,1071.8 1354.2,1071.1 1354.8,1071.5 1355.4,1070.4 1356,1072 1356.6,1070.4 1357.2,1071.5 1357.8,1071.4 1358.4,1070.5 1359,1070.5 1359.6,1070.8 1360.2,1071.2 1360.8,1071.7 1361.4,1071.4 1362,1072 1362.6,1071.8 1363.2,1071.8 1363.8,1070.9 1364.4,1071.7 1365,1071.6 1365.6,1071.8 1366.2,1071.7 1366.8,1071.4 1367.4,1070.9 1368,1070.9 1368.6,1071.3 1369.2,1070.7 1369.8,1071.4 1370.4,1070.6 1371,1070.8 1371.6,1072.3 1372.2,1071.1 1372.8,1072.1 1373.4,1072 1374,1071.5 1374.6,1072.2 1375.2,1071.8 1375.8,1070.7 1376.4,1071.1 1377,1071.7 1377.6,1071.2 1378.2,1071.1 1378.8,1071.3 1379.4,1071.2 1380,1071.9 1380.6,1072 1381.2,1071.8 1381.8,1071.7 1382.4,1071.9 1383,1071.2 1383.6,1072 1384.2,1071.2 1384.8,1072 1385.4,1071.8 1386,1071.5 1386.6,1070.8 1387.2,1071.7 1387.8,1070.8 1388.4,1071 1389,1071.9 1389.6,1071.5 1390.2,1071 1390.8,1072.2 1391.4,1070.7 1392,1071.9 1392.6,1072.1 1393.2,1070.9 1393.8,1072.2 1394.4,1070.8 1395,1070.9 1395.6,1071.4 1396.2,1072.3 1396.8,1071.1 1397.4,1070.5 1398,1071.6 1398.6,1071 1399.2,1072.1 1399.8,1070.8 1400.4,1071.6 1401,1070.4 1401.6,1071.5 1402.2,1070.7 1402.8,1071.9 1403.4,1070.6 1404,1070.9 1404.6,1071.1 1405.2,1069.2 1405.8,1068.4 1406.4,1067.8 1407,1065.8 1407.6,1064.6 1408.2,1064.8 1408.8,1066.2 1409.4,1067.5 1410,1070.1 1410.6,1069.9 1411.2,1071.3 1411.8,1071.2 1412.4,1070.9 1413,1070.4 1413.6,1070.4 1414.2,1070.8 1414.8,1071.8 1415.4,1071.6 1416,1070.7 1416.6,1071.3 1417.2,1070.9 1417.8,1070.8 1418.4,1071.7 1419,1071.3 1419.6,1071.7 1420.2,1071.3 1420.8,1072.1 1421.4,1070.5 1422,1071.4 1422.6,1070.6 1423.2,1070.6 1423.8,1071.7 1424.4,1070.6 1425,1072 1425.6,1070.8 1426.2,1070.8 1426.8,1071.5 1427.4,1070.9 1428,1071.7 1428.6,1071.3 1429.2,1072.1 1429.8,1071.8 1430.4,1071.5 1431,1071.5 1431.6,1072.1 1432.2,1071.3 1432.8,1071.7 1433.4,1071.8 1434,1071.6 1434.6,1071.6 1435.2,1071.6 1435.8,1071 1436.4,1070.7 1437,1071.2 1437.6,1071.4 1438.2,1071.1 1438.8,1071.5 1439.4,1071.7 1440,1071.9 1440.6,1071.7 1441.2,1072.1 1441.8,1071.7 1442.4,1071.1 1443,1071.5 1443.6,1070.7 1444.2,1071.6 1444.8,1072.3 1445.4,1071.8 1446,1070.5 1446.6,1071.4 1447.2,1070.7 1447.8,1071.8 1448.4,1070.6 1449,1071.7 1449.6,1070.5 1450.2,1071.8 1450.8,1071.6 1451.4,1071.8 1452,1071.9 1452.6,1071.4 1453.2,1072.1 1453.8,1071.7 1454.4,1071.2 1455,1071.2 1455.6,1071.1 1456.2,1071.1 1456.8,1071.8 1457.4,1070.5 1458,1071 1458.6,1072 1459.2,1071.1 1459.8,1071.8 1460.4,1070.8 1461,1072 1461.6,1070.6 1462.2,1071.6 1462.8,1070.6 1463.4,1071.5 1464,1071.5 1464.6,1070.7 1465.2,1070.9 1465.8,1070.6 1466.4,1071 1467,1070.7 1467.6,1070.7 1468.2,1070.9 1468.8,1070.7 1469.4,1072.1 1470,1071.8 1470.6,1070.5 1471.2,1070.7 1471.8,1072.1 1472.4,1071.4 1473,1071.2 1473.6,1070.5 1474.2,1070.5 1474.8,1071.2 1475.4,1071.1 1476,1071.1 1476.6,1070.5 1477.2,1070.9 1477.8,1071.7 1478.4,1071.3 1479,1071 1479.6,1071.8 1480.2,1070.6 1480.8,1071.6 1481.4,1070.8 1482,1071.7 1482.6,1071 1483.2,1070.6 1483.8,1071.3 1484.4,1070.6 1485,1071.7 1485.6,1072 1486.2,1071.3 1486.8,1071.8 1487.4,1071.3 1488,1072 1488.6,1070.8 1489.2,1070.7 1489.8,1070.5 1490.4,1070.9 1491,1071.2 1491.6,1071.1 1492.2,1070.5 1492.8,1071.3 1493.4,1070.5 1494,1071.1 1494.6,1071.8 1495.2,1071.4 1495.8,1071.4 1496.4,1071.2 1497,1071.2 1497.6,1070.5 1498.2,1070.5 1498.8,1071 1499.4,1071.8 1500,1071.3 1500.6,1071.5 1501.2,1071.9 1501.8,1071.9 1502.4,1071.7 1503,1071.2 1503.6,1070.4 1504.2,1071 1504.8,1070.9 1505.4,1071.3 1506,1071.7 1506.6,1071.9 1507.2,1071.8 1507.8,1071.5 1508.4,1071.4 1509,1071.1 1509.6,1070.4 1510.2,1070.9 1510.8,1071.1 1511.4,1071 1512,1072.1 1512.6,1071.5 1513.2,1071.9 1513.8,1071.6 1514.4,1071.2 1515,1071.4 1515.6,1071.3 1516.2,1071.1 1516.8,1070.6 1517.4,1070.4 1518,1070.6 1518.6,1070.7 1519.2,1072 1519.8,1071 1520.4,1070.9 1521,1070.7 1521.6,1071.7 1522.2,1071.2 1522.8,1070.9 1523.4,1071.3 1524,1070.8 1524.6,1071.3 1525.2,1071.8 1525.8,1070.8 1526.4,1071.9 1527,1071.1" fill="none" stroke="#F42A2A" stroke-width="3.2" stroke-linejoin="round"/>
<text x="1038.5" y="859.4" font-size="24" font-weight="normal" text-anchor="middle" fill="#000">D</text>
<text x="1129.4" y="1003.6" font-size="24" font-weight="normal" text-anchor="middle" fill="#000">G</text>
<text x="1288.3" y="1009.4" font-size="24" font-weight="normal" text-anchor="middle" fill="#000">2D</text>
<text x="1435.5" y="1050.9" font-size="24.5" font-weight="normal" text-anchor="middle" fill="#000">I(2D)/I(G)=1.79</text>
<rect x="1249.2" y="1020.9" width="89.5" height="70.5" fill="none" stroke="#222" stroke-width="1.4" stroke-dasharray="5 3.5"/>
<rect x="1343.5" y="847.1" width="157.9" height="155.3" fill="none" stroke="#000" stroke-width="1.5"/>
<polyline points="1344.5,986.1 1345,985.5 1345.5,985.8 1346,986 1346.5,985.9 1347,986.1 1347.5,986.1 1348,986.1 1348.5,985.2 1349,985.6 1349.5,985.7 1350,985.3 1350.5,985.2 1351,986 1351.5,986.2 1352,986 1352.5,985.5 1353,985.9 1353.5,985.5 1354,985.9 1354.5,985.5 1355,986 1355.5,986.2 1356,986.2 1356.5,986.1 1357,986.1 1357.5,985.9 1358,985.8 1358.5,986.1 1359,985.3 1359.5,985.6 1360,985.8 1360.5,985.7 1361,986 1361.5,985.4 1362,985.3 1362.5,985.3 1363,986.2 1363.5,985.3 1364,985.4 1364.5,985.6 1365,985.8 1365.5,986 1366,985.3 1366.5,986.1 1367,986 1367.5,985.5 1368,985.4 1368.5,985.8 1369,985.8 1369.5,985.5 1370,985.4 1370.5,986 1371,985.9 1371.5,985.9 1372,985.2 1372.5,985.5 1373,984.6 1373.5,984.3 1374,984.2 1374.5,984.6 1375,984.1 1375.5,983.9 1376,983.7 1376.5,983.5 1377,982.9 1377.5,983.1 1378,982.1 1378.5,982.3 1379,981.7 1379.5,981.5 1380,982.1 1380.5,981.5 1381,981.5 1381.5,981 1382,980.8 1382.5,980.7 1383,980.3 1383.5,980 1384,979.8 1384.5,979.6 1385,979.1 1385.5,979.1 1386,978.3 1386.5,978 1387,977.2 1387.5,976.9 1388,976.3 1388.5,975.1 1389,975.2 1389.5,974.8 1390,973.6 1390.5,973.4 1391,973 1391.5,972 1392,971.1 1392.5,970.9 1393,970.1 1393.5,968.5 1394,967.3 1394.5,966.8 1395,965.4 1395.5,963.9 1396,963 1396.5,961.9 1397,961.2 1397.5,960.1 1398,959 1398.5,957.8 1399,956.8 1399.5,956 1400,955.2 1400.5,954.5 1401,953.9 1401.5,953.5 1402,952.5 1402.5,951.6 1403,951.3 1403.5,949.8 1404,949.9 1404.5,948.7 1405,947.9 1405.5,947.3 1406,946.1 1406.5,945.3 1407,943.9 1407.5,943.1 1408,942.1 1408.5,940.7 1409,940 1409.5,937.7 1410,935.8 1410.5,934 1411,932.6 1411.5,930.4 1412,928 1412.5,926.3 1413,925.2 1413.5,924.6 1414,926.1 1414.5,928 1415,930.5 1415.5,931.9 1416,934.2 1416.5,936.2 1417,938.7 1417.5,940.2 1418,941.9 1418.5,944.3 1419,946.6 1419.5,949.4 1420,951.7 1420.5,954.7 1421,957.7 1421.5,960.2 1422,963.2 1422.5,964.8 1423,967.2 1423.5,968.5 1424,970.5 1424.5,972.7 1425,974.4 1425.5,976.5 1426,977.6 1426.5,977.7 1427,978 1427.5,978.7 1428,979.2 1428.5,978.8 1429,980 1429.5,979.8 1430,979.9 1430.5,980.3 1431,981.2 1431.5,981 1432,981.2 1432.5,982 1433,982.7 1433.5,982.4 1434,982.9 1434.5,983 1435,983.7 1435.5,983.7 1436,983.5 1436.5,984.1 1437,983.4 1437.5,983.7 1438,984 1438.5,984.3 1439,984.4 1439.5,984.2 1440,984.9 1440.5,985 1441,985 1441.5,984.8 1442,985.3 1442.5,984.8 1443,984.8 1443.5,984.9 1444,985.7 1444.5,986 1445,985.5 1445.5,986 1446,985.7 1446.5,986.3 1447,985.8 1447.5,986.3 1448,986.7 1448.5,986.9 1449,986.6 1449.5,986.6 1450,986.4 1450.5,986.2 1451,986.8 1451.5,986.1 1452,986.8 1452.5,986.4 1453,986.1 1453.5,986.2 1454,986.6 1454.5,986.4 1455,986.3 1455.5,986.5 1456,987 1456.5,986.9 1457,986.7 1457.5,986.6 1458,987.2 1458.5,986.8 1459,986.9 1459.5,987.1 1460,986.8 1460.5,986.9 1461,986.8 1461.5,987.2 1462,987.1 1462.5,986.8 1463,987.2 1463.5,986.7 1464,986.8 1464.5,987.1 1465,986.6 1465.5,987.4 1466,986.5 1466.5,987.5 1467,986.8 1467.5,987.4 1468,986.9 1468.5,987.4 1469,987.1 1469.5,987.1 1470,987.2 1470.5,987.6 1471,987.5 1471.5,987 1472,986.9 1472.5,987.6 1473,986.8 1473.5,986.8 1474,987.4 1474.5,986.9 1475,986.7 1475.5,987.4 1476,986.9 1476.5,987 1477,987.5 1477.5,987.7 1478,987.3 1478.5,987.3 1479,986.9 1479.5,987.3 1480,987 1480.5,987.4 1481,987 1481.5,987.2 1482,987.8 1482.5,987.2 1483,987.7 1483.5,987.6 1484,987 1484.5,987.4 1485,987.5 1485.5,987.4 1486,987.2 1486.5,987.3 1487,987.7 1487.5,987.6 1488,987.4 1488.5,987.5 1489,987.5 1489.5,987.5 1490,987.6 1490.5,988 1491,987.1 1491.5,987.7 1492,987.2 1492.5,987.2 1493,988.1 1493.5,987.8 1494,987.7 1494.5,988 1495,987.7 1495.5,988.1 1496,988.1 1496.5,988.2 1497,987.3 1497.5,987.6 1498,987.4 1498.5,988 1499,987.9 1499.5,987.6 1500,987.4 1500.5,987.8" fill="none" stroke="#F42A2A" stroke-width="1.8" stroke-linejoin="round"/>
<line x1="1343.5" y1="1002.4" x2="1343.5" y2="1005" stroke="#000" stroke-width="1"/>
<line x1="1357.9" y1="1002.4" x2="1357.9" y2="1005" stroke="#000" stroke-width="1"/>
<line x1="1372.2" y1="1002.4" x2="1372.2" y2="1005" stroke="#000" stroke-width="1"/>
<line x1="1386.6" y1="1002.4" x2="1386.6" y2="1005" stroke="#000" stroke-width="1"/>
<line x1="1400.9" y1="1002.4" x2="1400.9" y2="1005" stroke="#000" stroke-width="1"/>
<line x1="1415.3" y1="1002.4" x2="1415.3" y2="1005" stroke="#000" stroke-width="1"/>
<line x1="1429.6" y1="1002.4" x2="1429.6" y2="1005" stroke="#000" stroke-width="1"/>
<line x1="1444" y1="1002.4" x2="1444" y2="1005" stroke="#000" stroke-width="1"/>
<line x1="1458.3" y1="1002.4" x2="1458.3" y2="1005" stroke="#000" stroke-width="1"/>
<line x1="1472.7" y1="1002.4" x2="1472.7" y2="1005" stroke="#000" stroke-width="1"/>
<line x1="1487" y1="1002.4" x2="1487" y2="1005" stroke="#000" stroke-width="1"/>
<line x1="1501.4" y1="1002.4" x2="1501.4" y2="1005" stroke="#000" stroke-width="1"/>
<line x1="1351" y1="1010" x2="1363" y2="982" stroke="#111" stroke-width="1" stroke-dasharray="2.5 1.5"/>
<path d="M1365.8 975.5L1359.5 984L1364.8 985.8Z" fill="#111"/>
<text x="1415.7" y="920.5" font-size="8" font-weight="bold" text-anchor="middle" fill="#000">2D</text>
<text x="1397.3" y="949" font-size="8" font-weight="bold" text-anchor="middle" fill="#000">2D<tspan font-size="5" dy="1">1</tspan></text>
<text x="1343.5" y="1011.5" font-size="5.5" font-weight="normal" text-anchor="middle" fill="#555">2400</text>
<text x="1375.1" y="1011.5" font-size="5.5" font-weight="normal" text-anchor="middle" fill="#555">2500</text>
<text x="1406.7" y="1011.5" font-size="5.5" font-weight="normal" text-anchor="middle" fill="#555">2600</text>
<text x="1438.2" y="1011.5" font-size="5.5" font-weight="normal" text-anchor="middle" fill="#555">2700</text>
<text x="1469.8" y="1011.5" font-size="5.5" font-weight="normal" text-anchor="middle" fill="#555">2800</text>
<text x="1501.4" y="1011.5" font-size="5.5" font-weight="normal" text-anchor="middle" fill="#555">2900</text>
<rect x="931.2" y="673" width="634" height="467.4" fill="none" stroke="#000" stroke-width="3"/>
<line x1="938.2" y1="1140.4" x2="938.2" y2="1144.9" stroke="#000" stroke-width="2.6"/>
<line x1="977.4" y1="1140.4" x2="977.4" y2="1148.4" stroke="#000" stroke-width="2.6"/>
<text x="977.4" y="1174.5" font-size="25" font-weight="bold" text-anchor="middle" fill="#000">500</text>
<line x1="1016.6" y1="1140.4" x2="1016.6" y2="1144.9" stroke="#000" stroke-width="2.6"/>
<line x1="1055.8" y1="1140.4" x2="1055.8" y2="1148.4" stroke="#000" stroke-width="2.6"/>
<text x="1055.8" y="1174.5" font-size="25" font-weight="bold" text-anchor="middle" fill="#000">1000</text>
<line x1="1094.9" y1="1140.4" x2="1094.9" y2="1144.9" stroke="#000" stroke-width="2.6"/>
<line x1="1134.1" y1="1140.4" x2="1134.1" y2="1148.4" stroke="#000" stroke-width="2.6"/>
<text x="1134.1" y="1174.5" font-size="25" font-weight="bold" text-anchor="middle" fill="#000">1500</text>
<line x1="1173.3" y1="1140.4" x2="1173.3" y2="1144.9" stroke="#000" stroke-width="2.6"/>
<line x1="1212.5" y1="1140.4" x2="1212.5" y2="1148.4" stroke="#000" stroke-width="2.6"/>
<text x="1212.5" y="1174.5" font-size="25" font-weight="bold" text-anchor="middle" fill="#000">2000</text>
<line x1="1251.7" y1="1140.4" x2="1251.7" y2="1144.9" stroke="#000" stroke-width="2.6"/>
<line x1="1290.9" y1="1140.4" x2="1290.9" y2="1148.4" stroke="#000" stroke-width="2.6"/>
<text x="1290.9" y="1174.5" font-size="25" font-weight="bold" text-anchor="middle" fill="#000">2500</text>
<line x1="1330.1" y1="1140.4" x2="1330.1" y2="1144.9" stroke="#000" stroke-width="2.6"/>
<line x1="1369.2" y1="1140.4" x2="1369.2" y2="1148.4" stroke="#000" stroke-width="2.6"/>
<text x="1369.2" y="1174.5" font-size="25" font-weight="bold" text-anchor="middle" fill="#000">3000</text>
<line x1="1408.4" y1="1140.4" x2="1408.4" y2="1144.9" stroke="#000" stroke-width="2.6"/>
<line x1="1447.6" y1="1140.4" x2="1447.6" y2="1148.4" stroke="#000" stroke-width="2.6"/>
<text x="1447.6" y="1174.5" font-size="25" font-weight="bold" text-anchor="middle" fill="#000">3500</text>
<line x1="1486.8" y1="1140.4" x2="1486.8" y2="1144.9" stroke="#000" stroke-width="2.6"/>
<line x1="1526" y1="1140.4" x2="1526" y2="1148.4" stroke="#000" stroke-width="2.6"/>
<text x="1526" y="1174.5" font-size="25" font-weight="bold" text-anchor="middle" fill="#000">4000</text>
<line x1="1565.2" y1="1140.4" x2="1565.2" y2="1144.9" stroke="#000" stroke-width="2.6"/>
<line x1="1565.2" y1="1140.4" x2="1565.2" y2="1144.9" stroke="#000" stroke-width="2.6"/>
<text x="1117.2" y="1215.4" font-size="32" font-weight="bold" text-anchor="start" fill="#000">Raman shift (cm<tspan dx="1.5" dy="-10" font-size="21">-1</tspan><tspan dx="1.5" dy="10">)</tspan></text>
<text x="898.8" y="905.5" font-size="32.6" font-weight="bold" text-anchor="middle" fill="#000" transform="rotate(-90 898.8 905.5)">Intensity (a.u.)</text>
<line x1="1396.5" y1="692" x2="1453.5" y2="692" stroke="#0000FF" stroke-width="2.6"/>
<text x="1460.2" y="701.2" font-size="24" font-weight="bold" text-anchor="start" fill="#0000FF">Charge</text>
<line x1="1396.5" y1="723" x2="1453.5" y2="723" stroke="#F42A2A" stroke-width="2.6"/>
<text x="1460.2" y="731.8" font-size="24" font-weight="bold" text-anchor="start" fill="#F42A2A">Discharge</text></svg></body></html>
